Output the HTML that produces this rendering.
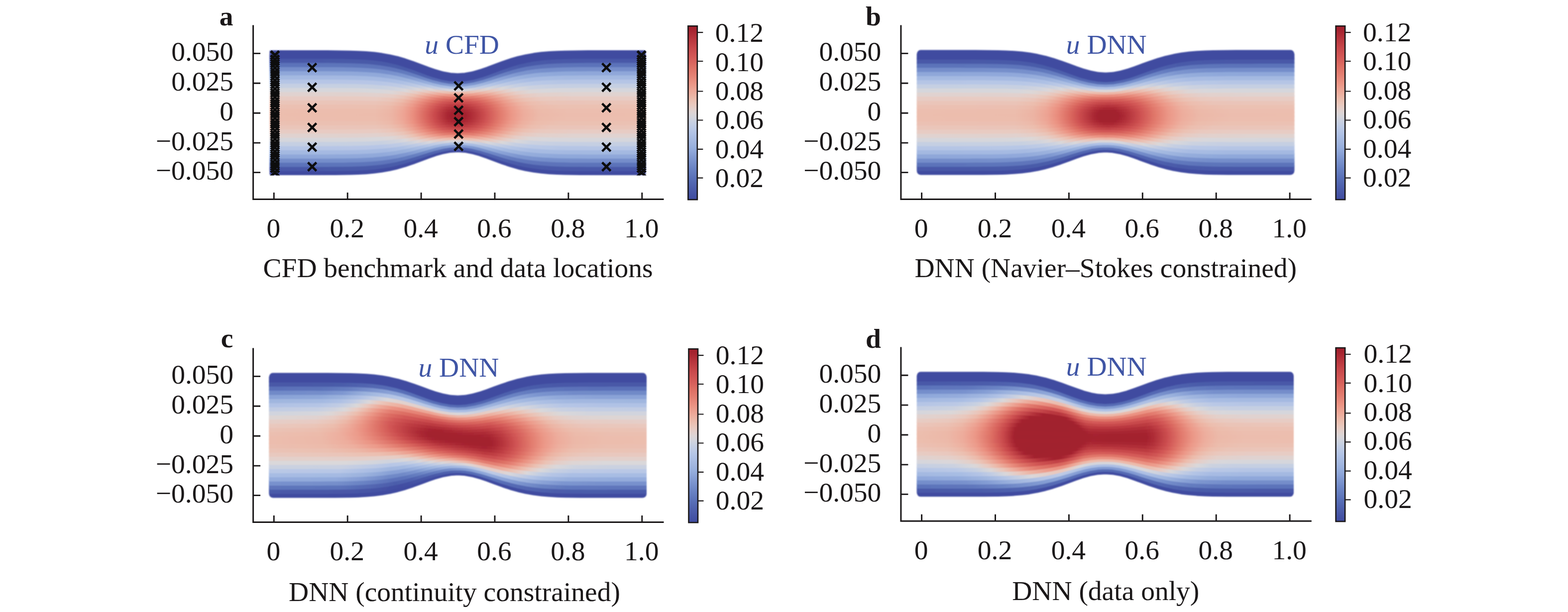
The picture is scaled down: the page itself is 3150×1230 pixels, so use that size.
<!DOCTYPE html>
<html lang="en"><head><meta charset="utf-8"><title>Stenosis flow: CFD vs DNN</title>
<style>
html,body{margin:0;padding:0;background:#fff;}
body{width:3150px;height:1230px;overflow:hidden;}
svg{display:block;font-family:"Liberation Serif","DejaVu Serif",serif;font-size:55.5px;fill:#1a1718;}
</style></head><body>
<svg width="3150" height="1230" viewBox="0 0 3150 1230">
<rect width="3150" height="1230" fill="#fff"/>
<defs><filter id="soft" x="-2%" y="-8%" width="104%" height="116%"><feGaussianBlur stdDeviation="0.9"/></filter><filter id="soft2" x="-2%" y="-8%" width="104%" height="116%"><feGaussianBlur stdDeviation="0.55"/></filter></defs>
<g id="panel-a">
<g filter="url(#soft)">
<defs><linearGradient id="ga1" gradientUnits="userSpaceOnUse" x1="550.1" y1="0" x2="1288.7" y2="0"><stop offset="0.000" stop-color="#4959a8"/><stop offset="0.354" stop-color="#4a5ba9"/><stop offset="0.496" stop-color="#566bb5"/><stop offset="0.571" stop-color="#5265b1"/><stop offset="0.671" stop-color="#4a5aa9"/><stop offset="1.000" stop-color="#4959a8"/></linearGradient><linearGradient id="ga2" gradientUnits="userSpaceOnUse" x1="550.1" y1="0" x2="1288.7" y2="0"><stop offset="0.000" stop-color="#5c73ba"/><stop offset="0.321" stop-color="#5e75bb"/><stop offset="0.383" stop-color="#667fc1"/><stop offset="0.479" stop-color="#829bd3"/><stop offset="0.517" stop-color="#839cd3"/><stop offset="0.588" stop-color="#718ac8"/><stop offset="0.650" stop-color="#637abe"/><stop offset="0.733" stop-color="#5d73ba"/><stop offset="1.000" stop-color="#5c73ba"/></linearGradient><linearGradient id="ga3" gradientUnits="userSpaceOnUse" x1="550.1" y1="0" x2="1288.7" y2="0"><stop offset="0.000" stop-color="#748dca"/><stop offset="0.308" stop-color="#768fcc"/><stop offset="0.362" stop-color="#7f98d1"/><stop offset="0.421" stop-color="#99b0dd"/><stop offset="0.475" stop-color="#acc0e4"/><stop offset="0.508" stop-color="#afc2e5"/><stop offset="0.562" stop-color="#a3b8e0"/><stop offset="0.617" stop-color="#8ca4d8"/><stop offset="0.667" stop-color="#7c95cf"/><stop offset="0.746" stop-color="#758ecb"/><stop offset="1.000" stop-color="#748dca"/></linearGradient><linearGradient id="ga4" gradientUnits="userSpaceOnUse" x1="550.1" y1="0" x2="1288.7" y2="0"><stop offset="0.000" stop-color="#8fa7d9"/><stop offset="0.296" stop-color="#91a9da"/><stop offset="0.354" stop-color="#9ab1dd"/><stop offset="0.404" stop-color="#adc0e4"/><stop offset="0.429" stop-color="#bccae5"/><stop offset="0.475" stop-color="#d6d6dc"/><stop offset="0.500" stop-color="#dbd7d9"/><stop offset="0.529" stop-color="#d6d6dc"/><stop offset="0.588" stop-color="#b7c7e6"/><stop offset="0.625" stop-color="#a5bae2"/><stop offset="0.688" stop-color="#95addc"/><stop offset="0.771" stop-color="#8fa8da"/><stop offset="1.000" stop-color="#8fa7d9"/></linearGradient><linearGradient id="ga5" gradientUnits="userSpaceOnUse" x1="550.1" y1="0" x2="1288.7" y2="0"><stop offset="0.000" stop-color="#a4b9e1"/><stop offset="0.304" stop-color="#a6bae2"/><stop offset="0.350" stop-color="#adc0e4"/><stop offset="0.388" stop-color="#becbe4"/><stop offset="0.417" stop-color="#d4d5dd"/><stop offset="0.425" stop-color="#dbd8d9"/><stop offset="0.454" stop-color="#e9c8bd"/><stop offset="0.479" stop-color="#ecbbab"/><stop offset="0.500" stop-color="#ecb7a7"/><stop offset="0.525" stop-color="#ecbcac"/><stop offset="0.554" stop-color="#e8cac0"/><stop offset="0.583" stop-color="#dad8d9"/><stop offset="0.621" stop-color="#c0cce4"/><stop offset="0.650" stop-color="#b3c4e5"/><stop offset="0.696" stop-color="#a8bce3"/><stop offset="0.812" stop-color="#a4b9e1"/><stop offset="1.000" stop-color="#a4b9e1"/></linearGradient><linearGradient id="ga6" gradientUnits="userSpaceOnUse" x1="550.1" y1="0" x2="1288.7" y2="0"><stop offset="0.000" stop-color="#b5c5e5"/><stop offset="0.292" stop-color="#b7c6e6"/><stop offset="0.342" stop-color="#bfcbe4"/><stop offset="0.371" stop-color="#ccd2df"/><stop offset="0.392" stop-color="#dbd7d9"/><stop offset="0.417" stop-color="#e9c9bf"/><stop offset="0.450" stop-color="#eda999"/><stop offset="0.475" stop-color="#eb9686"/><stop offset="0.496" stop-color="#ea8f80"/><stop offset="0.521" stop-color="#eb9383"/><stop offset="0.550" stop-color="#eda595"/><stop offset="0.583" stop-color="#ebc2b4"/><stop offset="0.600" stop-color="#e5cdc7"/><stop offset="0.621" stop-color="#dad8d9"/><stop offset="0.654" stop-color="#c6cfe2"/><stop offset="0.700" stop-color="#bac9e6"/><stop offset="0.787" stop-color="#b5c5e5"/><stop offset="1.000" stop-color="#b5c5e5"/></linearGradient><linearGradient id="ga7" gradientUnits="userSpaceOnUse" x1="550.1" y1="0" x2="1288.7" y2="0"><stop offset="0.000" stop-color="#c5cfe2"/><stop offset="0.292" stop-color="#c7d0e1"/><stop offset="0.338" stop-color="#d1d4de"/><stop offset="0.358" stop-color="#dad8da"/><stop offset="0.388" stop-color="#e8cbc2"/><stop offset="0.408" stop-color="#ecb9a9"/><stop offset="0.442" stop-color="#eb9383"/><stop offset="0.462" stop-color="#e37e71"/><stop offset="0.487" stop-color="#df7266"/><stop offset="0.512" stop-color="#df7266"/><stop offset="0.542" stop-color="#e37e71"/><stop offset="0.571" stop-color="#ec9989"/><stop offset="0.608" stop-color="#ebbfb1"/><stop offset="0.633" stop-color="#e4cfc9"/><stop offset="0.658" stop-color="#dad8da"/><stop offset="0.700" stop-color="#ccd2e0"/><stop offset="0.767" stop-color="#c6cfe2"/><stop offset="1.000" stop-color="#c5cfe2"/></linearGradient><linearGradient id="ga8" gradientUnits="userSpaceOnUse" x1="550.1" y1="0" x2="1288.7" y2="0"><stop offset="0.000" stop-color="#d5d6dc"/><stop offset="0.283" stop-color="#d7d7db"/><stop offset="0.321" stop-color="#dcd6d7"/><stop offset="0.354" stop-color="#e5cec8"/><stop offset="0.379" stop-color="#ebc1b2"/><stop offset="0.404" stop-color="#eda797"/><stop offset="0.425" stop-color="#e98d7e"/><stop offset="0.446" stop-color="#e0766a"/><stop offset="0.467" stop-color="#d8645d"/><stop offset="0.487" stop-color="#d35857"/><stop offset="0.512" stop-color="#d35857"/><stop offset="0.533" stop-color="#d7615c"/><stop offset="0.558" stop-color="#e07569"/><stop offset="0.579" stop-color="#e7897a"/><stop offset="0.600" stop-color="#eca090"/><stop offset="0.629" stop-color="#ecbdae"/><stop offset="0.658" stop-color="#e6cdc6"/><stop offset="0.696" stop-color="#dcd6d6"/><stop offset="0.733" stop-color="#d8d7db"/><stop offset="0.946" stop-color="#d5d6dc"/><stop offset="1.000" stop-color="#d5d6dc"/></linearGradient><linearGradient id="ga9" gradientUnits="userSpaceOnUse" x1="550.1" y1="0" x2="1288.7" y2="0"><stop offset="0.000" stop-color="#e0d3d0"/><stop offset="0.279" stop-color="#e1d1ce"/><stop offset="0.325" stop-color="#e6cdc5"/><stop offset="0.354" stop-color="#eac3b6"/><stop offset="0.375" stop-color="#ecb4a4"/><stop offset="0.408" stop-color="#ea8f80"/><stop offset="0.438" stop-color="#dd6d62"/><stop offset="0.458" stop-color="#d25756"/><stop offset="0.483" stop-color="#c8494b"/><stop offset="0.504" stop-color="#c64649"/><stop offset="0.533" stop-color="#cd4f50"/><stop offset="0.554" stop-color="#d65d5a"/><stop offset="0.579" stop-color="#e1776a"/><stop offset="0.608" stop-color="#eb9787"/><stop offset="0.646" stop-color="#ecbaaa"/><stop offset="0.679" stop-color="#e8c9c0"/><stop offset="0.721" stop-color="#e3d0cb"/><stop offset="0.812" stop-color="#e0d3d0"/><stop offset="1.000" stop-color="#e0d3d0"/></linearGradient><linearGradient id="ga10" gradientUnits="userSpaceOnUse" x1="550.1" y1="0" x2="1288.7" y2="0"><stop offset="0.000" stop-color="#e7ccc4"/><stop offset="0.279" stop-color="#e8cbc2"/><stop offset="0.321" stop-color="#eac5b9"/><stop offset="0.350" stop-color="#ecbaaa"/><stop offset="0.379" stop-color="#eca292"/><stop offset="0.400" stop-color="#e88b7c"/><stop offset="0.429" stop-color="#db6860"/><stop offset="0.450" stop-color="#ce5152"/><stop offset="0.479" stop-color="#bd3c42"/><stop offset="0.500" stop-color="#b8363e"/><stop offset="0.525" stop-color="#be3c42"/><stop offset="0.562" stop-color="#d25756"/><stop offset="0.592" stop-color="#e0776a"/><stop offset="0.625" stop-color="#ec9a8a"/><stop offset="0.658" stop-color="#ecb6a6"/><stop offset="0.683" stop-color="#ebc1b3"/><stop offset="0.725" stop-color="#e9c9bf"/><stop offset="0.812" stop-color="#e7ccc4"/><stop offset="1.000" stop-color="#e7ccc4"/></linearGradient><linearGradient id="ga11" gradientUnits="userSpaceOnUse" x1="550.1" y1="0" x2="1288.7" y2="0"><stop offset="0.000" stop-color="#eac6ba"/><stop offset="0.275" stop-color="#eac4b8"/><stop offset="0.317" stop-color="#ebbfb0"/><stop offset="0.346" stop-color="#ecb3a3"/><stop offset="0.375" stop-color="#ec9d8d"/><stop offset="0.396" stop-color="#e68578"/><stop offset="0.421" stop-color="#da6860"/><stop offset="0.442" stop-color="#cd5051"/><stop offset="0.471" stop-color="#b7353d"/><stop offset="0.492" stop-color="#ad2b36"/><stop offset="0.512" stop-color="#ae2c36"/><stop offset="0.537" stop-color="#ba3940"/><stop offset="0.579" stop-color="#d65e5a"/><stop offset="0.604" stop-color="#e27a6d"/><stop offset="0.633" stop-color="#eb9888"/><stop offset="0.667" stop-color="#edb1a1"/><stop offset="0.700" stop-color="#ecbeaf"/><stop offset="0.750" stop-color="#eac4b8"/><stop offset="1.000" stop-color="#eac6ba"/></linearGradient><linearGradient id="ga12" gradientUnits="userSpaceOnUse" x1="550.1" y1="0" x2="1288.7" y2="0"><stop offset="0.000" stop-color="#ebc1b3"/><stop offset="0.275" stop-color="#ebc0b1"/><stop offset="0.317" stop-color="#ecb9a9"/><stop offset="0.350" stop-color="#edaa9a"/><stop offset="0.379" stop-color="#eb9282"/><stop offset="0.417" stop-color="#da665f"/><stop offset="0.438" stop-color="#cc4e4f"/><stop offset="0.471" stop-color="#b02e37"/><stop offset="0.492" stop-color="#a52330"/><stop offset="0.512" stop-color="#a62430"/><stop offset="0.537" stop-color="#b3313a"/><stop offset="0.575" stop-color="#cf5353"/><stop offset="0.608" stop-color="#e1786b"/><stop offset="0.642" stop-color="#ec9989"/><stop offset="0.675" stop-color="#edaf9f"/><stop offset="0.713" stop-color="#ecbcac"/><stop offset="0.779" stop-color="#ebc1b2"/><stop offset="1.000" stop-color="#ebc1b3"/></linearGradient><linearGradient id="ga13" gradientUnits="userSpaceOnUse" x1="550.1" y1="0" x2="1288.7" y2="0"><stop offset="0.000" stop-color="#ecbeaf"/><stop offset="0.275" stop-color="#ecbdad"/><stop offset="0.321" stop-color="#ecb5a5"/><stop offset="0.354" stop-color="#eda494"/><stop offset="0.379" stop-color="#e98e7f"/><stop offset="0.412" stop-color="#da6860"/><stop offset="0.438" stop-color="#ca4a4d"/><stop offset="0.471" stop-color="#ab2934"/><stop offset="0.487" stop-color="#a3212e"/><stop offset="0.517" stop-color="#a3212e"/><stop offset="0.542" stop-color="#b23039"/><stop offset="0.575" stop-color="#cd5051"/><stop offset="0.613" stop-color="#e1796c"/><stop offset="0.646" stop-color="#ec9888"/><stop offset="0.679" stop-color="#edad9d"/><stop offset="0.721" stop-color="#ecbaaa"/><stop offset="0.800" stop-color="#ecbeaf"/><stop offset="1.000" stop-color="#ecbeaf"/></linearGradient><linearGradient id="ga14" gradientUnits="userSpaceOnUse" x1="550.1" y1="0" x2="1288.7" y2="0"><stop offset="0.000" stop-color="#ecbeae"/><stop offset="0.275" stop-color="#ecbcac"/><stop offset="0.321" stop-color="#ecb4a4"/><stop offset="0.354" stop-color="#eda393"/><stop offset="0.379" stop-color="#e98d7e"/><stop offset="0.412" stop-color="#da675f"/><stop offset="0.438" stop-color="#c9494c"/><stop offset="0.471" stop-color="#aa2833"/><stop offset="0.483" stop-color="#a3212e"/><stop offset="0.521" stop-color="#a3212e"/><stop offset="0.546" stop-color="#b5333b"/><stop offset="0.579" stop-color="#cf5353"/><stop offset="0.613" stop-color="#e1786b"/><stop offset="0.646" stop-color="#eb9787"/><stop offset="0.679" stop-color="#edac9c"/><stop offset="0.721" stop-color="#ecb9a9"/><stop offset="0.800" stop-color="#ecbdae"/><stop offset="1.000" stop-color="#ecbeae"/></linearGradient><linearGradient id="ga15" gradientUnits="userSpaceOnUse" x1="550.1" y1="0" x2="1288.7" y2="0"><stop offset="0.000" stop-color="#ecbeaf"/><stop offset="0.275" stop-color="#ecbdad"/><stop offset="0.321" stop-color="#ecb5a5"/><stop offset="0.354" stop-color="#eda494"/><stop offset="0.379" stop-color="#e98e7f"/><stop offset="0.412" stop-color="#da6860"/><stop offset="0.438" stop-color="#ca4a4d"/><stop offset="0.471" stop-color="#ab2934"/><stop offset="0.487" stop-color="#a3212e"/><stop offset="0.517" stop-color="#a3212e"/><stop offset="0.542" stop-color="#b23039"/><stop offset="0.575" stop-color="#cd5051"/><stop offset="0.613" stop-color="#e1796c"/><stop offset="0.646" stop-color="#ec9888"/><stop offset="0.679" stop-color="#edad9d"/><stop offset="0.721" stop-color="#ecbaaa"/><stop offset="0.800" stop-color="#ecbeaf"/><stop offset="1.000" stop-color="#ecbeaf"/></linearGradient><linearGradient id="ga16" gradientUnits="userSpaceOnUse" x1="550.1" y1="0" x2="1288.7" y2="0"><stop offset="0.000" stop-color="#ebc1b3"/><stop offset="0.275" stop-color="#ebc0b1"/><stop offset="0.317" stop-color="#ecb9a9"/><stop offset="0.350" stop-color="#edaa9a"/><stop offset="0.379" stop-color="#eb9282"/><stop offset="0.417" stop-color="#da665f"/><stop offset="0.438" stop-color="#cc4e4f"/><stop offset="0.471" stop-color="#b02e37"/><stop offset="0.492" stop-color="#a52330"/><stop offset="0.512" stop-color="#a62430"/><stop offset="0.537" stop-color="#b3313a"/><stop offset="0.575" stop-color="#cf5353"/><stop offset="0.608" stop-color="#e1786b"/><stop offset="0.642" stop-color="#ec9989"/><stop offset="0.675" stop-color="#edaf9f"/><stop offset="0.713" stop-color="#ecbcac"/><stop offset="0.779" stop-color="#ebc1b2"/><stop offset="1.000" stop-color="#ebc1b3"/></linearGradient><linearGradient id="ga17" gradientUnits="userSpaceOnUse" x1="550.1" y1="0" x2="1288.7" y2="0"><stop offset="0.000" stop-color="#eac6ba"/><stop offset="0.275" stop-color="#eac4b8"/><stop offset="0.317" stop-color="#ebbfb0"/><stop offset="0.346" stop-color="#ecb3a3"/><stop offset="0.375" stop-color="#ec9d8d"/><stop offset="0.396" stop-color="#e68578"/><stop offset="0.421" stop-color="#da6860"/><stop offset="0.442" stop-color="#cd5051"/><stop offset="0.471" stop-color="#b7353d"/><stop offset="0.492" stop-color="#ad2b36"/><stop offset="0.512" stop-color="#ae2c36"/><stop offset="0.537" stop-color="#ba3940"/><stop offset="0.579" stop-color="#d65e5a"/><stop offset="0.604" stop-color="#e27a6d"/><stop offset="0.633" stop-color="#eb9888"/><stop offset="0.667" stop-color="#edb1a1"/><stop offset="0.700" stop-color="#ecbeaf"/><stop offset="0.750" stop-color="#eac4b8"/><stop offset="1.000" stop-color="#eac6ba"/></linearGradient><linearGradient id="ga18" gradientUnits="userSpaceOnUse" x1="550.1" y1="0" x2="1288.7" y2="0"><stop offset="0.000" stop-color="#e7ccc4"/><stop offset="0.279" stop-color="#e8cbc2"/><stop offset="0.321" stop-color="#eac5b9"/><stop offset="0.350" stop-color="#ecbaaa"/><stop offset="0.379" stop-color="#eca292"/><stop offset="0.400" stop-color="#e88b7c"/><stop offset="0.429" stop-color="#db6860"/><stop offset="0.450" stop-color="#ce5152"/><stop offset="0.479" stop-color="#bd3c42"/><stop offset="0.500" stop-color="#b8363e"/><stop offset="0.525" stop-color="#be3c42"/><stop offset="0.562" stop-color="#d25756"/><stop offset="0.592" stop-color="#e0776a"/><stop offset="0.625" stop-color="#ec9a8a"/><stop offset="0.658" stop-color="#ecb6a6"/><stop offset="0.683" stop-color="#ebc1b3"/><stop offset="0.725" stop-color="#e9c9bf"/><stop offset="0.812" stop-color="#e7ccc4"/><stop offset="1.000" stop-color="#e7ccc4"/></linearGradient><linearGradient id="ga19" gradientUnits="userSpaceOnUse" x1="550.1" y1="0" x2="1288.7" y2="0"><stop offset="0.000" stop-color="#e0d3d0"/><stop offset="0.279" stop-color="#e1d1ce"/><stop offset="0.325" stop-color="#e6cdc5"/><stop offset="0.354" stop-color="#eac3b6"/><stop offset="0.375" stop-color="#ecb4a4"/><stop offset="0.408" stop-color="#ea8f80"/><stop offset="0.438" stop-color="#dd6d62"/><stop offset="0.458" stop-color="#d25756"/><stop offset="0.483" stop-color="#c8494b"/><stop offset="0.504" stop-color="#c64649"/><stop offset="0.533" stop-color="#cd4f50"/><stop offset="0.554" stop-color="#d65d5a"/><stop offset="0.579" stop-color="#e1776a"/><stop offset="0.608" stop-color="#eb9787"/><stop offset="0.646" stop-color="#ecbaaa"/><stop offset="0.679" stop-color="#e8c9c0"/><stop offset="0.721" stop-color="#e3d0cb"/><stop offset="0.812" stop-color="#e0d3d0"/><stop offset="1.000" stop-color="#e0d3d0"/></linearGradient><linearGradient id="ga20" gradientUnits="userSpaceOnUse" x1="550.1" y1="0" x2="1288.7" y2="0"><stop offset="0.000" stop-color="#d5d6dc"/><stop offset="0.283" stop-color="#d7d7db"/><stop offset="0.321" stop-color="#dcd6d7"/><stop offset="0.354" stop-color="#e5cec8"/><stop offset="0.379" stop-color="#ebc1b2"/><stop offset="0.404" stop-color="#eda797"/><stop offset="0.425" stop-color="#e98d7e"/><stop offset="0.446" stop-color="#e0766a"/><stop offset="0.467" stop-color="#d8645d"/><stop offset="0.487" stop-color="#d35857"/><stop offset="0.512" stop-color="#d35857"/><stop offset="0.533" stop-color="#d7615c"/><stop offset="0.558" stop-color="#e07569"/><stop offset="0.579" stop-color="#e7897a"/><stop offset="0.600" stop-color="#eca090"/><stop offset="0.629" stop-color="#ecbdae"/><stop offset="0.658" stop-color="#e6cdc6"/><stop offset="0.696" stop-color="#dcd6d6"/><stop offset="0.733" stop-color="#d8d7db"/><stop offset="0.946" stop-color="#d5d6dc"/><stop offset="1.000" stop-color="#d5d6dc"/></linearGradient><linearGradient id="ga21" gradientUnits="userSpaceOnUse" x1="550.1" y1="0" x2="1288.7" y2="0"><stop offset="0.000" stop-color="#c5cfe2"/><stop offset="0.292" stop-color="#c7d0e1"/><stop offset="0.338" stop-color="#d1d4de"/><stop offset="0.358" stop-color="#dad8da"/><stop offset="0.388" stop-color="#e8cbc2"/><stop offset="0.408" stop-color="#ecb9a9"/><stop offset="0.442" stop-color="#eb9383"/><stop offset="0.462" stop-color="#e37e71"/><stop offset="0.487" stop-color="#df7266"/><stop offset="0.512" stop-color="#df7266"/><stop offset="0.542" stop-color="#e37e71"/><stop offset="0.571" stop-color="#ec9989"/><stop offset="0.608" stop-color="#ebbfb1"/><stop offset="0.633" stop-color="#e4cfc9"/><stop offset="0.658" stop-color="#dad8da"/><stop offset="0.700" stop-color="#ccd2e0"/><stop offset="0.767" stop-color="#c6cfe2"/><stop offset="1.000" stop-color="#c5cfe2"/></linearGradient><linearGradient id="ga22" gradientUnits="userSpaceOnUse" x1="550.1" y1="0" x2="1288.7" y2="0"><stop offset="0.000" stop-color="#b5c5e5"/><stop offset="0.292" stop-color="#b7c6e6"/><stop offset="0.342" stop-color="#bfcbe4"/><stop offset="0.371" stop-color="#ccd2df"/><stop offset="0.392" stop-color="#dbd7d9"/><stop offset="0.417" stop-color="#e9c9bf"/><stop offset="0.450" stop-color="#eda999"/><stop offset="0.475" stop-color="#eb9686"/><stop offset="0.496" stop-color="#ea8f80"/><stop offset="0.521" stop-color="#eb9383"/><stop offset="0.550" stop-color="#eda595"/><stop offset="0.583" stop-color="#ebc2b4"/><stop offset="0.600" stop-color="#e5cdc7"/><stop offset="0.621" stop-color="#dad8d9"/><stop offset="0.654" stop-color="#c6cfe2"/><stop offset="0.700" stop-color="#bac9e6"/><stop offset="0.787" stop-color="#b5c5e5"/><stop offset="1.000" stop-color="#b5c5e5"/></linearGradient><linearGradient id="ga23" gradientUnits="userSpaceOnUse" x1="550.1" y1="0" x2="1288.7" y2="0"><stop offset="0.000" stop-color="#a4b9e1"/><stop offset="0.304" stop-color="#a6bae2"/><stop offset="0.350" stop-color="#adc0e4"/><stop offset="0.388" stop-color="#becbe4"/><stop offset="0.417" stop-color="#d4d5dd"/><stop offset="0.425" stop-color="#dbd8d9"/><stop offset="0.454" stop-color="#e9c8bd"/><stop offset="0.479" stop-color="#ecbbab"/><stop offset="0.500" stop-color="#ecb7a7"/><stop offset="0.525" stop-color="#ecbcac"/><stop offset="0.554" stop-color="#e8cac0"/><stop offset="0.583" stop-color="#dad8d9"/><stop offset="0.621" stop-color="#c0cce4"/><stop offset="0.650" stop-color="#b3c4e5"/><stop offset="0.696" stop-color="#a8bce3"/><stop offset="0.812" stop-color="#a4b9e1"/><stop offset="1.000" stop-color="#a4b9e1"/></linearGradient><linearGradient id="ga24" gradientUnits="userSpaceOnUse" x1="550.1" y1="0" x2="1288.7" y2="0"><stop offset="0.000" stop-color="#8fa7d9"/><stop offset="0.296" stop-color="#91a9da"/><stop offset="0.354" stop-color="#9ab1dd"/><stop offset="0.404" stop-color="#adc0e4"/><stop offset="0.429" stop-color="#bccae5"/><stop offset="0.475" stop-color="#d6d6dc"/><stop offset="0.500" stop-color="#dbd7d9"/><stop offset="0.529" stop-color="#d6d6dc"/><stop offset="0.588" stop-color="#b7c7e6"/><stop offset="0.625" stop-color="#a5bae2"/><stop offset="0.688" stop-color="#95addc"/><stop offset="0.771" stop-color="#8fa8da"/><stop offset="1.000" stop-color="#8fa7d9"/></linearGradient><linearGradient id="ga25" gradientUnits="userSpaceOnUse" x1="550.1" y1="0" x2="1288.7" y2="0"><stop offset="0.000" stop-color="#748dca"/><stop offset="0.308" stop-color="#768fcc"/><stop offset="0.362" stop-color="#7f98d1"/><stop offset="0.421" stop-color="#99b0dd"/><stop offset="0.475" stop-color="#acc0e4"/><stop offset="0.508" stop-color="#afc2e5"/><stop offset="0.562" stop-color="#a3b8e0"/><stop offset="0.617" stop-color="#8ca4d8"/><stop offset="0.667" stop-color="#7c95cf"/><stop offset="0.746" stop-color="#758ecb"/><stop offset="1.000" stop-color="#748dca"/></linearGradient><linearGradient id="ga26" gradientUnits="userSpaceOnUse" x1="550.1" y1="0" x2="1288.7" y2="0"><stop offset="0.000" stop-color="#5c73ba"/><stop offset="0.321" stop-color="#5e75bb"/><stop offset="0.383" stop-color="#667fc1"/><stop offset="0.479" stop-color="#829bd3"/><stop offset="0.517" stop-color="#839cd3"/><stop offset="0.588" stop-color="#718ac8"/><stop offset="0.650" stop-color="#637abe"/><stop offset="0.733" stop-color="#5d73ba"/><stop offset="1.000" stop-color="#5c73ba"/></linearGradient><linearGradient id="ga27" gradientUnits="userSpaceOnUse" x1="550.1" y1="0" x2="1288.7" y2="0"><stop offset="0.000" stop-color="#4959a8"/><stop offset="0.354" stop-color="#4a5ba9"/><stop offset="0.496" stop-color="#566bb5"/><stop offset="0.571" stop-color="#5265b1"/><stop offset="0.671" stop-color="#4a5aa9"/><stop offset="1.000" stop-color="#4959a8"/></linearGradient><clipPath id="cla"><rect x="541.5" y="101.0" width="755.8" height="251.2" rx="3.0"/></clipPath></defs>
<g fill="none" stroke-width="17.20" stroke-linejoin="round" clip-path="url(#cla)"><path d="M539.5,343.6 550.1,343.6 565.5,343.6 580.9,343.6 596.3,343.6 611.6,343.6 627,343.6 642.4,343.6 657.8,343.5 673.2,343.4 688.6,343.2 704,342.9 719.4,342.4 734.8,341.6 750.1,340.3 765.5,338.3 780.9,335.6 796.3,332.1 811.7,327.6 827.1,322.4 842.5,316.7 857.9,310.9 873.2,305.6 888.6,301.2 904,298.4 919.4,297.4 934.8,298.4 950.2,301.2 965.6,305.6 981,310.9 996.3,316.7 1011.7,322.4 1027.1,327.6 1042.5,332.1 1057.9,335.6 1073.3,338.3 1088.7,340.3 1104.1,341.6 1119.4,342.4 1134.8,342.9 1150.2,343.2 1165.6,343.4 1181,343.5 1196.4,343.6 1211.8,343.6 1227.2,343.6 1242.5,343.6 1257.9,343.6 1273.3,343.6 1288.7,343.6 1299.3,343.6" stroke="#404ca0"/>
<path d="M539.5,335.2 550.1,335.2 565.5,335.2 580.9,335.2 596.3,335.2 611.6,335.2 627,335.2 642.4,335.2 657.8,335.2 673.2,335.1 688.6,334.9 704,334.6 719.4,334.1 734.8,333.4 750.1,332.1 765.5,330.3 780.9,327.8 796.3,324.5 811.7,320.4 827.1,315.6 842.5,310.3 857.9,304.9 873.2,299.9 888.6,295.9 904,293.3 919.4,292.3 934.8,293.3 950.2,295.9 965.6,299.9 981,304.9 996.3,310.3 1011.7,315.6 1027.1,320.4 1042.5,324.5 1057.9,327.8 1073.3,330.3 1088.7,332.1 1104.1,333.4 1119.4,334.1 1134.8,334.6 1150.2,334.9 1165.6,335.1 1181,335.2 1196.4,335.2 1211.8,335.2 1227.2,335.2 1242.5,335.2 1257.9,335.2 1273.3,335.2 1288.7,335.2 1299.3,335.2" stroke="url(#ga1)"/>
<path d="M539.5,326.9 550.1,326.9 565.5,326.9 580.9,326.9 596.3,326.9 611.6,326.9 627,326.9 642.4,326.9 657.8,326.8 673.2,326.7 688.6,326.6 704,326.3 719.4,325.9 734.8,325.1 750.1,324 765.5,322.4 780.9,320.1 796.3,317 811.7,313.2 827.1,308.7 842.5,303.9 857.9,298.9 873.2,294.3 888.6,290.6 904,288.1 919.4,287.3 934.8,288.1 950.2,290.6 965.6,294.3 981,298.9 996.3,303.9 1011.7,308.7 1027.1,313.2 1042.5,317 1057.9,320.1 1073.3,322.4 1088.7,324 1104.1,325.1 1119.4,325.9 1134.8,326.3 1150.2,326.6 1165.6,326.7 1181,326.8 1196.4,326.9 1211.8,326.9 1227.2,326.9 1242.5,326.9 1257.9,326.9 1273.3,326.9 1288.7,326.9 1299.3,326.9" stroke="url(#ga2)"/>
<path d="M539.5,318.5 550.1,318.5 565.5,318.5 580.9,318.5 596.3,318.5 611.6,318.5 627,318.5 642.4,318.5 657.8,318.5 673.2,318.4 688.6,318.3 704,318 719.4,317.6 734.8,316.9 750.1,315.9 765.5,314.4 780.9,312.3 796.3,309.5 811.7,306 827.1,301.9 842.5,297.4 857.9,292.9 873.2,288.7 888.6,285.2 904,283 919.4,282.2 934.8,283 950.2,285.2 965.6,288.7 981,292.9 996.3,297.4 1011.7,301.9 1027.1,306 1042.5,309.5 1057.9,312.3 1073.3,314.4 1088.7,315.9 1104.1,316.9 1119.4,317.6 1134.8,318 1150.2,318.3 1165.6,318.4 1181,318.5 1196.4,318.5 1211.8,318.5 1227.2,318.5 1242.5,318.5 1257.9,318.5 1273.3,318.5 1288.7,318.5 1299.3,318.5" stroke="url(#ga3)"/>
<path d="M539.5,310.2 550.1,310.2 565.5,310.2 580.9,310.2 596.3,310.2 611.6,310.2 627,310.2 642.4,310.1 657.8,310.1 673.2,310 688.6,309.9 704,309.7 719.4,309.3 734.8,308.7 750.1,307.8 765.5,306.4 780.9,304.5 796.3,301.9 811.7,298.8 827.1,295.1 842.5,291 857.9,286.8 873.2,283 888.6,279.9 904,277.9 919.4,277.2 934.8,277.9 950.2,279.9 965.6,283 981,286.8 996.3,291 1011.7,295.1 1027.1,298.8 1042.5,301.9 1057.9,304.5 1073.3,306.4 1088.7,307.8 1104.1,308.7 1119.4,309.3 1134.8,309.7 1150.2,309.9 1165.6,310 1181,310.1 1196.4,310.1 1211.8,310.2 1227.2,310.2 1242.5,310.2 1257.9,310.2 1273.3,310.2 1288.7,310.2 1299.3,310.2" stroke="url(#ga4)"/>
<path d="M539.5,301.8 550.1,301.8 565.5,301.8 580.9,301.8 596.3,301.8 611.6,301.8 627,301.8 642.4,301.8 657.8,301.8 673.2,301.7 688.6,301.6 704,301.4 719.4,301.1 734.8,300.5 750.1,299.7 765.5,298.4 780.9,296.7 796.3,294.4 811.7,291.6 827.1,288.2 842.5,284.5 857.9,280.8 873.2,277.4 888.6,274.6 904,272.7 919.4,272.1 934.8,272.7 950.2,274.6 965.6,277.4 981,280.8 996.3,284.5 1011.7,288.2 1027.1,291.6 1042.5,294.4 1057.9,296.7 1073.3,298.4 1088.7,299.7 1104.1,300.5 1119.4,301.1 1134.8,301.4 1150.2,301.6 1165.6,301.7 1181,301.8 1196.4,301.8 1211.8,301.8 1227.2,301.8 1242.5,301.8 1257.9,301.8 1273.3,301.8 1288.7,301.8 1299.3,301.8" stroke="url(#ga5)"/>
<path d="M539.5,293.5 550.1,293.5 565.5,293.5 580.9,293.5 596.3,293.5 611.6,293.5 627,293.4 642.4,293.4 657.8,293.4 673.2,293.4 688.6,293.3 704,293.1 719.4,292.8 734.8,292.3 750.1,291.5 765.5,290.4 780.9,288.9 796.3,286.9 811.7,284.3 827.1,281.4 842.5,278.1 857.9,274.8 873.2,271.7 888.6,269.2 904,267.6 919.4,267 934.8,267.6 950.2,269.2 965.6,271.7 981,274.8 996.3,278.1 1011.7,281.4 1027.1,284.3 1042.5,286.9 1057.9,288.9 1073.3,290.4 1088.7,291.5 1104.1,292.3 1119.4,292.8 1134.8,293.1 1150.2,293.3 1165.6,293.4 1181,293.4 1196.4,293.4 1211.8,293.4 1227.2,293.5 1242.5,293.5 1257.9,293.5 1273.3,293.5 1288.7,293.5 1299.3,293.5" stroke="url(#ga6)"/>
<path d="M539.5,285.1 550.1,285.1 565.5,285.1 580.9,285.1 596.3,285.1 611.6,285.1 627,285.1 642.4,285.1 657.8,285.1 673.2,285 688.6,284.9 704,284.8 719.4,284.5 734.8,284.1 750.1,283.4 765.5,282.5 780.9,281.1 796.3,279.3 811.7,277.1 827.1,274.5 842.5,271.7 857.9,268.8 873.2,266.1 888.6,263.9 904,262.5 919.4,262 934.8,262.5 950.2,263.9 965.6,266.1 981,268.8 996.3,271.7 1011.7,274.5 1027.1,277.1 1042.5,279.3 1057.9,281.1 1073.3,282.5 1088.7,283.4 1104.1,284.1 1119.4,284.5 1134.8,284.8 1150.2,284.9 1165.6,285 1181,285.1 1196.4,285.1 1211.8,285.1 1227.2,285.1 1242.5,285.1 1257.9,285.1 1273.3,285.1 1288.7,285.1 1299.3,285.1" stroke="url(#ga7)"/>
<path d="M539.5,276.7 550.1,276.7 565.5,276.7 580.9,276.7 596.3,276.7 611.6,276.7 627,276.7 642.4,276.7 657.8,276.7 673.2,276.7 688.6,276.6 704,276.5 719.4,276.2 734.8,275.9 750.1,275.3 765.5,274.5 780.9,273.3 796.3,271.8 811.7,269.9 827.1,267.7 842.5,265.2 857.9,262.7 873.2,260.5 888.6,258.6 904,257.4 919.4,256.9 934.8,257.4 950.2,258.6 965.6,260.5 981,262.7 996.3,265.2 1011.7,267.7 1027.1,269.9 1042.5,271.8 1057.9,273.3 1073.3,274.5 1088.7,275.3 1104.1,275.9 1119.4,276.2 1134.8,276.5 1150.2,276.6 1165.6,276.7 1181,276.7 1196.4,276.7 1211.8,276.7 1227.2,276.7 1242.5,276.7 1257.9,276.7 1273.3,276.7 1288.7,276.7 1299.3,276.7" stroke="url(#ga8)"/>
<path d="M539.5,268.4 550.1,268.4 565.5,268.4 580.9,268.4 596.3,268.4 611.6,268.4 627,268.4 642.4,268.4 657.8,268.4 673.2,268.3 688.6,268.3 704,268.2 719.4,268 734.8,267.7 750.1,267.2 765.5,266.5 780.9,265.5 796.3,264.3 811.7,262.7 827.1,260.8 842.5,258.8 857.9,256.7 873.2,254.8 888.6,253.3 904,252.2 919.4,251.9 934.8,252.2 950.2,253.3 965.6,254.8 981,256.7 996.3,258.8 1011.7,260.8 1027.1,262.7 1042.5,264.3 1057.9,265.5 1073.3,266.5 1088.7,267.2 1104.1,267.7 1119.4,268 1134.8,268.2 1150.2,268.3 1165.6,268.3 1181,268.4 1196.4,268.4 1211.8,268.4 1227.2,268.4 1242.5,268.4 1257.9,268.4 1273.3,268.4 1288.7,268.4 1299.3,268.4" stroke="url(#ga9)"/>
<path d="M539.5,260 550.1,260 565.5,260 580.9,260 596.3,260 611.6,260 627,260 642.4,260 657.8,260 673.2,260 688.6,259.9 704,259.8 719.4,259.7 734.8,259.4 750.1,259.1 765.5,258.5 780.9,257.8 796.3,256.7 811.7,255.5 827.1,254 842.5,252.4 857.9,250.7 873.2,249.2 888.6,247.9 904,247.1 919.4,246.8 934.8,247.1 950.2,247.9 965.6,249.2 981,250.7 996.3,252.4 1011.7,254 1027.1,255.5 1042.5,256.7 1057.9,257.8 1073.3,258.5 1088.7,259.1 1104.1,259.4 1119.4,259.7 1134.8,259.8 1150.2,259.9 1165.6,260 1181,260 1196.4,260 1211.8,260 1227.2,260 1242.5,260 1257.9,260 1273.3,260 1288.7,260 1299.3,260" stroke="url(#ga10)"/>
<path d="M539.5,251.7 550.1,251.7 565.5,251.7 580.9,251.7 596.3,251.7 611.6,251.7 627,251.7 642.4,251.7 657.8,251.7 673.2,251.6 688.6,251.6 704,251.5 719.4,251.4 734.8,251.2 750.1,251 765.5,250.5 780.9,250 796.3,249.2 811.7,248.3 827.1,247.1 842.5,245.9 857.9,244.7 873.2,243.5 888.6,242.6 904,242 919.4,241.8 934.8,242 950.2,242.6 965.6,243.5 981,244.7 996.3,245.9 1011.7,247.1 1027.1,248.3 1042.5,249.2 1057.9,250 1073.3,250.5 1088.7,251 1104.1,251.2 1119.4,251.4 1134.8,251.5 1150.2,251.6 1165.6,251.6 1181,251.7 1196.4,251.7 1211.8,251.7 1227.2,251.7 1242.5,251.7 1257.9,251.7 1273.3,251.7 1288.7,251.7 1299.3,251.7" stroke="url(#ga11)"/>
<path d="M539.5,243.3 550.1,243.3 565.5,243.3 580.9,243.3 596.3,243.3 611.6,243.3 627,243.3 642.4,243.3 657.8,243.3 673.2,243.3 688.6,243.3 704,243.2 719.4,243.1 734.8,243 750.1,242.8 765.5,242.6 780.9,242.2 796.3,241.7 811.7,241 827.1,240.3 842.5,239.5 857.9,238.6 873.2,237.9 888.6,237.3 904,236.9 919.4,236.7 934.8,236.9 950.2,237.3 965.6,237.9 981,238.6 996.3,239.5 1011.7,240.3 1027.1,241 1042.5,241.7 1057.9,242.2 1073.3,242.6 1088.7,242.8 1104.1,243 1119.4,243.1 1134.8,243.2 1150.2,243.3 1165.6,243.3 1181,243.3 1196.4,243.3 1211.8,243.3 1227.2,243.3 1242.5,243.3 1257.9,243.3 1273.3,243.3 1288.7,243.3 1299.3,243.3" stroke="url(#ga12)"/>
<path d="M539.5,235 550.1,235 565.5,235 580.9,235 596.3,235 611.6,235 627,235 642.4,235 657.8,235 673.2,234.9 688.6,234.9 704,234.9 719.4,234.9 734.8,234.8 750.1,234.7 765.5,234.6 780.9,234.4 796.3,234.1 811.7,233.8 827.1,233.4 842.5,233 857.9,232.6 873.2,232.2 888.6,231.9 904,231.7 919.4,231.7 934.8,231.7 950.2,231.9 965.6,232.2 981,232.6 996.3,233 1011.7,233.4 1027.1,233.8 1042.5,234.1 1057.9,234.4 1073.3,234.6 1088.7,234.7 1104.1,234.8 1119.4,234.9 1134.8,234.9 1150.2,234.9 1165.6,234.9 1181,235 1196.4,235 1211.8,235 1227.2,235 1242.5,235 1257.9,235 1273.3,235 1288.7,235 1299.3,235" stroke="url(#ga13)"/>
<path d="M539.5,226.6 550.1,226.6 565.5,226.6 580.9,226.6 596.3,226.6 611.6,226.6 627,226.6 642.4,226.6 657.8,226.6 673.2,226.6 688.6,226.6 704,226.6 719.4,226.6 734.8,226.6 750.1,226.6 765.5,226.6 780.9,226.6 796.3,226.6 811.7,226.6 827.1,226.6 842.5,226.6 857.9,226.6 873.2,226.6 888.6,226.6 904,226.6 919.4,226.6 934.8,226.6 950.2,226.6 965.6,226.6 981,226.6 996.3,226.6 1011.7,226.6 1027.1,226.6 1042.5,226.6 1057.9,226.6 1073.3,226.6 1088.7,226.6 1104.1,226.6 1119.4,226.6 1134.8,226.6 1150.2,226.6 1165.6,226.6 1181,226.6 1196.4,226.6 1211.8,226.6 1227.2,226.6 1242.5,226.6 1257.9,226.6 1273.3,226.6 1288.7,226.6 1299.3,226.6" stroke="url(#ga14)"/>
<path d="M539.5,218.2 550.1,218.2 565.5,218.2 580.9,218.2 596.3,218.2 611.6,218.2 627,218.2 642.4,218.2 657.8,218.2 673.2,218.3 688.6,218.3 704,218.3 719.4,218.3 734.8,218.4 750.1,218.5 765.5,218.6 780.9,218.8 796.3,219.1 811.7,219.4 827.1,219.8 842.5,220.2 857.9,220.6 873.2,221 888.6,221.3 904,221.5 919.4,221.5 934.8,221.5 950.2,221.3 965.6,221 981,220.6 996.3,220.2 1011.7,219.8 1027.1,219.4 1042.5,219.1 1057.9,218.8 1073.3,218.6 1088.7,218.5 1104.1,218.4 1119.4,218.3 1134.8,218.3 1150.2,218.3 1165.6,218.3 1181,218.2 1196.4,218.2 1211.8,218.2 1227.2,218.2 1242.5,218.2 1257.9,218.2 1273.3,218.2 1288.7,218.2 1299.3,218.2" stroke="url(#ga15)"/>
<path d="M539.5,209.9 550.1,209.9 565.5,209.9 580.9,209.9 596.3,209.9 611.6,209.9 627,209.9 642.4,209.9 657.8,209.9 673.2,209.9 688.6,209.9 704,210 719.4,210.1 734.8,210.2 750.1,210.4 765.5,210.6 780.9,211 796.3,211.5 811.7,212.2 827.1,212.9 842.5,213.7 857.9,214.6 873.2,215.3 888.6,215.9 904,216.3 919.4,216.5 934.8,216.3 950.2,215.9 965.6,215.3 981,214.6 996.3,213.7 1011.7,212.9 1027.1,212.2 1042.5,211.5 1057.9,211 1073.3,210.6 1088.7,210.4 1104.1,210.2 1119.4,210.1 1134.8,210 1150.2,209.9 1165.6,209.9 1181,209.9 1196.4,209.9 1211.8,209.9 1227.2,209.9 1242.5,209.9 1257.9,209.9 1273.3,209.9 1288.7,209.9 1299.3,209.9" stroke="url(#ga16)"/>
<path d="M539.5,201.5 550.1,201.5 565.5,201.5 580.9,201.5 596.3,201.5 611.6,201.5 627,201.5 642.4,201.5 657.8,201.5 673.2,201.6 688.6,201.6 704,201.7 719.4,201.8 734.8,202 750.1,202.2 765.5,202.7 780.9,203.2 796.3,204 811.7,204.9 827.1,206.1 842.5,207.3 857.9,208.5 873.2,209.7 888.6,210.6 904,211.2 919.4,211.4 934.8,211.2 950.2,210.6 965.6,209.7 981,208.5 996.3,207.3 1011.7,206.1 1027.1,204.9 1042.5,204 1057.9,203.2 1073.3,202.7 1088.7,202.2 1104.1,202 1119.4,201.8 1134.8,201.7 1150.2,201.6 1165.6,201.6 1181,201.5 1196.4,201.5 1211.8,201.5 1227.2,201.5 1242.5,201.5 1257.9,201.5 1273.3,201.5 1288.7,201.5 1299.3,201.5" stroke="url(#ga17)"/>
<path d="M539.5,193.2 550.1,193.2 565.5,193.2 580.9,193.2 596.3,193.2 611.6,193.2 627,193.2 642.4,193.2 657.8,193.2 673.2,193.2 688.6,193.3 704,193.4 719.4,193.5 734.8,193.8 750.1,194.1 765.5,194.7 780.9,195.4 796.3,196.5 811.7,197.7 827.1,199.2 842.5,200.8 857.9,202.5 873.2,204 888.6,205.3 904,206.1 919.4,206.4 934.8,206.1 950.2,205.3 965.6,204 981,202.5 996.3,200.8 1011.7,199.2 1027.1,197.7 1042.5,196.5 1057.9,195.4 1073.3,194.7 1088.7,194.1 1104.1,193.8 1119.4,193.5 1134.8,193.4 1150.2,193.3 1165.6,193.2 1181,193.2 1196.4,193.2 1211.8,193.2 1227.2,193.2 1242.5,193.2 1257.9,193.2 1273.3,193.2 1288.7,193.2 1299.3,193.2" stroke="url(#ga18)"/>
<path d="M539.5,184.8 550.1,184.8 565.5,184.8 580.9,184.8 596.3,184.8 611.6,184.8 627,184.8 642.4,184.8 657.8,184.8 673.2,184.9 688.6,184.9 704,185 719.4,185.2 734.8,185.5 750.1,186 765.5,186.7 780.9,187.7 796.3,188.9 811.7,190.5 827.1,192.4 842.5,194.4 857.9,196.5 873.2,198.4 888.6,199.9 904,201 919.4,201.3 934.8,201 950.2,199.9 965.6,198.4 981,196.5 996.3,194.4 1011.7,192.4 1027.1,190.5 1042.5,188.9 1057.9,187.7 1073.3,186.7 1088.7,186 1104.1,185.5 1119.4,185.2 1134.8,185 1150.2,184.9 1165.6,184.9 1181,184.8 1196.4,184.8 1211.8,184.8 1227.2,184.8 1242.5,184.8 1257.9,184.8 1273.3,184.8 1288.7,184.8 1299.3,184.8" stroke="url(#ga19)"/>
<path d="M539.5,176.5 550.1,176.5 565.5,176.5 580.9,176.5 596.3,176.5 611.6,176.5 627,176.5 642.4,176.5 657.8,176.5 673.2,176.5 688.6,176.6 704,176.7 719.4,177 734.8,177.3 750.1,177.9 765.5,178.7 780.9,179.9 796.3,181.4 811.7,183.3 827.1,185.5 842.5,188 857.9,190.5 873.2,192.7 888.6,194.6 904,195.8 919.4,196.3 934.8,195.8 950.2,194.6 965.6,192.7 981,190.5 996.3,188 1011.7,185.5 1027.1,183.3 1042.5,181.4 1057.9,179.9 1073.3,178.7 1088.7,177.9 1104.1,177.3 1119.4,177 1134.8,176.7 1150.2,176.6 1165.6,176.5 1181,176.5 1196.4,176.5 1211.8,176.5 1227.2,176.5 1242.5,176.5 1257.9,176.5 1273.3,176.5 1288.7,176.5 1299.3,176.5" stroke="url(#ga20)"/>
<path d="M539.5,168.1 550.1,168.1 565.5,168.1 580.9,168.1 596.3,168.1 611.6,168.1 627,168.1 642.4,168.1 657.8,168.1 673.2,168.2 688.6,168.3 704,168.4 719.4,168.7 734.8,169.1 750.1,169.8 765.5,170.7 780.9,172.1 796.3,173.9 811.7,176.1 827.1,178.7 842.5,181.5 857.9,184.4 873.2,187.1 888.6,189.3 904,190.7 919.4,191.2 934.8,190.7 950.2,189.3 965.6,187.1 981,184.4 996.3,181.5 1011.7,178.7 1027.1,176.1 1042.5,173.9 1057.9,172.1 1073.3,170.7 1088.7,169.8 1104.1,169.1 1119.4,168.7 1134.8,168.4 1150.2,168.3 1165.6,168.2 1181,168.1 1196.4,168.1 1211.8,168.1 1227.2,168.1 1242.5,168.1 1257.9,168.1 1273.3,168.1 1288.7,168.1 1299.3,168.1" stroke="url(#ga21)"/>
<path d="M539.5,159.7 550.1,159.7 565.5,159.7 580.9,159.7 596.3,159.7 611.6,159.7 627,159.8 642.4,159.8 657.8,159.8 673.2,159.8 688.6,159.9 704,160.1 719.4,160.4 734.8,160.9 750.1,161.7 765.5,162.8 780.9,164.3 796.3,166.3 811.7,168.9 827.1,171.8 842.5,175.1 857.9,178.4 873.2,181.5 888.6,184 904,185.6 919.4,186.2 934.8,185.6 950.2,184 965.6,181.5 981,178.4 996.3,175.1 1011.7,171.8 1027.1,168.9 1042.5,166.3 1057.9,164.3 1073.3,162.8 1088.7,161.7 1104.1,160.9 1119.4,160.4 1134.8,160.1 1150.2,159.9 1165.6,159.8 1181,159.8 1196.4,159.8 1211.8,159.8 1227.2,159.7 1242.5,159.7 1257.9,159.7 1273.3,159.7 1288.7,159.7 1299.3,159.7" stroke="url(#ga22)"/>
<path d="M539.5,151.4 550.1,151.4 565.5,151.4 580.9,151.4 596.3,151.4 611.6,151.4 627,151.4 642.4,151.4 657.8,151.4 673.2,151.5 688.6,151.6 704,151.8 719.4,152.1 734.8,152.7 750.1,153.5 765.5,154.8 780.9,156.5 796.3,158.8 811.7,161.6 827.1,165 842.5,168.7 857.9,172.4 873.2,175.8 888.6,178.6 904,180.5 919.4,181.1 934.8,180.5 950.2,178.6 965.6,175.8 981,172.4 996.3,168.7 1011.7,165 1027.1,161.6 1042.5,158.8 1057.9,156.5 1073.3,154.8 1088.7,153.5 1104.1,152.7 1119.4,152.1 1134.8,151.8 1150.2,151.6 1165.6,151.5 1181,151.4 1196.4,151.4 1211.8,151.4 1227.2,151.4 1242.5,151.4 1257.9,151.4 1273.3,151.4 1288.7,151.4 1299.3,151.4" stroke="url(#ga23)"/>
<path d="M539.5,143 550.1,143 565.5,143 580.9,143 596.3,143 611.6,143 627,143 642.4,143.1 657.8,143.1 673.2,143.2 688.6,143.3 704,143.5 719.4,143.9 734.8,144.5 750.1,145.4 765.5,146.8 780.9,148.7 796.3,151.3 811.7,154.4 827.1,158.1 842.5,162.2 857.9,166.4 873.2,170.2 888.6,173.3 904,175.3 919.4,176 934.8,175.3 950.2,173.3 965.6,170.2 981,166.4 996.3,162.2 1011.7,158.1 1027.1,154.4 1042.5,151.3 1057.9,148.7 1073.3,146.8 1088.7,145.4 1104.1,144.5 1119.4,143.9 1134.8,143.5 1150.2,143.3 1165.6,143.2 1181,143.1 1196.4,143.1 1211.8,143 1227.2,143 1242.5,143 1257.9,143 1273.3,143 1288.7,143 1299.3,143" stroke="url(#ga24)"/>
<path d="M539.5,134.7 550.1,134.7 565.5,134.7 580.9,134.7 596.3,134.7 611.6,134.7 627,134.7 642.4,134.7 657.8,134.7 673.2,134.8 688.6,134.9 704,135.2 719.4,135.6 734.8,136.3 750.1,137.3 765.5,138.8 780.9,140.9 796.3,143.7 811.7,147.2 827.1,151.3 842.5,155.8 857.9,160.3 873.2,164.5 888.6,168 904,170.2 919.4,171 934.8,170.2 950.2,168 965.6,164.5 981,160.3 996.3,155.8 1011.7,151.3 1027.1,147.2 1042.5,143.7 1057.9,140.9 1073.3,138.8 1088.7,137.3 1104.1,136.3 1119.4,135.6 1134.8,135.2 1150.2,134.9 1165.6,134.8 1181,134.7 1196.4,134.7 1211.8,134.7 1227.2,134.7 1242.5,134.7 1257.9,134.7 1273.3,134.7 1288.7,134.7 1299.3,134.7" stroke="url(#ga25)"/>
<path d="M539.5,126.3 550.1,126.3 565.5,126.3 580.9,126.3 596.3,126.3 611.6,126.3 627,126.3 642.4,126.3 657.8,126.4 673.2,126.5 688.6,126.6 704,126.9 719.4,127.3 734.8,128.1 750.1,129.2 765.5,130.8 780.9,133.1 796.3,136.2 811.7,140 827.1,144.5 842.5,149.3 857.9,154.3 873.2,158.9 888.6,162.6 904,165.1 919.4,165.9 934.8,165.1 950.2,162.6 965.6,158.9 981,154.3 996.3,149.3 1011.7,144.5 1027.1,140 1042.5,136.2 1057.9,133.1 1073.3,130.8 1088.7,129.2 1104.1,128.1 1119.4,127.3 1134.8,126.9 1150.2,126.6 1165.6,126.5 1181,126.4 1196.4,126.3 1211.8,126.3 1227.2,126.3 1242.5,126.3 1257.9,126.3 1273.3,126.3 1288.7,126.3 1299.3,126.3" stroke="url(#ga26)"/>
<path d="M539.5,118 550.1,118 565.5,118 580.9,118 596.3,118 611.6,118 627,118 642.4,118 657.8,118 673.2,118.1 688.6,118.3 704,118.6 719.4,119.1 734.8,119.8 750.1,121.1 765.5,122.9 780.9,125.4 796.3,128.7 811.7,132.8 827.1,137.6 842.5,142.9 857.9,148.3 873.2,153.3 888.6,157.3 904,159.9 919.4,160.9 934.8,159.9 950.2,157.3 965.6,153.3 981,148.3 996.3,142.9 1011.7,137.6 1027.1,132.8 1042.5,128.7 1057.9,125.4 1073.3,122.9 1088.7,121.1 1104.1,119.8 1119.4,119.1 1134.8,118.6 1150.2,118.3 1165.6,118.1 1181,118 1196.4,118 1211.8,118 1227.2,118 1242.5,118 1257.9,118 1273.3,118 1288.7,118 1299.3,118" stroke="url(#ga27)"/>
<path d="M539.5,109.6 550.1,109.6 565.5,109.6 580.9,109.6 596.3,109.6 611.6,109.6 627,109.6 642.4,109.6 657.8,109.7 673.2,109.8 688.6,110 704,110.3 719.4,110.8 734.8,111.6 750.1,112.9 765.5,114.9 780.9,117.6 796.3,121.1 811.7,125.6 827.1,130.8 842.5,136.5 857.9,142.3 873.2,147.6 888.6,152 904,154.8 919.4,155.8 934.8,154.8 950.2,152 965.6,147.6 981,142.3 996.3,136.5 1011.7,130.8 1027.1,125.6 1042.5,121.1 1057.9,117.6 1073.3,114.9 1088.7,112.9 1104.1,111.6 1119.4,110.8 1134.8,110.3 1150.2,110 1165.6,109.8 1181,109.7 1196.4,109.6 1211.8,109.6 1227.2,109.6 1242.5,109.6 1257.9,109.6 1273.3,109.6 1288.7,109.6 1299.3,109.6" stroke="#404ca0"/></g>
</g>
<g filter="url(#soft2)">
<clipPath id="clx"><rect x="500" y="101.0" width="900" height="251.6"/></clipPath><g stroke="#0d0d0d" fill="none" clip-path="url(#clx)"><path d="M618.6,127.3l17.0,17.0m-17.0,0l17.0,-17.0M618.6,166.9l17.0,17.0m-17.0,0l17.0,-17.0M618.6,208.1l17.0,17.0m-17.0,0l17.0,-17.0M618.6,247.7l17.0,17.0m-17.0,0l17.0,-17.0M618.6,287.1l17.0,17.0m-17.0,0l17.0,-17.0M618.6,326.5l17.0,17.0m-17.0,0l17.0,-17.0M1209.7,127.3l17.0,17.0m-17.0,0l17.0,-17.0M1209.7,166.9l17.0,17.0m-17.0,0l17.0,-17.0M1209.7,208.1l17.0,17.0m-17.0,0l17.0,-17.0M1209.7,247.7l17.0,17.0m-17.0,0l17.0,-17.0M1209.7,287.1l17.0,17.0m-17.0,0l17.0,-17.0M1209.7,326.5l17.0,17.0m-17.0,0l17.0,-17.0M912.8,164.2l17.0,17.0m-17.0,0l17.0,-17.0M912.8,188.2l17.0,17.0m-17.0,0l17.0,-17.0M912.8,213.1l17.0,17.0m-17.0,0l17.0,-17.0M912.8,236.0l17.0,17.0m-17.0,0l17.0,-17.0M912.8,260.9l17.0,17.0m-17.0,0l17.0,-17.0M912.8,285.6l17.0,17.0m-17.0,0l17.0,-17.0" stroke-width="4.6"/><path d="M544.1,102.7l16.6,16.6m-16.6,0l16.6,-16.6M544.1,111.1l16.6,16.6m-16.6,0l16.6,-16.6M544.1,119.5l16.6,16.6m-16.6,0l16.6,-16.6M544.1,127.9l16.6,16.6m-16.6,0l16.6,-16.6M544.1,136.3l16.6,16.6m-16.6,0l16.6,-16.6M544.1,144.7l16.6,16.6m-16.6,0l16.6,-16.6M544.1,153.1l16.6,16.6m-16.6,0l16.6,-16.6M544.1,161.5l16.6,16.6m-16.6,0l16.6,-16.6M544.1,170.0l16.6,16.6m-16.6,0l16.6,-16.6M544.1,178.4l16.6,16.6m-16.6,0l16.6,-16.6M544.1,186.8l16.6,16.6m-16.6,0l16.6,-16.6M544.1,195.2l16.6,16.6m-16.6,0l16.6,-16.6M544.1,203.6l16.6,16.6m-16.6,0l16.6,-16.6M544.1,212.0l16.6,16.6m-16.6,0l16.6,-16.6M544.1,220.4l16.6,16.6m-16.6,0l16.6,-16.6M544.1,228.8l16.6,16.6m-16.6,0l16.6,-16.6M544.1,237.2l16.6,16.6m-16.6,0l16.6,-16.6M544.1,245.6l16.6,16.6m-16.6,0l16.6,-16.6M544.1,254.0l16.6,16.6m-16.6,0l16.6,-16.6M544.1,262.4l16.6,16.6m-16.6,0l16.6,-16.6M544.1,270.8l16.6,16.6m-16.6,0l16.6,-16.6M544.1,279.2l16.6,16.6m-16.6,0l16.6,-16.6M544.1,287.7l16.6,16.6m-16.6,0l16.6,-16.6M544.1,296.1l16.6,16.6m-16.6,0l16.6,-16.6M544.1,304.5l16.6,16.6m-16.6,0l16.6,-16.6M544.1,312.9l16.6,16.6m-16.6,0l16.6,-16.6M544.1,321.3l16.6,16.6m-16.6,0l16.6,-16.6M544.1,329.7l16.6,16.6m-16.6,0l16.6,-16.6M544.1,338.1l16.6,16.6m-16.6,0l16.6,-16.6M1280.4,102.7l16.6,16.6m-16.6,0l16.6,-16.6M1280.4,111.1l16.6,16.6m-16.6,0l16.6,-16.6M1280.4,119.5l16.6,16.6m-16.6,0l16.6,-16.6M1280.4,127.9l16.6,16.6m-16.6,0l16.6,-16.6M1280.4,136.3l16.6,16.6m-16.6,0l16.6,-16.6M1280.4,144.7l16.6,16.6m-16.6,0l16.6,-16.6M1280.4,153.1l16.6,16.6m-16.6,0l16.6,-16.6M1280.4,161.5l16.6,16.6m-16.6,0l16.6,-16.6M1280.4,170.0l16.6,16.6m-16.6,0l16.6,-16.6M1280.4,178.4l16.6,16.6m-16.6,0l16.6,-16.6M1280.4,186.8l16.6,16.6m-16.6,0l16.6,-16.6M1280.4,195.2l16.6,16.6m-16.6,0l16.6,-16.6M1280.4,203.6l16.6,16.6m-16.6,0l16.6,-16.6M1280.4,212.0l16.6,16.6m-16.6,0l16.6,-16.6M1280.4,220.4l16.6,16.6m-16.6,0l16.6,-16.6M1280.4,228.8l16.6,16.6m-16.6,0l16.6,-16.6M1280.4,237.2l16.6,16.6m-16.6,0l16.6,-16.6M1280.4,245.6l16.6,16.6m-16.6,0l16.6,-16.6M1280.4,254.0l16.6,16.6m-16.6,0l16.6,-16.6M1280.4,262.4l16.6,16.6m-16.6,0l16.6,-16.6M1280.4,270.8l16.6,16.6m-16.6,0l16.6,-16.6M1280.4,279.2l16.6,16.6m-16.6,0l16.6,-16.6M1280.4,287.7l16.6,16.6m-16.6,0l16.6,-16.6M1280.4,296.1l16.6,16.6m-16.6,0l16.6,-16.6M1280.4,304.5l16.6,16.6m-16.6,0l16.6,-16.6M1280.4,312.9l16.6,16.6m-16.6,0l16.6,-16.6M1280.4,321.3l16.6,16.6m-16.6,0l16.6,-16.6M1280.4,329.7l16.6,16.6m-16.6,0l16.6,-16.6M1280.4,338.1l16.6,16.6m-16.6,0l16.6,-16.6" stroke-width="5.25"/></g>
</g>
<path d="M508.6,50.6V400.5H1333.5" fill="none" stroke="#1a1718" stroke-width="3" stroke-linejoin="miter"/>
<path d="M508.6,107.4h14.5M508.6,167.3h14.5M508.6,227.2h14.5M508.6,287.1h14.5M508.6,346.6h14.5M550.3,400.5v-13.5M698.2,400.5v-13.5M846.1,400.5v-13.5M994.0,400.5v-13.5M1141.9,400.5v-13.5M1289.8,400.5v-13.5" fill="none" stroke="#1a1718" stroke-width="2.9"/>
<text x="469.0" y="122.0" text-anchor="end">0.050</text>
<text x="469.0" y="181.9" text-anchor="end">0.025</text>
<text x="469.0" y="241.8" text-anchor="end">0</text>
<text x="469.0" y="301.7" text-anchor="end">−0.025</text>
<text x="469.0" y="361.2" text-anchor="end">−0.050</text>
<text x="549.3" y="477.3" text-anchor="middle">0</text>
<text x="697.2" y="477.3" text-anchor="middle">0.2</text>
<text x="845.1" y="477.3" text-anchor="middle">0.4</text>
<text x="993.0" y="477.3" text-anchor="middle">0.6</text>
<text x="1140.9" y="477.3" text-anchor="middle">0.8</text>
<text x="1288.8" y="477.3" text-anchor="middle">1.0</text>
<defs><linearGradient id="cba" x1="0" y1="0" x2="0" y2="1"><stop offset="0.000" stop-color="#a1202d"/><stop offset="0.025" stop-color="#a62430"/><stop offset="0.050" stop-color="#af2d37"/><stop offset="0.075" stop-color="#b8363e"/><stop offset="0.100" stop-color="#c03f44"/><stop offset="0.125" stop-color="#c8484b"/><stop offset="0.150" stop-color="#cd5051"/><stop offset="0.175" stop-color="#d35856"/><stop offset="0.200" stop-color="#d7615c"/><stop offset="0.225" stop-color="#dc6c62"/><stop offset="0.250" stop-color="#e07569"/><stop offset="0.275" stop-color="#e37e71"/><stop offset="0.300" stop-color="#e7887a"/><stop offset="0.325" stop-color="#eb9383"/><stop offset="0.350" stop-color="#ec9e8e"/><stop offset="0.375" stop-color="#eda999"/><stop offset="0.400" stop-color="#ecb4a4"/><stop offset="0.425" stop-color="#ebbfb0"/><stop offset="0.450" stop-color="#e9c8bd"/><stop offset="0.475" stop-color="#e4cfca"/><stop offset="0.500" stop-color="#ddd5d5"/><stop offset="0.525" stop-color="#d4d5dc"/><stop offset="0.550" stop-color="#c9d1e1"/><stop offset="0.575" stop-color="#c0cce4"/><stop offset="0.600" stop-color="#b7c7e6"/><stop offset="0.625" stop-color="#afc1e5"/><stop offset="0.650" stop-color="#a7bbe2"/><stop offset="0.675" stop-color="#a0b5df"/><stop offset="0.700" stop-color="#97afdd"/><stop offset="0.725" stop-color="#8ea6d9"/><stop offset="0.750" stop-color="#849cd3"/><stop offset="0.775" stop-color="#7a93ce"/><stop offset="0.800" stop-color="#718ac8"/><stop offset="0.825" stop-color="#6881c3"/><stop offset="0.850" stop-color="#6179bd"/><stop offset="0.875" stop-color="#5970b8"/><stop offset="0.900" stop-color="#5368b2"/><stop offset="0.925" stop-color="#4e60ad"/><stop offset="0.950" stop-color="#4959a8"/><stop offset="0.975" stop-color="#4452a4"/><stop offset="1.000" stop-color="#404ca0"/></linearGradient></defs>
<rect x="1382.3" y="52.3" width="18.5" height="348.9" fill="url(#cba)" stroke="#1a1718" stroke-width="2.6"/>
<text x="1436.8" y="84.0">0.12</text>
<text x="1436.8" y="142.5">0.10</text>
<text x="1436.8" y="201.0">0.08</text>
<text x="1436.8" y="259.4">0.06</text>
<text x="1436.8" y="317.9">0.04</text>
<text x="1436.8" y="376.4">0.02</text>
<path d="M1401.8,65.2h10.5M1401.8,123.0h10.5M1401.8,183.5h10.5M1401.8,241.5h10.5M1401.8,299.9h10.5M1401.8,357.6h10.5" fill="none" stroke="#1a1718" stroke-width="2.2"/>
<text x="928.1" y="108.2" text-anchor="middle" fill="#3f55a5"><tspan font-style="italic">u</tspan> CFD</text>
<text x="920.0" y="556.7" text-anchor="middle">CFD benchmark and data locations</text>
<text x="468.5" y="50.6" text-anchor="end" font-weight="bold">a</text>
</g>
<g id="panel-b">
<g filter="url(#soft)">
<defs><linearGradient id="gb1" gradientUnits="userSpaceOnUse" x1="1851.6" y1="0" x2="2590.6" y2="0"><stop offset="0.000" stop-color="#4959a8"/><stop offset="0.342" stop-color="#4a5ba9"/><stop offset="0.500" stop-color="#566cb5"/><stop offset="0.583" stop-color="#5266b1"/><stop offset="0.700" stop-color="#4a5aa9"/><stop offset="1.000" stop-color="#4959a8"/></linearGradient><linearGradient id="gb2" gradientUnits="userSpaceOnUse" x1="1851.6" y1="0" x2="2590.6" y2="0"><stop offset="0.000" stop-color="#5c73ba"/><stop offset="0.304" stop-color="#5e75bb"/><stop offset="0.375" stop-color="#677fc1"/><stop offset="0.483" stop-color="#849cd4"/><stop offset="0.525" stop-color="#849dd4"/><stop offset="0.604" stop-color="#728bc9"/><stop offset="0.671" stop-color="#637bbf"/><stop offset="0.758" stop-color="#5d74ba"/><stop offset="1.000" stop-color="#5c73ba"/></linearGradient><linearGradient id="gb3" gradientUnits="userSpaceOnUse" x1="1851.6" y1="0" x2="2590.6" y2="0"><stop offset="0.000" stop-color="#748dca"/><stop offset="0.292" stop-color="#7790cc"/><stop offset="0.350" stop-color="#7f98d1"/><stop offset="0.412" stop-color="#98b0dd"/><stop offset="0.479" stop-color="#afc1e5"/><stop offset="0.517" stop-color="#b1c3e5"/><stop offset="0.575" stop-color="#a4b9e1"/><stop offset="0.642" stop-color="#8ba4d7"/><stop offset="0.696" stop-color="#7c95cf"/><stop offset="0.783" stop-color="#758ecb"/><stop offset="1.000" stop-color="#748dca"/></linearGradient><linearGradient id="gb4" gradientUnits="userSpaceOnUse" x1="1851.6" y1="0" x2="2590.6" y2="0"><stop offset="0.000" stop-color="#8fa7d9"/><stop offset="0.279" stop-color="#91a9db"/><stop offset="0.342" stop-color="#9bb1dd"/><stop offset="0.396" stop-color="#adc0e4"/><stop offset="0.425" stop-color="#bdcae5"/><stop offset="0.475" stop-color="#d8d7db"/><stop offset="0.508" stop-color="#dcd6d6"/><stop offset="0.542" stop-color="#d7d7db"/><stop offset="0.608" stop-color="#b6c6e6"/><stop offset="0.650" stop-color="#a5bae1"/><stop offset="0.721" stop-color="#95addc"/><stop offset="0.817" stop-color="#8fa8da"/><stop offset="1.000" stop-color="#8fa7d9"/></linearGradient><linearGradient id="gb5" gradientUnits="userSpaceOnUse" x1="1851.6" y1="0" x2="2590.6" y2="0"><stop offset="0.000" stop-color="#a4b9e1"/><stop offset="0.283" stop-color="#a6bae2"/><stop offset="0.338" stop-color="#aec1e5"/><stop offset="0.375" stop-color="#bdcae5"/><stop offset="0.408" stop-color="#d3d5dd"/><stop offset="0.417" stop-color="#d9d8da"/><stop offset="0.450" stop-color="#e9c8bd"/><stop offset="0.475" stop-color="#ecbbab"/><stop offset="0.500" stop-color="#ecb4a4"/><stop offset="0.529" stop-color="#ecb7a7"/><stop offset="0.554" stop-color="#ebc2b4"/><stop offset="0.579" stop-color="#e5cec7"/><stop offset="0.604" stop-color="#d9d8da"/><stop offset="0.642" stop-color="#c1cce3"/><stop offset="0.675" stop-color="#b3c4e5"/><stop offset="0.725" stop-color="#a8bce3"/><stop offset="0.846" stop-color="#a4b9e1"/><stop offset="1.000" stop-color="#a4b9e1"/></linearGradient><linearGradient id="gb6" gradientUnits="userSpaceOnUse" x1="1851.6" y1="0" x2="2590.6" y2="0"><stop offset="0.000" stop-color="#b5c5e5"/><stop offset="0.275" stop-color="#b7c7e6"/><stop offset="0.329" stop-color="#c0cce4"/><stop offset="0.362" stop-color="#ced3df"/><stop offset="0.379" stop-color="#d9d8da"/><stop offset="0.412" stop-color="#e9c6bb"/><stop offset="0.446" stop-color="#eda999"/><stop offset="0.475" stop-color="#eb9383"/><stop offset="0.500" stop-color="#e88b7c"/><stop offset="0.529" stop-color="#ea8f80"/><stop offset="0.558" stop-color="#ec9f8f"/><stop offset="0.600" stop-color="#ebc0b2"/><stop offset="0.621" stop-color="#e5cec7"/><stop offset="0.646" stop-color="#d9d8da"/><stop offset="0.683" stop-color="#c6cfe2"/><stop offset="0.738" stop-color="#b9c8e6"/><stop offset="0.850" stop-color="#b5c5e5"/><stop offset="1.000" stop-color="#b5c5e5"/></linearGradient><linearGradient id="gb7" gradientUnits="userSpaceOnUse" x1="1851.6" y1="0" x2="2590.6" y2="0"><stop offset="0.000" stop-color="#c5cfe2"/><stop offset="0.271" stop-color="#c7d0e1"/><stop offset="0.321" stop-color="#d1d4de"/><stop offset="0.346" stop-color="#dbd7d9"/><stop offset="0.379" stop-color="#e8cac0"/><stop offset="0.400" stop-color="#ecbaaa"/><stop offset="0.438" stop-color="#ea9282"/><stop offset="0.462" stop-color="#e27c6f"/><stop offset="0.492" stop-color="#dd6f63"/><stop offset="0.517" stop-color="#dd6e63"/><stop offset="0.546" stop-color="#e1786b"/><stop offset="0.571" stop-color="#e7897a"/><stop offset="0.600" stop-color="#eda494"/><stop offset="0.633" stop-color="#ebc2b4"/><stop offset="0.662" stop-color="#e2d1cd"/><stop offset="0.688" stop-color="#d9d8da"/><stop offset="0.733" stop-color="#ccd2e0"/><stop offset="0.808" stop-color="#c6cfe2"/><stop offset="1.000" stop-color="#c5cfe2"/></linearGradient><linearGradient id="gb8" gradientUnits="userSpaceOnUse" x1="1851.6" y1="0" x2="2590.6" y2="0"><stop offset="0.000" stop-color="#d5d6dc"/><stop offset="0.263" stop-color="#d7d7db"/><stop offset="0.300" stop-color="#dcd7d7"/><stop offset="0.338" stop-color="#e4cfc9"/><stop offset="0.362" stop-color="#eac4b7"/><stop offset="0.383" stop-color="#ecb4a4"/><stop offset="0.417" stop-color="#ea8f80"/><stop offset="0.442" stop-color="#e07669"/><stop offset="0.467" stop-color="#d7605c"/><stop offset="0.487" stop-color="#d15655"/><stop offset="0.512" stop-color="#d05454"/><stop offset="0.542" stop-color="#d55d59"/><stop offset="0.571" stop-color="#df7266"/><stop offset="0.596" stop-color="#e78779"/><stop offset="0.617" stop-color="#ec9c8c"/><stop offset="0.654" stop-color="#ecbeaf"/><stop offset="0.683" stop-color="#e7ccc4"/><stop offset="0.725" stop-color="#ddd5d5"/><stop offset="0.767" stop-color="#d8d7db"/><stop offset="0.958" stop-color="#d5d6dc"/><stop offset="1.000" stop-color="#d5d6dc"/></linearGradient><linearGradient id="gb9" gradientUnits="userSpaceOnUse" x1="1851.6" y1="0" x2="2590.6" y2="0"><stop offset="0.000" stop-color="#e0d3d0"/><stop offset="0.258" stop-color="#e1d1ce"/><stop offset="0.308" stop-color="#e6cdc5"/><stop offset="0.338" stop-color="#eac4b7"/><stop offset="0.358" stop-color="#ecb8a8"/><stop offset="0.396" stop-color="#eb9484"/><stop offset="0.425" stop-color="#e07468"/><stop offset="0.454" stop-color="#d25756"/><stop offset="0.483" stop-color="#c64649"/><stop offset="0.508" stop-color="#c24246"/><stop offset="0.537" stop-color="#c9494c"/><stop offset="0.567" stop-color="#d45a58"/><stop offset="0.596" stop-color="#e07569"/><stop offset="0.633" stop-color="#ec9a8a"/><stop offset="0.675" stop-color="#ecbcac"/><stop offset="0.713" stop-color="#e8cac1"/><stop offset="0.762" stop-color="#e2d0cc"/><stop offset="0.887" stop-color="#e0d3d0"/><stop offset="1.000" stop-color="#e0d3d0"/></linearGradient><linearGradient id="gb10" gradientUnits="userSpaceOnUse" x1="1851.6" y1="0" x2="2590.6" y2="0"><stop offset="0.000" stop-color="#e7ccc4"/><stop offset="0.258" stop-color="#e8cbc1"/><stop offset="0.304" stop-color="#eac5b9"/><stop offset="0.338" stop-color="#ecb9a9"/><stop offset="0.371" stop-color="#eca090"/><stop offset="0.392" stop-color="#e88a7c"/><stop offset="0.421" stop-color="#dc6b61"/><stop offset="0.442" stop-color="#d05454"/><stop offset="0.479" stop-color="#ba3940"/><stop offset="0.504" stop-color="#b4323b"/><stop offset="0.529" stop-color="#b9373e"/><stop offset="0.562" stop-color="#ca4a4d"/><stop offset="0.588" stop-color="#d65e5a"/><stop offset="0.613" stop-color="#e1786b"/><stop offset="0.646" stop-color="#eb9888"/><stop offset="0.683" stop-color="#ecb4a4"/><stop offset="0.713" stop-color="#ebc1b3"/><stop offset="0.758" stop-color="#e9c9bf"/><stop offset="0.850" stop-color="#e7ccc4"/><stop offset="1.000" stop-color="#e7ccc4"/></linearGradient><linearGradient id="gb11" gradientUnits="userSpaceOnUse" x1="1851.6" y1="0" x2="2590.6" y2="0"><stop offset="0.000" stop-color="#eac6ba"/><stop offset="0.254" stop-color="#eac4b8"/><stop offset="0.304" stop-color="#ecbeae"/><stop offset="0.338" stop-color="#edb0a0"/><stop offset="0.371" stop-color="#eb9686"/><stop offset="0.412" stop-color="#db6a61"/><stop offset="0.433" stop-color="#cf5353"/><stop offset="0.471" stop-color="#b4323b"/><stop offset="0.496" stop-color="#a92732"/><stop offset="0.521" stop-color="#aa2833"/><stop offset="0.550" stop-color="#b8373e"/><stop offset="0.596" stop-color="#d55c59"/><stop offset="0.625" stop-color="#e27a6d"/><stop offset="0.658" stop-color="#ec9888"/><stop offset="0.696" stop-color="#edb1a1"/><stop offset="0.733" stop-color="#ecbeaf"/><stop offset="0.792" stop-color="#eac4b8"/><stop offset="1.000" stop-color="#eac6ba"/></linearGradient><linearGradient id="gb12" gradientUnits="userSpaceOnUse" x1="1851.6" y1="0" x2="2590.6" y2="0"><stop offset="0.000" stop-color="#ebc1b3"/><stop offset="0.254" stop-color="#ebbfb1"/><stop offset="0.300" stop-color="#ecb9a9"/><stop offset="0.338" stop-color="#eda999"/><stop offset="0.367" stop-color="#eb9383"/><stop offset="0.408" stop-color="#da6860"/><stop offset="0.433" stop-color="#cb4c4e"/><stop offset="0.471" stop-color="#ac2a35"/><stop offset="0.487" stop-color="#a3212e"/><stop offset="0.525" stop-color="#a3212e"/><stop offset="0.554" stop-color="#b4323b"/><stop offset="0.592" stop-color="#cf5252"/><stop offset="0.629" stop-color="#e1776b"/><stop offset="0.667" stop-color="#ec9888"/><stop offset="0.704" stop-color="#edaf9f"/><stop offset="0.750" stop-color="#ecbcac"/><stop offset="0.825" stop-color="#ebc1b2"/><stop offset="1.000" stop-color="#ebc1b3"/></linearGradient><linearGradient id="gb13" gradientUnits="userSpaceOnUse" x1="1851.6" y1="0" x2="2590.6" y2="0"><stop offset="0.000" stop-color="#ecbeaf"/><stop offset="0.254" stop-color="#ecbdad"/><stop offset="0.304" stop-color="#ecb4a4"/><stop offset="0.342" stop-color="#eda393"/><stop offset="0.367" stop-color="#ea8f80"/><stop offset="0.404" stop-color="#db6960"/><stop offset="0.429" stop-color="#cb4d4f"/><stop offset="0.471" stop-color="#a82632"/><stop offset="0.483" stop-color="#a2212e"/><stop offset="0.533" stop-color="#a3212e"/><stop offset="0.558" stop-color="#b3313a"/><stop offset="0.592" stop-color="#cc4f50"/><stop offset="0.633" stop-color="#e1786b"/><stop offset="0.671" stop-color="#eb9888"/><stop offset="0.708" stop-color="#edad9d"/><stop offset="0.754" stop-color="#ecb9a9"/><stop offset="0.838" stop-color="#ecbeaf"/><stop offset="1.000" stop-color="#ecbeaf"/></linearGradient><linearGradient id="gb14" gradientUnits="userSpaceOnUse" x1="1851.6" y1="0" x2="2590.6" y2="0"><stop offset="0.000" stop-color="#ecbeae"/><stop offset="0.254" stop-color="#ecbcac"/><stop offset="0.304" stop-color="#ecb3a3"/><stop offset="0.342" stop-color="#eca292"/><stop offset="0.371" stop-color="#e88a7b"/><stop offset="0.404" stop-color="#da685f"/><stop offset="0.429" stop-color="#cb4c4e"/><stop offset="0.471" stop-color="#a72531"/><stop offset="0.483" stop-color="#a2202d"/><stop offset="0.533" stop-color="#a2212e"/><stop offset="0.546" stop-color="#a82632"/><stop offset="0.592" stop-color="#cc4e4f"/><stop offset="0.633" stop-color="#e1776a"/><stop offset="0.671" stop-color="#eb9787"/><stop offset="0.708" stop-color="#edac9c"/><stop offset="0.754" stop-color="#ecb8a8"/><stop offset="0.842" stop-color="#ecbdae"/><stop offset="1.000" stop-color="#ecbeae"/></linearGradient><linearGradient id="gb15" gradientUnits="userSpaceOnUse" x1="1851.6" y1="0" x2="2590.6" y2="0"><stop offset="0.000" stop-color="#ecbeaf"/><stop offset="0.254" stop-color="#ecbdad"/><stop offset="0.304" stop-color="#ecb4a4"/><stop offset="0.342" stop-color="#eda393"/><stop offset="0.367" stop-color="#ea8f80"/><stop offset="0.404" stop-color="#db6960"/><stop offset="0.429" stop-color="#cb4d4f"/><stop offset="0.471" stop-color="#a82632"/><stop offset="0.483" stop-color="#a2212e"/><stop offset="0.533" stop-color="#a3212e"/><stop offset="0.558" stop-color="#b3313a"/><stop offset="0.592" stop-color="#cc4f50"/><stop offset="0.633" stop-color="#e1786b"/><stop offset="0.671" stop-color="#eb9888"/><stop offset="0.708" stop-color="#edad9d"/><stop offset="0.754" stop-color="#ecb9a9"/><stop offset="0.838" stop-color="#ecbeaf"/><stop offset="1.000" stop-color="#ecbeaf"/></linearGradient><linearGradient id="gb16" gradientUnits="userSpaceOnUse" x1="1851.6" y1="0" x2="2590.6" y2="0"><stop offset="0.000" stop-color="#ebc1b3"/><stop offset="0.254" stop-color="#ebbfb1"/><stop offset="0.300" stop-color="#ecb9a9"/><stop offset="0.338" stop-color="#eda999"/><stop offset="0.367" stop-color="#eb9383"/><stop offset="0.408" stop-color="#da6860"/><stop offset="0.433" stop-color="#cb4c4e"/><stop offset="0.471" stop-color="#ac2a35"/><stop offset="0.487" stop-color="#a3212e"/><stop offset="0.525" stop-color="#a3212e"/><stop offset="0.554" stop-color="#b4323b"/><stop offset="0.592" stop-color="#cf5252"/><stop offset="0.629" stop-color="#e1776b"/><stop offset="0.667" stop-color="#ec9888"/><stop offset="0.704" stop-color="#edaf9f"/><stop offset="0.750" stop-color="#ecbcac"/><stop offset="0.825" stop-color="#ebc1b2"/><stop offset="1.000" stop-color="#ebc1b3"/></linearGradient><linearGradient id="gb17" gradientUnits="userSpaceOnUse" x1="1851.6" y1="0" x2="2590.6" y2="0"><stop offset="0.000" stop-color="#eac6ba"/><stop offset="0.254" stop-color="#eac4b8"/><stop offset="0.304" stop-color="#ecbeae"/><stop offset="0.338" stop-color="#edb0a0"/><stop offset="0.371" stop-color="#eb9686"/><stop offset="0.412" stop-color="#db6a61"/><stop offset="0.433" stop-color="#cf5353"/><stop offset="0.471" stop-color="#b4323b"/><stop offset="0.496" stop-color="#a92732"/><stop offset="0.521" stop-color="#aa2833"/><stop offset="0.550" stop-color="#b8373e"/><stop offset="0.596" stop-color="#d55c59"/><stop offset="0.625" stop-color="#e27a6d"/><stop offset="0.658" stop-color="#ec9888"/><stop offset="0.696" stop-color="#edb1a1"/><stop offset="0.733" stop-color="#ecbeaf"/><stop offset="0.792" stop-color="#eac4b8"/><stop offset="1.000" stop-color="#eac6ba"/></linearGradient><linearGradient id="gb18" gradientUnits="userSpaceOnUse" x1="1851.6" y1="0" x2="2590.6" y2="0"><stop offset="0.000" stop-color="#e7ccc4"/><stop offset="0.258" stop-color="#e8cbc1"/><stop offset="0.304" stop-color="#eac5b9"/><stop offset="0.338" stop-color="#ecb9a9"/><stop offset="0.371" stop-color="#eca090"/><stop offset="0.392" stop-color="#e88a7c"/><stop offset="0.421" stop-color="#dc6b61"/><stop offset="0.442" stop-color="#d05454"/><stop offset="0.479" stop-color="#ba3940"/><stop offset="0.504" stop-color="#b4323b"/><stop offset="0.529" stop-color="#b9373e"/><stop offset="0.562" stop-color="#ca4a4d"/><stop offset="0.588" stop-color="#d65e5a"/><stop offset="0.613" stop-color="#e1786b"/><stop offset="0.646" stop-color="#eb9888"/><stop offset="0.683" stop-color="#ecb4a4"/><stop offset="0.713" stop-color="#ebc1b3"/><stop offset="0.758" stop-color="#e9c9bf"/><stop offset="0.850" stop-color="#e7ccc4"/><stop offset="1.000" stop-color="#e7ccc4"/></linearGradient><linearGradient id="gb19" gradientUnits="userSpaceOnUse" x1="1851.6" y1="0" x2="2590.6" y2="0"><stop offset="0.000" stop-color="#e0d3d0"/><stop offset="0.258" stop-color="#e1d1ce"/><stop offset="0.308" stop-color="#e6cdc5"/><stop offset="0.338" stop-color="#eac4b7"/><stop offset="0.358" stop-color="#ecb8a8"/><stop offset="0.396" stop-color="#eb9484"/><stop offset="0.425" stop-color="#e07468"/><stop offset="0.454" stop-color="#d25756"/><stop offset="0.483" stop-color="#c64649"/><stop offset="0.508" stop-color="#c24246"/><stop offset="0.537" stop-color="#c9494c"/><stop offset="0.567" stop-color="#d45a58"/><stop offset="0.596" stop-color="#e07569"/><stop offset="0.633" stop-color="#ec9a8a"/><stop offset="0.675" stop-color="#ecbcac"/><stop offset="0.713" stop-color="#e8cac1"/><stop offset="0.762" stop-color="#e2d0cc"/><stop offset="0.887" stop-color="#e0d3d0"/><stop offset="1.000" stop-color="#e0d3d0"/></linearGradient><linearGradient id="gb20" gradientUnits="userSpaceOnUse" x1="1851.6" y1="0" x2="2590.6" y2="0"><stop offset="0.000" stop-color="#d5d6dc"/><stop offset="0.263" stop-color="#d7d7db"/><stop offset="0.300" stop-color="#dcd7d7"/><stop offset="0.338" stop-color="#e4cfc9"/><stop offset="0.362" stop-color="#eac4b7"/><stop offset="0.383" stop-color="#ecb4a4"/><stop offset="0.417" stop-color="#ea8f80"/><stop offset="0.442" stop-color="#e07669"/><stop offset="0.467" stop-color="#d7605c"/><stop offset="0.487" stop-color="#d15655"/><stop offset="0.512" stop-color="#d05454"/><stop offset="0.542" stop-color="#d55d59"/><stop offset="0.571" stop-color="#df7266"/><stop offset="0.596" stop-color="#e78779"/><stop offset="0.617" stop-color="#ec9c8c"/><stop offset="0.654" stop-color="#ecbeaf"/><stop offset="0.683" stop-color="#e7ccc4"/><stop offset="0.725" stop-color="#ddd5d5"/><stop offset="0.767" stop-color="#d8d7db"/><stop offset="0.958" stop-color="#d5d6dc"/><stop offset="1.000" stop-color="#d5d6dc"/></linearGradient><linearGradient id="gb21" gradientUnits="userSpaceOnUse" x1="1851.6" y1="0" x2="2590.6" y2="0"><stop offset="0.000" stop-color="#c5cfe2"/><stop offset="0.271" stop-color="#c7d0e1"/><stop offset="0.321" stop-color="#d1d4de"/><stop offset="0.346" stop-color="#dbd7d9"/><stop offset="0.379" stop-color="#e8cac0"/><stop offset="0.400" stop-color="#ecbaaa"/><stop offset="0.438" stop-color="#ea9282"/><stop offset="0.462" stop-color="#e27c6f"/><stop offset="0.492" stop-color="#dd6f63"/><stop offset="0.517" stop-color="#dd6e63"/><stop offset="0.546" stop-color="#e1786b"/><stop offset="0.571" stop-color="#e7897a"/><stop offset="0.600" stop-color="#eda494"/><stop offset="0.633" stop-color="#ebc2b4"/><stop offset="0.662" stop-color="#e2d1cd"/><stop offset="0.688" stop-color="#d9d8da"/><stop offset="0.733" stop-color="#ccd2e0"/><stop offset="0.808" stop-color="#c6cfe2"/><stop offset="1.000" stop-color="#c5cfe2"/></linearGradient><linearGradient id="gb22" gradientUnits="userSpaceOnUse" x1="1851.6" y1="0" x2="2590.6" y2="0"><stop offset="0.000" stop-color="#b5c5e5"/><stop offset="0.275" stop-color="#b7c7e6"/><stop offset="0.329" stop-color="#c0cce4"/><stop offset="0.362" stop-color="#ced3df"/><stop offset="0.379" stop-color="#d9d8da"/><stop offset="0.412" stop-color="#e9c6bb"/><stop offset="0.446" stop-color="#eda999"/><stop offset="0.475" stop-color="#eb9383"/><stop offset="0.500" stop-color="#e88b7c"/><stop offset="0.529" stop-color="#ea8f80"/><stop offset="0.558" stop-color="#ec9f8f"/><stop offset="0.600" stop-color="#ebc0b2"/><stop offset="0.621" stop-color="#e5cec7"/><stop offset="0.646" stop-color="#d9d8da"/><stop offset="0.683" stop-color="#c6cfe2"/><stop offset="0.738" stop-color="#b9c8e6"/><stop offset="0.850" stop-color="#b5c5e5"/><stop offset="1.000" stop-color="#b5c5e5"/></linearGradient><linearGradient id="gb23" gradientUnits="userSpaceOnUse" x1="1851.6" y1="0" x2="2590.6" y2="0"><stop offset="0.000" stop-color="#a4b9e1"/><stop offset="0.283" stop-color="#a6bae2"/><stop offset="0.338" stop-color="#aec1e5"/><stop offset="0.375" stop-color="#bdcae5"/><stop offset="0.408" stop-color="#d3d5dd"/><stop offset="0.417" stop-color="#d9d8da"/><stop offset="0.450" stop-color="#e9c8bd"/><stop offset="0.475" stop-color="#ecbbab"/><stop offset="0.500" stop-color="#ecb4a4"/><stop offset="0.529" stop-color="#ecb7a7"/><stop offset="0.554" stop-color="#ebc2b4"/><stop offset="0.579" stop-color="#e5cec7"/><stop offset="0.604" stop-color="#d9d8da"/><stop offset="0.642" stop-color="#c1cce3"/><stop offset="0.675" stop-color="#b3c4e5"/><stop offset="0.725" stop-color="#a8bce3"/><stop offset="0.846" stop-color="#a4b9e1"/><stop offset="1.000" stop-color="#a4b9e1"/></linearGradient><linearGradient id="gb24" gradientUnits="userSpaceOnUse" x1="1851.6" y1="0" x2="2590.6" y2="0"><stop offset="0.000" stop-color="#8fa7d9"/><stop offset="0.279" stop-color="#91a9db"/><stop offset="0.342" stop-color="#9bb1dd"/><stop offset="0.396" stop-color="#adc0e4"/><stop offset="0.425" stop-color="#bdcae5"/><stop offset="0.475" stop-color="#d8d7db"/><stop offset="0.508" stop-color="#dcd6d6"/><stop offset="0.542" stop-color="#d7d7db"/><stop offset="0.608" stop-color="#b6c6e6"/><stop offset="0.650" stop-color="#a5bae1"/><stop offset="0.721" stop-color="#95addc"/><stop offset="0.817" stop-color="#8fa8da"/><stop offset="1.000" stop-color="#8fa7d9"/></linearGradient><linearGradient id="gb25" gradientUnits="userSpaceOnUse" x1="1851.6" y1="0" x2="2590.6" y2="0"><stop offset="0.000" stop-color="#748dca"/><stop offset="0.292" stop-color="#7790cc"/><stop offset="0.350" stop-color="#7f98d1"/><stop offset="0.412" stop-color="#98b0dd"/><stop offset="0.479" stop-color="#afc1e5"/><stop offset="0.517" stop-color="#b1c3e5"/><stop offset="0.575" stop-color="#a4b9e1"/><stop offset="0.642" stop-color="#8ba4d7"/><stop offset="0.696" stop-color="#7c95cf"/><stop offset="0.783" stop-color="#758ecb"/><stop offset="1.000" stop-color="#748dca"/></linearGradient><linearGradient id="gb26" gradientUnits="userSpaceOnUse" x1="1851.6" y1="0" x2="2590.6" y2="0"><stop offset="0.000" stop-color="#5c73ba"/><stop offset="0.304" stop-color="#5e75bb"/><stop offset="0.375" stop-color="#677fc1"/><stop offset="0.483" stop-color="#849cd4"/><stop offset="0.525" stop-color="#849dd4"/><stop offset="0.604" stop-color="#728bc9"/><stop offset="0.671" stop-color="#637bbf"/><stop offset="0.758" stop-color="#5d74ba"/><stop offset="1.000" stop-color="#5c73ba"/></linearGradient><linearGradient id="gb27" gradientUnits="userSpaceOnUse" x1="1851.6" y1="0" x2="2590.6" y2="0"><stop offset="0.000" stop-color="#4959a8"/><stop offset="0.342" stop-color="#4a5ba9"/><stop offset="0.500" stop-color="#566cb5"/><stop offset="0.583" stop-color="#5266b1"/><stop offset="0.700" stop-color="#4a5aa9"/><stop offset="1.000" stop-color="#4959a8"/></linearGradient><clipPath id="clb"><rect x="1841.8" y="100.3" width="758.5" height="251.5" rx="8.3"/></clipPath></defs>
<g fill="none" stroke-width="19.50" stroke-linejoin="round" clip-path="url(#clb)"><path d="M1839.8,342 1851.6,342 1867,342 1882.4,342 1897.8,342 1913.2,342 1928.6,342 1944,342 1959.4,342 1974.8,341.9 1990.2,341.7 2005.6,341.4 2021,340.9 2036.3,340.1 2051.7,338.8 2067.1,336.9 2082.5,334.2 2097.9,330.7 2113.3,326.3 2128.7,321.2 2144.1,315.6 2159.5,309.9 2174.9,304.6 2190.3,300.4 2205.7,297.6 2221.1,296.6 2236.5,297.6 2251.9,300.4 2267.3,304.6 2282.7,309.9 2298.1,315.6 2313.5,321.2 2328.9,326.3 2344.3,330.7 2359.7,334.2 2375.1,336.9 2390.5,338.8 2405.8,340.1 2421.2,340.9 2436.6,341.4 2452,341.7 2467.4,341.9 2482.8,342 2498.2,342 2513.6,342 2529,342 2544.4,342 2559.8,342 2575.2,342 2590.6,342 2602.3,342" stroke="#404ca0"/>
<path d="M1839.8,333.8 1851.6,333.8 1867,333.8 1882.4,333.8 1897.8,333.8 1913.2,333.8 1928.6,333.7 1944,333.7 1959.4,333.7 1974.8,333.6 1990.2,333.4 2005.6,333.2 2021,332.7 2036.3,331.9 2051.7,330.7 2067.1,328.9 2082.5,326.5 2097.9,323.2 2113.3,319.2 2128.7,314.4 2144.1,309.2 2159.5,303.9 2174.9,299 2190.3,295.1 2205.7,292.4 2221.1,291.5 2236.5,292.4 2251.9,295.1 2267.3,299 2282.7,303.9 2298.1,309.2 2313.5,314.4 2328.9,319.2 2344.3,323.2 2359.7,326.5 2375.1,328.9 2390.5,330.7 2405.8,331.9 2421.2,332.7 2436.6,333.2 2452,333.4 2467.4,333.6 2482.8,333.7 2498.2,333.7 2513.6,333.7 2529,333.8 2544.4,333.8 2559.8,333.8 2575.2,333.8 2590.6,333.8 2602.3,333.8" stroke="url(#gb1)"/>
<path d="M1839.8,325.5 1851.6,325.5 1867,325.5 1882.4,325.5 1897.8,325.5 1913.2,325.5 1928.6,325.5 1944,325.4 1959.4,325.4 1974.8,325.3 1990.2,325.2 2005.6,324.9 2021,324.5 2036.3,323.8 2051.7,322.7 2067.1,321 2082.5,318.8 2097.9,315.8 2113.3,312 2128.7,307.6 2144.1,302.8 2159.5,297.9 2174.9,293.4 2190.3,289.7 2205.7,287.3 2221.1,286.5 2236.5,287.3 2251.9,289.7 2267.3,293.4 2282.7,297.9 2298.1,302.8 2313.5,307.6 2328.9,312 2344.3,315.8 2359.7,318.8 2375.1,321 2390.5,322.7 2405.8,323.8 2421.2,324.5 2436.6,324.9 2452,325.2 2467.4,325.3 2482.8,325.4 2498.2,325.4 2513.6,325.5 2529,325.5 2544.4,325.5 2559.8,325.5 2575.2,325.5 2590.6,325.5 2602.3,325.5" stroke="url(#gb2)"/>
<path d="M1839.8,317.2 1851.6,317.2 1867,317.2 1882.4,317.2 1897.8,317.2 1913.2,317.2 1928.6,317.2 1944,317.2 1959.4,317.1 1974.8,317.1 1990.2,316.9 2005.6,316.7 2021,316.3 2036.3,315.6 2051.7,314.6 2067.1,313.1 2082.5,311 2097.9,308.3 2113.3,304.9 2128.7,300.8 2144.1,296.4 2159.5,291.9 2174.9,287.8 2190.3,284.4 2205.7,282.2 2221.1,281.5 2236.5,282.2 2251.9,284.4 2267.3,287.8 2282.7,291.9 2298.1,296.4 2313.5,300.8 2328.9,304.9 2344.3,308.3 2359.7,311 2375.1,313.1 2390.5,314.6 2405.8,315.6 2421.2,316.3 2436.6,316.7 2452,316.9 2467.4,317.1 2482.8,317.1 2498.2,317.2 2513.6,317.2 2529,317.2 2544.4,317.2 2559.8,317.2 2575.2,317.2 2590.6,317.2 2602.3,317.2" stroke="url(#gb3)"/>
<path d="M1839.8,308.9 1851.6,308.9 1867,308.9 1882.4,308.9 1897.8,308.9 1913.2,308.9 1928.6,308.9 1944,308.9 1959.4,308.8 1974.8,308.8 1990.2,308.7 2005.6,308.4 2021,308.1 2036.3,307.5 2051.7,306.6 2067.1,305.2 2082.5,303.3 2097.9,300.8 2113.3,297.7 2128.7,294 2144.1,290 2159.5,286 2174.9,282.2 2190.3,279.1 2205.7,277.1 2221.1,276.4 2236.5,277.1 2251.9,279.1 2267.3,282.2 2282.7,286 2298.1,290 2313.5,294 2328.9,297.7 2344.3,300.8 2359.7,303.3 2375.1,305.2 2390.5,306.6 2405.8,307.5 2421.2,308.1 2436.6,308.4 2452,308.7 2467.4,308.8 2482.8,308.8 2498.2,308.9 2513.6,308.9 2529,308.9 2544.4,308.9 2559.8,308.9 2575.2,308.9 2590.6,308.9 2602.3,308.9" stroke="url(#gb4)"/>
<path d="M1839.8,300.6 1851.6,300.6 1867,300.6 1882.4,300.6 1897.8,300.6 1913.2,300.6 1928.6,300.6 1944,300.6 1959.4,300.6 1974.8,300.5 1990.2,300.4 2005.6,300.2 2021,299.9 2036.3,299.3 2051.7,298.5 2067.1,297.3 2082.5,295.6 2097.9,293.3 2113.3,290.5 2128.7,287.2 2144.1,283.6 2159.5,280 2174.9,276.6 2190.3,273.8 2205.7,272 2221.1,271.4 2236.5,272 2251.9,273.8 2267.3,276.6 2282.7,280 2298.1,283.6 2313.5,287.2 2328.9,290.5 2344.3,293.3 2359.7,295.6 2375.1,297.3 2390.5,298.5 2405.8,299.3 2421.2,299.9 2436.6,300.2 2452,300.4 2467.4,300.5 2482.8,300.6 2498.2,300.6 2513.6,300.6 2529,300.6 2544.4,300.6 2559.8,300.6 2575.2,300.6 2590.6,300.6 2602.3,300.6" stroke="url(#gb5)"/>
<path d="M1839.8,292.3 1851.6,292.3 1867,292.3 1882.4,292.3 1897.8,292.3 1913.2,292.3 1928.6,292.3 1944,292.3 1959.4,292.3 1974.8,292.2 1990.2,292.1 2005.6,292 2021,291.7 2036.3,291.2 2051.7,290.5 2067.1,289.4 2082.5,287.9 2097.9,285.9 2113.3,283.4 2128.7,280.4 2144.1,277.2 2159.5,274 2174.9,271 2190.3,268.5 2205.7,266.9 2221.1,266.4 2236.5,266.9 2251.9,268.5 2267.3,271 2282.7,274 2298.1,277.2 2313.5,280.4 2328.9,283.4 2344.3,285.9 2359.7,287.9 2375.1,289.4 2390.5,290.5 2405.8,291.2 2421.2,291.7 2436.6,292 2452,292.1 2467.4,292.2 2482.8,292.3 2498.2,292.3 2513.6,292.3 2529,292.3 2544.4,292.3 2559.8,292.3 2575.2,292.3 2590.6,292.3 2602.3,292.3" stroke="url(#gb6)"/>
<path d="M1839.8,284 1851.6,284 1867,284 1882.4,284 1897.8,284 1913.2,284 1928.6,284 1944,284 1959.4,284 1974.8,284 1990.2,283.9 2005.6,283.7 2021,283.5 2036.3,283.1 2051.7,282.4 2067.1,281.5 2082.5,280.1 2097.9,278.4 2113.3,276.2 2128.7,273.6 2144.1,270.8 2159.5,268 2174.9,265.3 2190.3,263.2 2205.7,261.8 2221.1,261.3 2236.5,261.8 2251.9,263.2 2267.3,265.3 2282.7,268 2298.1,270.8 2313.5,273.6 2328.9,276.2 2344.3,278.4 2359.7,280.1 2375.1,281.5 2390.5,282.4 2405.8,283.1 2421.2,283.5 2436.6,283.7 2452,283.9 2467.4,284 2482.8,284 2498.2,284 2513.6,284 2529,284 2544.4,284 2559.8,284 2575.2,284 2590.6,284 2602.3,284" stroke="url(#gb7)"/>
<path d="M1839.8,275.8 1851.6,275.8 1867,275.8 1882.4,275.8 1897.8,275.8 1913.2,275.8 1928.6,275.8 1944,275.7 1959.4,275.7 1974.8,275.7 1990.2,275.6 2005.6,275.5 2021,275.3 2036.3,274.9 2051.7,274.4 2067.1,273.5 2082.5,272.4 2097.9,270.9 2113.3,269 2128.7,266.8 2144.1,264.4 2159.5,262 2174.9,259.7 2190.3,257.9 2205.7,256.7 2221.1,256.3 2236.5,256.7 2251.9,257.9 2267.3,259.7 2282.7,262 2298.1,264.4 2313.5,266.8 2328.9,269 2344.3,270.9 2359.7,272.4 2375.1,273.5 2390.5,274.4 2405.8,274.9 2421.2,275.3 2436.6,275.5 2452,275.6 2467.4,275.7 2482.8,275.7 2498.2,275.7 2513.6,275.8 2529,275.8 2544.4,275.8 2559.8,275.8 2575.2,275.8 2590.6,275.8 2602.3,275.8" stroke="url(#gb8)"/>
<path d="M1839.8,267.5 1851.6,267.5 1867,267.5 1882.4,267.5 1897.8,267.5 1913.2,267.5 1928.6,267.5 1944,267.5 1959.4,267.4 1974.8,267.4 1990.2,267.4 2005.6,267.2 2021,267.1 2036.3,266.8 2051.7,266.3 2067.1,265.6 2082.5,264.7 2097.9,263.4 2113.3,261.9 2128.7,260 2144.1,258 2159.5,256 2174.9,254.1 2190.3,252.6 2205.7,251.6 2221.1,251.2 2236.5,251.6 2251.9,252.6 2267.3,254.1 2282.7,256 2298.1,258 2313.5,260 2328.9,261.9 2344.3,263.4 2359.7,264.7 2375.1,265.6 2390.5,266.3 2405.8,266.8 2421.2,267.1 2436.6,267.2 2452,267.4 2467.4,267.4 2482.8,267.4 2498.2,267.5 2513.6,267.5 2529,267.5 2544.4,267.5 2559.8,267.5 2575.2,267.5 2590.6,267.5 2602.3,267.5" stroke="url(#gb9)"/>
<path d="M1839.8,259.2 1851.6,259.2 1867,259.2 1882.4,259.2 1897.8,259.2 1913.2,259.2 1928.6,259.2 1944,259.2 1959.4,259.2 1974.8,259.1 1990.2,259.1 2005.6,259 2021,258.9 2036.3,258.6 2051.7,258.3 2067.1,257.7 2082.5,257 2097.9,256 2113.3,254.7 2128.7,253.2 2144.1,251.6 2159.5,250 2174.9,248.5 2190.3,247.3 2205.7,246.5 2221.1,246.2 2236.5,246.5 2251.9,247.3 2267.3,248.5 2282.7,250 2298.1,251.6 2313.5,253.2 2328.9,254.7 2344.3,256 2359.7,257 2375.1,257.7 2390.5,258.3 2405.8,258.6 2421.2,258.9 2436.6,259 2452,259.1 2467.4,259.1 2482.8,259.2 2498.2,259.2 2513.6,259.2 2529,259.2 2544.4,259.2 2559.8,259.2 2575.2,259.2 2590.6,259.2 2602.3,259.2" stroke="url(#gb10)"/>
<path d="M1839.8,250.9 1851.6,250.9 1867,250.9 1882.4,250.9 1897.8,250.9 1913.2,250.9 1928.6,250.9 1944,250.9 1959.4,250.9 1974.8,250.9 1990.2,250.8 2005.6,250.8 2021,250.7 2036.3,250.5 2051.7,250.2 2067.1,249.8 2082.5,249.2 2097.9,248.5 2113.3,247.5 2128.7,246.4 2144.1,245.2 2159.5,244 2174.9,242.9 2190.3,242 2205.7,241.4 2221.1,241.2 2236.5,241.4 2251.9,242 2267.3,242.9 2282.7,244 2298.1,245.2 2313.5,246.4 2328.9,247.5 2344.3,248.5 2359.7,249.2 2375.1,249.8 2390.5,250.2 2405.8,250.5 2421.2,250.7 2436.6,250.8 2452,250.8 2467.4,250.9 2482.8,250.9 2498.2,250.9 2513.6,250.9 2529,250.9 2544.4,250.9 2559.8,250.9 2575.2,250.9 2590.6,250.9 2602.3,250.9" stroke="url(#gb11)"/>
<path d="M1839.8,242.6 1851.6,242.6 1867,242.6 1882.4,242.6 1897.8,242.6 1913.2,242.6 1928.6,242.6 1944,242.6 1959.4,242.6 1974.8,242.6 1990.2,242.6 2005.6,242.5 2021,242.5 2036.3,242.3 2051.7,242.2 2067.1,241.9 2082.5,241.5 2097.9,241 2113.3,240.4 2128.7,239.6 2144.1,238.8 2159.5,238 2174.9,237.3 2190.3,236.7 2205.7,236.3 2221.1,236.1 2236.5,236.3 2251.9,236.7 2267.3,237.3 2282.7,238 2298.1,238.8 2313.5,239.6 2328.9,240.4 2344.3,241 2359.7,241.5 2375.1,241.9 2390.5,242.2 2405.8,242.3 2421.2,242.5 2436.6,242.5 2452,242.6 2467.4,242.6 2482.8,242.6 2498.2,242.6 2513.6,242.6 2529,242.6 2544.4,242.6 2559.8,242.6 2575.2,242.6 2590.6,242.6 2602.3,242.6" stroke="url(#gb12)"/>
<path d="M1839.8,234.3 1851.6,234.3 1867,234.3 1882.4,234.3 1897.8,234.3 1913.2,234.3 1928.6,234.3 1944,234.3 1959.4,234.3 1974.8,234.3 1990.2,234.3 2005.6,234.3 2021,234.3 2036.3,234.2 2051.7,234.1 2067.1,234 2082.5,233.8 2097.9,233.5 2113.3,233.2 2128.7,232.8 2144.1,232.4 2159.5,232 2174.9,231.7 2190.3,231.4 2205.7,231.2 2221.1,231.1 2236.5,231.2 2251.9,231.4 2267.3,231.7 2282.7,232 2298.1,232.4 2313.5,232.8 2328.9,233.2 2344.3,233.5 2359.7,233.8 2375.1,234 2390.5,234.1 2405.8,234.2 2421.2,234.3 2436.6,234.3 2452,234.3 2467.4,234.3 2482.8,234.3 2498.2,234.3 2513.6,234.3 2529,234.3 2544.4,234.3 2559.8,234.3 2575.2,234.3 2590.6,234.3 2602.3,234.3" stroke="url(#gb13)"/>
<path d="M1839.8,226.1 1851.6,226.1 1867,226.1 1882.4,226.1 1897.8,226.1 1913.2,226.1 1928.6,226.1 1944,226.1 1959.4,226.1 1974.8,226.1 1990.2,226.1 2005.6,226.1 2021,226.1 2036.3,226.1 2051.7,226.1 2067.1,226.1 2082.5,226.1 2097.9,226.1 2113.3,226.1 2128.7,226.1 2144.1,226.1 2159.5,226.1 2174.9,226.1 2190.3,226.1 2205.7,226.1 2221.1,226.1 2236.5,226.1 2251.9,226.1 2267.3,226.1 2282.7,226.1 2298.1,226.1 2313.5,226.1 2328.9,226.1 2344.3,226.1 2359.7,226.1 2375.1,226.1 2390.5,226.1 2405.8,226.1 2421.2,226.1 2436.6,226.1 2452,226.1 2467.4,226.1 2482.8,226.1 2498.2,226.1 2513.6,226.1 2529,226.1 2544.4,226.1 2559.8,226.1 2575.2,226.1 2590.6,226.1 2602.3,226.1" stroke="url(#gb14)"/>
<path d="M1839.8,217.8 1851.6,217.8 1867,217.8 1882.4,217.8 1897.8,217.8 1913.2,217.8 1928.6,217.8 1944,217.8 1959.4,217.8 1974.8,217.8 1990.2,217.8 2005.6,217.8 2021,217.8 2036.3,217.9 2051.7,218 2067.1,218.1 2082.5,218.3 2097.9,218.6 2113.3,218.9 2128.7,219.3 2144.1,219.7 2159.5,220.1 2174.9,220.4 2190.3,220.7 2205.7,220.9 2221.1,221 2236.5,220.9 2251.9,220.7 2267.3,220.4 2282.7,220.1 2298.1,219.7 2313.5,219.3 2328.9,218.9 2344.3,218.6 2359.7,218.3 2375.1,218.1 2390.5,218 2405.8,217.9 2421.2,217.8 2436.6,217.8 2452,217.8 2467.4,217.8 2482.8,217.8 2498.2,217.8 2513.6,217.8 2529,217.8 2544.4,217.8 2559.8,217.8 2575.2,217.8 2590.6,217.8 2602.3,217.8" stroke="url(#gb15)"/>
<path d="M1839.8,209.5 1851.6,209.5 1867,209.5 1882.4,209.5 1897.8,209.5 1913.2,209.5 1928.6,209.5 1944,209.5 1959.4,209.5 1974.8,209.5 1990.2,209.5 2005.6,209.6 2021,209.6 2036.3,209.8 2051.7,209.9 2067.1,210.2 2082.5,210.6 2097.9,211.1 2113.3,211.7 2128.7,212.5 2144.1,213.3 2159.5,214.1 2174.9,214.8 2190.3,215.4 2205.7,215.8 2221.1,216 2236.5,215.8 2251.9,215.4 2267.3,214.8 2282.7,214.1 2298.1,213.3 2313.5,212.5 2328.9,211.7 2344.3,211.1 2359.7,210.6 2375.1,210.2 2390.5,209.9 2405.8,209.8 2421.2,209.6 2436.6,209.6 2452,209.5 2467.4,209.5 2482.8,209.5 2498.2,209.5 2513.6,209.5 2529,209.5 2544.4,209.5 2559.8,209.5 2575.2,209.5 2590.6,209.5 2602.3,209.5" stroke="url(#gb16)"/>
<path d="M1839.8,201.2 1851.6,201.2 1867,201.2 1882.4,201.2 1897.8,201.2 1913.2,201.2 1928.6,201.2 1944,201.2 1959.4,201.2 1974.8,201.2 1990.2,201.3 2005.6,201.3 2021,201.4 2036.3,201.6 2051.7,201.9 2067.1,202.3 2082.5,202.9 2097.9,203.6 2113.3,204.6 2128.7,205.7 2144.1,206.9 2159.5,208.1 2174.9,209.2 2190.3,210.1 2205.7,210.7 2221.1,210.9 2236.5,210.7 2251.9,210.1 2267.3,209.2 2282.7,208.1 2298.1,206.9 2313.5,205.7 2328.9,204.6 2344.3,203.6 2359.7,202.9 2375.1,202.3 2390.5,201.9 2405.8,201.6 2421.2,201.4 2436.6,201.3 2452,201.3 2467.4,201.2 2482.8,201.2 2498.2,201.2 2513.6,201.2 2529,201.2 2544.4,201.2 2559.8,201.2 2575.2,201.2 2590.6,201.2 2602.3,201.2" stroke="url(#gb17)"/>
<path d="M1839.8,192.9 1851.6,192.9 1867,192.9 1882.4,192.9 1897.8,192.9 1913.2,192.9 1928.6,192.9 1944,192.9 1959.4,192.9 1974.8,193 1990.2,193 2005.6,193.1 2021,193.2 2036.3,193.5 2051.7,193.8 2067.1,194.4 2082.5,195.1 2097.9,196.1 2113.3,197.4 2128.7,198.9 2144.1,200.5 2159.5,202.1 2174.9,203.6 2190.3,204.8 2205.7,205.6 2221.1,205.9 2236.5,205.6 2251.9,204.8 2267.3,203.6 2282.7,202.1 2298.1,200.5 2313.5,198.9 2328.9,197.4 2344.3,196.1 2359.7,195.1 2375.1,194.4 2390.5,193.8 2405.8,193.5 2421.2,193.2 2436.6,193.1 2452,193 2467.4,193 2482.8,192.9 2498.2,192.9 2513.6,192.9 2529,192.9 2544.4,192.9 2559.8,192.9 2575.2,192.9 2590.6,192.9 2602.3,192.9" stroke="url(#gb18)"/>
<path d="M1839.8,184.6 1851.6,184.6 1867,184.6 1882.4,184.6 1897.8,184.6 1913.2,184.6 1928.6,184.6 1944,184.6 1959.4,184.7 1974.8,184.7 1990.2,184.7 2005.6,184.9 2021,185 2036.3,185.3 2051.7,185.8 2067.1,186.5 2082.5,187.4 2097.9,188.7 2113.3,190.2 2128.7,192.1 2144.1,194.1 2159.5,196.1 2174.9,198 2190.3,199.5 2205.7,200.5 2221.1,200.9 2236.5,200.5 2251.9,199.5 2267.3,198 2282.7,196.1 2298.1,194.1 2313.5,192.1 2328.9,190.2 2344.3,188.7 2359.7,187.4 2375.1,186.5 2390.5,185.8 2405.8,185.3 2421.2,185 2436.6,184.9 2452,184.7 2467.4,184.7 2482.8,184.7 2498.2,184.6 2513.6,184.6 2529,184.6 2544.4,184.6 2559.8,184.6 2575.2,184.6 2590.6,184.6 2602.3,184.6" stroke="url(#gb19)"/>
<path d="M1839.8,176.3 1851.6,176.3 1867,176.3 1882.4,176.3 1897.8,176.3 1913.2,176.3 1928.6,176.3 1944,176.4 1959.4,176.4 1974.8,176.4 1990.2,176.5 2005.6,176.6 2021,176.8 2036.3,177.2 2051.7,177.7 2067.1,178.6 2082.5,179.7 2097.9,181.2 2113.3,183.1 2128.7,185.3 2144.1,187.7 2159.5,190.1 2174.9,192.4 2190.3,194.2 2205.7,195.4 2221.1,195.8 2236.5,195.4 2251.9,194.2 2267.3,192.4 2282.7,190.1 2298.1,187.7 2313.5,185.3 2328.9,183.1 2344.3,181.2 2359.7,179.7 2375.1,178.6 2390.5,177.7 2405.8,177.2 2421.2,176.8 2436.6,176.6 2452,176.5 2467.4,176.4 2482.8,176.4 2498.2,176.4 2513.6,176.3 2529,176.3 2544.4,176.3 2559.8,176.3 2575.2,176.3 2590.6,176.3 2602.3,176.3" stroke="url(#gb20)"/>
<path d="M1839.8,168.1 1851.6,168.1 1867,168.1 1882.4,168.1 1897.8,168.1 1913.2,168.1 1928.6,168.1 1944,168.1 1959.4,168.1 1974.8,168.1 1990.2,168.2 2005.6,168.4 2021,168.6 2036.3,169 2051.7,169.7 2067.1,170.6 2082.5,172 2097.9,173.7 2113.3,175.9 2128.7,178.5 2144.1,181.3 2159.5,184.1 2174.9,186.8 2190.3,188.9 2205.7,190.3 2221.1,190.8 2236.5,190.3 2251.9,188.9 2267.3,186.8 2282.7,184.1 2298.1,181.3 2313.5,178.5 2328.9,175.9 2344.3,173.7 2359.7,172 2375.1,170.6 2390.5,169.7 2405.8,169 2421.2,168.6 2436.6,168.4 2452,168.2 2467.4,168.1 2482.8,168.1 2498.2,168.1 2513.6,168.1 2529,168.1 2544.4,168.1 2559.8,168.1 2575.2,168.1 2590.6,168.1 2602.3,168.1" stroke="url(#gb21)"/>
<path d="M1839.8,159.8 1851.6,159.8 1867,159.8 1882.4,159.8 1897.8,159.8 1913.2,159.8 1928.6,159.8 1944,159.8 1959.4,159.8 1974.8,159.9 1990.2,160 2005.6,160.1 2021,160.4 2036.3,160.9 2051.7,161.6 2067.1,162.7 2082.5,164.2 2097.9,166.2 2113.3,168.7 2128.7,171.7 2144.1,174.9 2159.5,178.1 2174.9,181.1 2190.3,183.6 2205.7,185.2 2221.1,185.7 2236.5,185.2 2251.9,183.6 2267.3,181.1 2282.7,178.1 2298.1,174.9 2313.5,171.7 2328.9,168.7 2344.3,166.2 2359.7,164.2 2375.1,162.7 2390.5,161.6 2405.8,160.9 2421.2,160.4 2436.6,160.1 2452,160 2467.4,159.9 2482.8,159.8 2498.2,159.8 2513.6,159.8 2529,159.8 2544.4,159.8 2559.8,159.8 2575.2,159.8 2590.6,159.8 2602.3,159.8" stroke="url(#gb22)"/>
<path d="M1839.8,151.5 1851.6,151.5 1867,151.5 1882.4,151.5 1897.8,151.5 1913.2,151.5 1928.6,151.5 1944,151.5 1959.4,151.5 1974.8,151.6 1990.2,151.7 2005.6,151.9 2021,152.2 2036.3,152.8 2051.7,153.6 2067.1,154.8 2082.5,156.5 2097.9,158.8 2113.3,161.6 2128.7,164.9 2144.1,168.5 2159.5,172.1 2174.9,175.5 2190.3,178.3 2205.7,180.1 2221.1,180.7 2236.5,180.1 2251.9,178.3 2267.3,175.5 2282.7,172.1 2298.1,168.5 2313.5,164.9 2328.9,161.6 2344.3,158.8 2359.7,156.5 2375.1,154.8 2390.5,153.6 2405.8,152.8 2421.2,152.2 2436.6,151.9 2452,151.7 2467.4,151.6 2482.8,151.5 2498.2,151.5 2513.6,151.5 2529,151.5 2544.4,151.5 2559.8,151.5 2575.2,151.5 2590.6,151.5 2602.3,151.5" stroke="url(#gb23)"/>
<path d="M1839.8,143.2 1851.6,143.2 1867,143.2 1882.4,143.2 1897.8,143.2 1913.2,143.2 1928.6,143.2 1944,143.2 1959.4,143.3 1974.8,143.3 1990.2,143.4 2005.6,143.7 2021,144 2036.3,144.6 2051.7,145.5 2067.1,146.9 2082.5,148.8 2097.9,151.3 2113.3,154.4 2128.7,158.1 2144.1,162.1 2159.5,166.1 2174.9,169.9 2190.3,173 2205.7,175 2221.1,175.7 2236.5,175 2251.9,173 2267.3,169.9 2282.7,166.1 2298.1,162.1 2313.5,158.1 2328.9,154.4 2344.3,151.3 2359.7,148.8 2375.1,146.9 2390.5,145.5 2405.8,144.6 2421.2,144 2436.6,143.7 2452,143.4 2467.4,143.3 2482.8,143.3 2498.2,143.2 2513.6,143.2 2529,143.2 2544.4,143.2 2559.8,143.2 2575.2,143.2 2590.6,143.2 2602.3,143.2" stroke="url(#gb24)"/>
<path d="M1839.8,134.9 1851.6,134.9 1867,134.9 1882.4,134.9 1897.8,134.9 1913.2,134.9 1928.6,134.9 1944,134.9 1959.4,135 1974.8,135 1990.2,135.2 2005.6,135.4 2021,135.8 2036.3,136.5 2051.7,137.5 2067.1,139 2082.5,141.1 2097.9,143.8 2113.3,147.2 2128.7,151.3 2144.1,155.7 2159.5,160.2 2174.9,164.3 2190.3,167.7 2205.7,169.9 2221.1,170.6 2236.5,169.9 2251.9,167.7 2267.3,164.3 2282.7,160.2 2298.1,155.7 2313.5,151.3 2328.9,147.2 2344.3,143.8 2359.7,141.1 2375.1,139 2390.5,137.5 2405.8,136.5 2421.2,135.8 2436.6,135.4 2452,135.2 2467.4,135 2482.8,135 2498.2,134.9 2513.6,134.9 2529,134.9 2544.4,134.9 2559.8,134.9 2575.2,134.9 2590.6,134.9 2602.3,134.9" stroke="url(#gb25)"/>
<path d="M1839.8,126.6 1851.6,126.6 1867,126.6 1882.4,126.6 1897.8,126.6 1913.2,126.6 1928.6,126.6 1944,126.7 1959.4,126.7 1974.8,126.8 1990.2,126.9 2005.6,127.2 2021,127.6 2036.3,128.3 2051.7,129.4 2067.1,131.1 2082.5,133.3 2097.9,136.3 2113.3,140.1 2128.7,144.5 2144.1,149.3 2159.5,154.2 2174.9,158.7 2190.3,162.4 2205.7,164.8 2221.1,165.6 2236.5,164.8 2251.9,162.4 2267.3,158.7 2282.7,154.2 2298.1,149.3 2313.5,144.5 2328.9,140.1 2344.3,136.3 2359.7,133.3 2375.1,131.1 2390.5,129.4 2405.8,128.3 2421.2,127.6 2436.6,127.2 2452,126.9 2467.4,126.8 2482.8,126.7 2498.2,126.7 2513.6,126.6 2529,126.6 2544.4,126.6 2559.8,126.6 2575.2,126.6 2590.6,126.6 2602.3,126.6" stroke="url(#gb26)"/>
<path d="M1839.8,118.3 1851.6,118.3 1867,118.3 1882.4,118.3 1897.8,118.3 1913.2,118.3 1928.6,118.4 1944,118.4 1959.4,118.4 1974.8,118.5 1990.2,118.7 2005.6,118.9 2021,119.4 2036.3,120.2 2051.7,121.4 2067.1,123.2 2082.5,125.6 2097.9,128.9 2113.3,132.9 2128.7,137.7 2144.1,142.9 2159.5,148.2 2174.9,153.1 2190.3,157 2205.7,159.7 2221.1,160.6 2236.5,159.7 2251.9,157 2267.3,153.1 2282.7,148.2 2298.1,142.9 2313.5,137.7 2328.9,132.9 2344.3,128.9 2359.7,125.6 2375.1,123.2 2390.5,121.4 2405.8,120.2 2421.2,119.4 2436.6,118.9 2452,118.7 2467.4,118.5 2482.8,118.4 2498.2,118.4 2513.6,118.4 2529,118.3 2544.4,118.3 2559.8,118.3 2575.2,118.3 2590.6,118.3 2602.3,118.3" stroke="url(#gb27)"/>
<path d="M1839.8,110.1 1851.6,110.1 1867,110.1 1882.4,110.1 1897.8,110.1 1913.2,110.1 1928.6,110.1 1944,110.1 1959.4,110.1 1974.8,110.2 1990.2,110.4 2005.6,110.7 2021,111.2 2036.3,112 2051.7,113.3 2067.1,115.2 2082.5,117.9 2097.9,121.4 2113.3,125.8 2128.7,130.9 2144.1,136.5 2159.5,142.2 2174.9,147.5 2190.3,151.7 2205.7,154.5 2221.1,155.5 2236.5,154.5 2251.9,151.7 2267.3,147.5 2282.7,142.2 2298.1,136.5 2313.5,130.9 2328.9,125.8 2344.3,121.4 2359.7,117.9 2375.1,115.2 2390.5,113.3 2405.8,112 2421.2,111.2 2436.6,110.7 2452,110.4 2467.4,110.2 2482.8,110.1 2498.2,110.1 2513.6,110.1 2529,110.1 2544.4,110.1 2559.8,110.1 2575.2,110.1 2590.6,110.1 2602.3,110.1" stroke="#404ca0"/></g>
</g>
<path d="M1809.9,50.6V400.5H2634.8" fill="none" stroke="#1a1718" stroke-width="3" stroke-linejoin="miter"/>
<path d="M1809.9,107.4h14.5M1809.9,167.3h14.5M1809.9,227.2h14.5M1809.9,287.1h14.5M1809.9,346.6h14.5M1851.6,400.5v-13.5M1999.5,400.5v-13.5M2147.4,400.5v-13.5M2295.3,400.5v-13.5M2443.2,400.5v-13.5M2591.1,400.5v-13.5" fill="none" stroke="#1a1718" stroke-width="2.9"/>
<text x="1770.3" y="122.0" text-anchor="end">0.050</text>
<text x="1770.3" y="181.9" text-anchor="end">0.025</text>
<text x="1770.3" y="241.8" text-anchor="end">0</text>
<text x="1770.3" y="301.7" text-anchor="end">−0.025</text>
<text x="1770.3" y="361.2" text-anchor="end">−0.050</text>
<text x="1850.6" y="477.3" text-anchor="middle">0</text>
<text x="1998.5" y="477.3" text-anchor="middle">0.2</text>
<text x="2146.4" y="477.3" text-anchor="middle">0.4</text>
<text x="2294.3" y="477.3" text-anchor="middle">0.6</text>
<text x="2442.2" y="477.3" text-anchor="middle">0.8</text>
<text x="2590.1" y="477.3" text-anchor="middle">1.0</text>
<defs><linearGradient id="cbb" x1="0" y1="0" x2="0" y2="1"><stop offset="0.000" stop-color="#a1202d"/><stop offset="0.025" stop-color="#a62430"/><stop offset="0.050" stop-color="#af2d37"/><stop offset="0.075" stop-color="#b8363e"/><stop offset="0.100" stop-color="#c03f44"/><stop offset="0.125" stop-color="#c8484b"/><stop offset="0.150" stop-color="#cd5051"/><stop offset="0.175" stop-color="#d35856"/><stop offset="0.200" stop-color="#d7615c"/><stop offset="0.225" stop-color="#dc6c62"/><stop offset="0.250" stop-color="#e07569"/><stop offset="0.275" stop-color="#e37e71"/><stop offset="0.300" stop-color="#e7887a"/><stop offset="0.325" stop-color="#eb9383"/><stop offset="0.350" stop-color="#ec9e8e"/><stop offset="0.375" stop-color="#eda999"/><stop offset="0.400" stop-color="#ecb4a4"/><stop offset="0.425" stop-color="#ebbfb0"/><stop offset="0.450" stop-color="#e9c8bd"/><stop offset="0.475" stop-color="#e4cfca"/><stop offset="0.500" stop-color="#ddd5d5"/><stop offset="0.525" stop-color="#d4d5dc"/><stop offset="0.550" stop-color="#c9d1e1"/><stop offset="0.575" stop-color="#c0cce4"/><stop offset="0.600" stop-color="#b7c7e6"/><stop offset="0.625" stop-color="#afc1e5"/><stop offset="0.650" stop-color="#a7bbe2"/><stop offset="0.675" stop-color="#a0b5df"/><stop offset="0.700" stop-color="#97afdd"/><stop offset="0.725" stop-color="#8ea6d9"/><stop offset="0.750" stop-color="#849cd3"/><stop offset="0.775" stop-color="#7a93ce"/><stop offset="0.800" stop-color="#718ac8"/><stop offset="0.825" stop-color="#6881c3"/><stop offset="0.850" stop-color="#6179bd"/><stop offset="0.875" stop-color="#5970b8"/><stop offset="0.900" stop-color="#5368b2"/><stop offset="0.925" stop-color="#4e60ad"/><stop offset="0.950" stop-color="#4959a8"/><stop offset="0.975" stop-color="#4452a4"/><stop offset="1.000" stop-color="#404ca0"/></linearGradient></defs>
<rect x="2683.6" y="52.3" width="18.5" height="348.9" fill="url(#cbb)" stroke="#1a1718" stroke-width="2.6"/>
<text x="2738.1" y="82.8">0.12</text>
<text x="2738.1" y="141.3">0.10</text>
<text x="2738.1" y="199.8">0.08</text>
<text x="2738.1" y="258.2">0.06</text>
<text x="2738.1" y="316.7">0.04</text>
<text x="2738.1" y="375.2">0.02</text>
<path d="M2703.1,65.2h10.5M2703.1,123.0h10.5M2703.1,183.5h10.5M2703.1,241.5h10.5M2703.1,299.9h10.5M2703.1,357.6h10.5" fill="none" stroke="#1a1718" stroke-width="2.2"/>
<text x="2222.7" y="108.2" text-anchor="middle" fill="#3f55a5"><tspan font-style="italic">u</tspan> DNN</text>
<text x="2221.3" y="556.7" text-anchor="middle">DNN (Navier–Stokes constrained)</text>
<text x="1769.8" y="50.6" text-anchor="end" font-weight="bold">b</text>
</g>
<g id="panel-c">
<g filter="url(#soft)">
<defs><linearGradient id="gc1" gradientUnits="userSpaceOnUse" x1="550.3" y1="0" x2="1289.3" y2="0"><stop offset="0.000" stop-color="#495aa9"/><stop offset="0.212" stop-color="#4857a7"/><stop offset="0.346" stop-color="#424ea2"/><stop offset="0.417" stop-color="#4756a6"/><stop offset="0.525" stop-color="#566cb5"/><stop offset="0.596" stop-color="#5a71b9"/><stop offset="0.767" stop-color="#4b5caa"/><stop offset="1.000" stop-color="#495aa9"/></linearGradient><linearGradient id="gc2" gradientUnits="userSpaceOnUse" x1="550.3" y1="0" x2="1289.3" y2="0"><stop offset="0.000" stop-color="#5e75bb"/><stop offset="0.179" stop-color="#5c73ba"/><stop offset="0.329" stop-color="#4c5dab"/><stop offset="0.375" stop-color="#4f61ae"/><stop offset="0.421" stop-color="#5b72b9"/><stop offset="0.492" stop-color="#7a93ce"/><stop offset="0.554" stop-color="#8ca5d8"/><stop offset="0.592" stop-color="#90a8da"/><stop offset="0.633" stop-color="#88a0d6"/><stop offset="0.725" stop-color="#6a83c3"/><stop offset="0.796" stop-color="#6178bd"/><stop offset="1.000" stop-color="#5e75bb"/></linearGradient><linearGradient id="gc3" gradientUnits="userSpaceOnUse" x1="550.3" y1="0" x2="1289.3" y2="0"><stop offset="0.000" stop-color="#7891cd"/><stop offset="0.171" stop-color="#768fcb"/><stop offset="0.242" stop-color="#6a83c4"/><stop offset="0.321" stop-color="#5b71b9"/><stop offset="0.358" stop-color="#5c73ba"/><stop offset="0.396" stop-color="#6881c2"/><stop offset="0.438" stop-color="#849cd3"/><stop offset="0.462" stop-color="#97aedd"/><stop offset="0.500" stop-color="#a8bce3"/><stop offset="0.562" stop-color="#bbc9e5"/><stop offset="0.596" stop-color="#bdcae5"/><stop offset="0.637" stop-color="#b1c3e5"/><stop offset="0.729" stop-color="#8ba3d7"/><stop offset="0.783" stop-color="#7d96d0"/><stop offset="0.887" stop-color="#7891cd"/><stop offset="1.000" stop-color="#7891cd"/></linearGradient><linearGradient id="gc4" gradientUnits="userSpaceOnUse" x1="550.3" y1="0" x2="1289.3" y2="0"><stop offset="0.000" stop-color="#94acdc"/><stop offset="0.167" stop-color="#92aadb"/><stop offset="0.229" stop-color="#879fd5"/><stop offset="0.312" stop-color="#7089c7"/><stop offset="0.350" stop-color="#7089c7"/><stop offset="0.383" stop-color="#7b94cf"/><stop offset="0.421" stop-color="#98b0dd"/><stop offset="0.458" stop-color="#b4c5e5"/><stop offset="0.487" stop-color="#c8d0e1"/><stop offset="0.521" stop-color="#dbd7d9"/><stop offset="0.567" stop-color="#e6cdc6"/><stop offset="0.592" stop-color="#e6ccc5"/><stop offset="0.621" stop-color="#e1d2cf"/><stop offset="0.642" stop-color="#d8d7db"/><stop offset="0.696" stop-color="#b6c6e6"/><stop offset="0.733" stop-color="#a5bae2"/><stop offset="0.800" stop-color="#98afdd"/><stop offset="0.925" stop-color="#94acdc"/><stop offset="1.000" stop-color="#94acdc"/></linearGradient><linearGradient id="gc5" gradientUnits="userSpaceOnUse" x1="550.3" y1="0" x2="1289.3" y2="0"><stop offset="0.000" stop-color="#a7bce3"/><stop offset="0.179" stop-color="#a5bae2"/><stop offset="0.246" stop-color="#9bb2dd"/><stop offset="0.317" stop-color="#88a1d6"/><stop offset="0.350" stop-color="#8aa2d7"/><stop offset="0.383" stop-color="#99b0dd"/><stop offset="0.417" stop-color="#afc2e5"/><stop offset="0.433" stop-color="#bfcbe4"/><stop offset="0.458" stop-color="#d8d7db"/><stop offset="0.471" stop-color="#e0d2d0"/><stop offset="0.492" stop-color="#e9c7bc"/><stop offset="0.521" stop-color="#ecb7a7"/><stop offset="0.567" stop-color="#eda494"/><stop offset="0.592" stop-color="#eca393"/><stop offset="0.617" stop-color="#edac9c"/><stop offset="0.646" stop-color="#ebc0b1"/><stop offset="0.667" stop-color="#e6cdc6"/><stop offset="0.688" stop-color="#dad8da"/><stop offset="0.721" stop-color="#c3cee3"/><stop offset="0.754" stop-color="#b5c5e5"/><stop offset="0.808" stop-color="#aabee4"/><stop offset="0.983" stop-color="#a7bce3"/><stop offset="1.000" stop-color="#a7bce3"/></linearGradient><linearGradient id="gc6" gradientUnits="userSpaceOnUse" x1="550.3" y1="0" x2="1289.3" y2="0"><stop offset="0.000" stop-color="#b9c8e6"/><stop offset="0.179" stop-color="#b8c7e6"/><stop offset="0.250" stop-color="#acbfe4"/><stop offset="0.317" stop-color="#a1b6df"/><stop offset="0.354" stop-color="#a4b9e1"/><stop offset="0.379" stop-color="#aec1e5"/><stop offset="0.400" stop-color="#bdcae5"/><stop offset="0.425" stop-color="#d7d7db"/><stop offset="0.433" stop-color="#dfd4d2"/><stop offset="0.450" stop-color="#e9c7bc"/><stop offset="0.471" stop-color="#ecb4a4"/><stop offset="0.504" stop-color="#ec9989"/><stop offset="0.542" stop-color="#e68577"/><stop offset="0.575" stop-color="#e27c6f"/><stop offset="0.604" stop-color="#e48073"/><stop offset="0.633" stop-color="#eb9282"/><stop offset="0.675" stop-color="#ecbaaa"/><stop offset="0.700" stop-color="#e6cdc5"/><stop offset="0.725" stop-color="#dad8da"/><stop offset="0.762" stop-color="#c7d0e1"/><stop offset="0.817" stop-color="#bdcae5"/><stop offset="0.963" stop-color="#b9c8e6"/><stop offset="1.000" stop-color="#b9c8e6"/></linearGradient><linearGradient id="gc7" gradientUnits="userSpaceOnUse" x1="550.3" y1="0" x2="1289.3" y2="0"><stop offset="0.000" stop-color="#cad1e0"/><stop offset="0.183" stop-color="#c9d0e1"/><stop offset="0.317" stop-color="#b6c6e6"/><stop offset="0.350" stop-color="#bbc9e5"/><stop offset="0.379" stop-color="#c9d1e1"/><stop offset="0.396" stop-color="#d8d7db"/><stop offset="0.412" stop-color="#e5cec7"/><stop offset="0.429" stop-color="#ecbfaf"/><stop offset="0.458" stop-color="#ec9c8c"/><stop offset="0.487" stop-color="#e58275"/><stop offset="0.525" stop-color="#de6f64"/><stop offset="0.571" stop-color="#d65f5b"/><stop offset="0.596" stop-color="#d7625c"/><stop offset="0.625" stop-color="#de7165"/><stop offset="0.650" stop-color="#e68477"/><stop offset="0.675" stop-color="#ec9f8f"/><stop offset="0.708" stop-color="#ebbfb0"/><stop offset="0.733" stop-color="#e5cec7"/><stop offset="0.767" stop-color="#dad8da"/><stop offset="0.817" stop-color="#ced3df"/><stop offset="0.925" stop-color="#cad1e0"/><stop offset="1.000" stop-color="#cad1e0"/></linearGradient><linearGradient id="gc8" gradientUnits="userSpaceOnUse" x1="550.3" y1="0" x2="1289.3" y2="0"><stop offset="0.000" stop-color="#dad8da"/><stop offset="0.196" stop-color="#dad8da"/><stop offset="0.312" stop-color="#cfd3de"/><stop offset="0.346" stop-color="#d5d6dc"/><stop offset="0.362" stop-color="#dcd6d6"/><stop offset="0.388" stop-color="#e8cac0"/><stop offset="0.408" stop-color="#ecb6a6"/><stop offset="0.438" stop-color="#eb9282"/><stop offset="0.458" stop-color="#e37d70"/><stop offset="0.483" stop-color="#dc6b61"/><stop offset="0.517" stop-color="#d35957"/><stop offset="0.571" stop-color="#ca4b4d"/><stop offset="0.600" stop-color="#cc4e50"/><stop offset="0.625" stop-color="#d45a58"/><stop offset="0.654" stop-color="#e07568"/><stop offset="0.679" stop-color="#e98e7e"/><stop offset="0.713" stop-color="#edaf9f"/><stop offset="0.738" stop-color="#ebc2b4"/><stop offset="0.767" stop-color="#e5cdc6"/><stop offset="0.812" stop-color="#ded5d4"/><stop offset="0.896" stop-color="#dad8da"/><stop offset="1.000" stop-color="#dad8da"/></linearGradient><linearGradient id="gc9" gradientUnits="userSpaceOnUse" x1="550.3" y1="0" x2="1289.3" y2="0"><stop offset="0.000" stop-color="#e3d0cb"/><stop offset="0.233" stop-color="#e4cfc9"/><stop offset="0.304" stop-color="#e4cfc9"/><stop offset="0.338" stop-color="#e8cbc1"/><stop offset="0.367" stop-color="#ecbeae"/><stop offset="0.400" stop-color="#ec9e8e"/><stop offset="0.421" stop-color="#e68678"/><stop offset="0.446" stop-color="#dd6e63"/><stop offset="0.475" stop-color="#d35857"/><stop offset="0.533" stop-color="#c24246"/><stop offset="0.575" stop-color="#bb3940"/><stop offset="0.600" stop-color="#c03f44"/><stop offset="0.637" stop-color="#d15555"/><stop offset="0.671" stop-color="#e07669"/><stop offset="0.704" stop-color="#eb9787"/><stop offset="0.742" stop-color="#ecb7a7"/><stop offset="0.771" stop-color="#eac4b8"/><stop offset="0.808" stop-color="#e7ccc4"/><stop offset="0.883" stop-color="#e3d0cb"/><stop offset="1.000" stop-color="#e3d0cb"/></linearGradient><linearGradient id="gc10" gradientUnits="userSpaceOnUse" x1="550.3" y1="0" x2="1289.3" y2="0"><stop offset="0.000" stop-color="#e8c9bf"/><stop offset="0.183" stop-color="#eac5b9"/><stop offset="0.287" stop-color="#ecbfb0"/><stop offset="0.329" stop-color="#ecb4a4"/><stop offset="0.367" stop-color="#ec9d8d"/><stop offset="0.388" stop-color="#e88b7c"/><stop offset="0.421" stop-color="#dc6c62"/><stop offset="0.446" stop-color="#d25655"/><stop offset="0.500" stop-color="#be3d43"/><stop offset="0.567" stop-color="#af2d37"/><stop offset="0.592" stop-color="#b12f39"/><stop offset="0.621" stop-color="#c03f44"/><stop offset="0.658" stop-color="#d65e5a"/><stop offset="0.683" stop-color="#e1776b"/><stop offset="0.717" stop-color="#eb9787"/><stop offset="0.754" stop-color="#ecb3a3"/><stop offset="0.787" stop-color="#ebc0b1"/><stop offset="0.838" stop-color="#e9c7bc"/><stop offset="0.975" stop-color="#e8c9c0"/><stop offset="1.000" stop-color="#e8c9c0"/></linearGradient><linearGradient id="gc11" gradientUnits="userSpaceOnUse" x1="550.3" y1="0" x2="1289.3" y2="0"><stop offset="0.000" stop-color="#eac3b6"/><stop offset="0.146" stop-color="#ebc0b1"/><stop offset="0.233" stop-color="#ecb6a6"/><stop offset="0.296" stop-color="#eda696"/><stop offset="0.342" stop-color="#ea9181"/><stop offset="0.396" stop-color="#db6a61"/><stop offset="0.425" stop-color="#cf5252"/><stop offset="0.467" stop-color="#bc3b41"/><stop offset="0.529" stop-color="#ab2934"/><stop offset="0.575" stop-color="#a52330"/><stop offset="0.600" stop-color="#ad2b35"/><stop offset="0.637" stop-color="#c64549"/><stop offset="0.671" stop-color="#d8645d"/><stop offset="0.704" stop-color="#e58376"/><stop offset="0.729" stop-color="#ec9a8a"/><stop offset="0.767" stop-color="#edb1a1"/><stop offset="0.808" stop-color="#ecbeae"/><stop offset="0.875" stop-color="#eac3b5"/><stop offset="1.000" stop-color="#eac3b6"/></linearGradient><linearGradient id="gc12" gradientUnits="userSpaceOnUse" x1="550.3" y1="0" x2="1289.3" y2="0"><stop offset="0.000" stop-color="#ebbfb0"/><stop offset="0.138" stop-color="#ecbbab"/><stop offset="0.217" stop-color="#edaf9f"/><stop offset="0.279" stop-color="#ec9a8a"/><stop offset="0.321" stop-color="#e58476"/><stop offset="0.367" stop-color="#da685f"/><stop offset="0.408" stop-color="#ca4b4d"/><stop offset="0.450" stop-color="#b5333c"/><stop offset="0.512" stop-color="#a62430"/><stop offset="0.567" stop-color="#a2202d"/><stop offset="0.592" stop-color="#a4222f"/><stop offset="0.621" stop-color="#b6343c"/><stop offset="0.658" stop-color="#d05454"/><stop offset="0.696" stop-color="#e1786c"/><stop offset="0.733" stop-color="#ec9888"/><stop offset="0.771" stop-color="#edae9e"/><stop offset="0.817" stop-color="#ecbaaa"/><stop offset="0.904" stop-color="#ebbfb0"/><stop offset="1.000" stop-color="#ebbfb1"/></linearGradient><linearGradient id="gc13" gradientUnits="userSpaceOnUse" x1="550.3" y1="0" x2="1289.3" y2="0"><stop offset="0.000" stop-color="#ecbdae"/><stop offset="0.129" stop-color="#ecb9a9"/><stop offset="0.200" stop-color="#edad9d"/><stop offset="0.258" stop-color="#eb9686"/><stop offset="0.338" stop-color="#da675f"/><stop offset="0.379" stop-color="#ca4b4d"/><stop offset="0.433" stop-color="#af2d37"/><stop offset="0.467" stop-color="#a62430"/><stop offset="0.537" stop-color="#a2202d"/><stop offset="0.592" stop-color="#a4222f"/><stop offset="0.621" stop-color="#b6343c"/><stop offset="0.658" stop-color="#d05453"/><stop offset="0.696" stop-color="#e1786b"/><stop offset="0.733" stop-color="#eb9787"/><stop offset="0.771" stop-color="#edab9b"/><stop offset="0.817" stop-color="#ecb8a8"/><stop offset="0.900" stop-color="#ecbdad"/><stop offset="1.000" stop-color="#ecbeae"/></linearGradient><linearGradient id="gc14" gradientUnits="userSpaceOnUse" x1="550.3" y1="0" x2="1289.3" y2="0"><stop offset="0.000" stop-color="#ecbdae"/><stop offset="0.125" stop-color="#ecb9a9"/><stop offset="0.188" stop-color="#edad9d"/><stop offset="0.237" stop-color="#ec9989"/><stop offset="0.287" stop-color="#e27a6e"/><stop offset="0.325" stop-color="#d7605b"/><stop offset="0.371" stop-color="#c24146"/><stop offset="0.421" stop-color="#a82632"/><stop offset="0.446" stop-color="#a2212e"/><stop offset="0.583" stop-color="#a3212e"/><stop offset="0.613" stop-color="#b3313a"/><stop offset="0.650" stop-color="#cd4f50"/><stop offset="0.692" stop-color="#e07669"/><stop offset="0.733" stop-color="#eb9888"/><stop offset="0.771" stop-color="#edac9c"/><stop offset="0.817" stop-color="#ecb8a8"/><stop offset="0.904" stop-color="#ecbdae"/><stop offset="1.000" stop-color="#ecbeae"/></linearGradient><linearGradient id="gc15" gradientUnits="userSpaceOnUse" x1="550.3" y1="0" x2="1289.3" y2="0"><stop offset="0.000" stop-color="#ebbfb0"/><stop offset="0.121" stop-color="#ecbbab"/><stop offset="0.179" stop-color="#edaf9f"/><stop offset="0.229" stop-color="#ec9a8a"/><stop offset="0.267" stop-color="#e48173"/><stop offset="0.304" stop-color="#d9665f"/><stop offset="0.342" stop-color="#ca4b4d"/><stop offset="0.404" stop-color="#a92732"/><stop offset="0.425" stop-color="#a2212e"/><stop offset="0.558" stop-color="#a4222f"/><stop offset="0.588" stop-color="#aa2833"/><stop offset="0.621" stop-color="#bd3c42"/><stop offset="0.658" stop-color="#d45a58"/><stop offset="0.692" stop-color="#e2796d"/><stop offset="0.729" stop-color="#eb9888"/><stop offset="0.771" stop-color="#edae9e"/><stop offset="0.821" stop-color="#ecbbab"/><stop offset="0.917" stop-color="#ebbfb0"/><stop offset="1.000" stop-color="#ebbfb0"/></linearGradient><linearGradient id="gc16" gradientUnits="userSpaceOnUse" x1="550.3" y1="0" x2="1289.3" y2="0"><stop offset="0.000" stop-color="#eac2b5"/><stop offset="0.113" stop-color="#ebbfb0"/><stop offset="0.167" stop-color="#ecb6a6"/><stop offset="0.212" stop-color="#eda393"/><stop offset="0.246" stop-color="#e98d7e"/><stop offset="0.296" stop-color="#da675f"/><stop offset="0.325" stop-color="#ce5151"/><stop offset="0.392" stop-color="#ac2a35"/><stop offset="0.421" stop-color="#a3212e"/><stop offset="0.492" stop-color="#a4222f"/><stop offset="0.579" stop-color="#af2d37"/><stop offset="0.613" stop-color="#bf3e44"/><stop offset="0.654" stop-color="#d65e5a"/><stop offset="0.688" stop-color="#e27c6f"/><stop offset="0.721" stop-color="#eb9888"/><stop offset="0.762" stop-color="#edb0a0"/><stop offset="0.808" stop-color="#ecbdad"/><stop offset="0.879" stop-color="#ebc2b4"/><stop offset="1.000" stop-color="#eac2b5"/></linearGradient><linearGradient id="gc17" gradientUnits="userSpaceOnUse" x1="550.3" y1="0" x2="1289.3" y2="0"><stop offset="0.000" stop-color="#e9c8bd"/><stop offset="0.108" stop-color="#eac5b8"/><stop offset="0.163" stop-color="#ecbdad"/><stop offset="0.204" stop-color="#edab9b"/><stop offset="0.246" stop-color="#e98f7f"/><stop offset="0.292" stop-color="#db6960"/><stop offset="0.321" stop-color="#cf5252"/><stop offset="0.379" stop-color="#b5333b"/><stop offset="0.421" stop-color="#a62430"/><stop offset="0.454" stop-color="#a5232f"/><stop offset="0.579" stop-color="#ba383f"/><stop offset="0.617" stop-color="#ca4c4e"/><stop offset="0.646" stop-color="#d7625c"/><stop offset="0.675" stop-color="#e27b6e"/><stop offset="0.713" stop-color="#ec9b8b"/><stop offset="0.754" stop-color="#ecb4a4"/><stop offset="0.792" stop-color="#ebc0b2"/><stop offset="0.850" stop-color="#e9c6bb"/><stop offset="1.000" stop-color="#e9c8bd"/></linearGradient><linearGradient id="gc18" gradientUnits="userSpaceOnUse" x1="550.3" y1="0" x2="1289.3" y2="0"><stop offset="0.000" stop-color="#e5cec7"/><stop offset="0.113" stop-color="#e8cbc3"/><stop offset="0.163" stop-color="#eac4b7"/><stop offset="0.196" stop-color="#ecb7a7"/><stop offset="0.237" stop-color="#ec9b8b"/><stop offset="0.279" stop-color="#e0766a"/><stop offset="0.312" stop-color="#d45a58"/><stop offset="0.367" stop-color="#bf3e43"/><stop offset="0.421" stop-color="#af2d37"/><stop offset="0.454" stop-color="#af2d37"/><stop offset="0.583" stop-color="#c8484b"/><stop offset="0.621" stop-color="#d55b59"/><stop offset="0.654" stop-color="#e1776b"/><stop offset="0.696" stop-color="#ec9a8a"/><stop offset="0.742" stop-color="#ecb9a9"/><stop offset="0.783" stop-color="#e9c6bb"/><stop offset="0.833" stop-color="#e7ccc4"/><stop offset="0.996" stop-color="#e5cec8"/><stop offset="1.000" stop-color="#e5cec8"/></linearGradient><linearGradient id="gc19" gradientUnits="userSpaceOnUse" x1="550.3" y1="0" x2="1289.3" y2="0"><stop offset="0.000" stop-color="#ddd5d4"/><stop offset="0.113" stop-color="#e0d2d0"/><stop offset="0.163" stop-color="#e7ccc4"/><stop offset="0.200" stop-color="#ebbfb1"/><stop offset="0.233" stop-color="#eda797"/><stop offset="0.263" stop-color="#e98d7e"/><stop offset="0.292" stop-color="#df7367"/><stop offset="0.329" stop-color="#d25756"/><stop offset="0.383" stop-color="#c34347"/><stop offset="0.429" stop-color="#bc3a41"/><stop offset="0.467" stop-color="#bf3e44"/><stop offset="0.542" stop-color="#cc4f50"/><stop offset="0.588" stop-color="#d35957"/><stop offset="0.625" stop-color="#df7266"/><stop offset="0.658" stop-color="#e88c7d"/><stop offset="0.692" stop-color="#eda898"/><stop offset="0.725" stop-color="#ecbeaf"/><stop offset="0.762" stop-color="#e7ccc3"/><stop offset="0.812" stop-color="#e0d2cf"/><stop offset="0.908" stop-color="#ddd5d4"/><stop offset="1.000" stop-color="#ddd5d5"/></linearGradient><linearGradient id="gc20" gradientUnits="userSpaceOnUse" x1="550.3" y1="0" x2="1289.3" y2="0"><stop offset="0.000" stop-color="#d1d4de"/><stop offset="0.113" stop-color="#d5d6dc"/><stop offset="0.150" stop-color="#dbd7d8"/><stop offset="0.192" stop-color="#e5cdc7"/><stop offset="0.225" stop-color="#ecbdad"/><stop offset="0.267" stop-color="#eb9686"/><stop offset="0.296" stop-color="#e27b6e"/><stop offset="0.321" stop-color="#db6960"/><stop offset="0.354" stop-color="#d35957"/><stop offset="0.417" stop-color="#cb4c4e"/><stop offset="0.458" stop-color="#cc4e50"/><stop offset="0.579" stop-color="#dd6d62"/><stop offset="0.617" stop-color="#e48173"/><stop offset="0.650" stop-color="#ec9c8c"/><stop offset="0.696" stop-color="#ebbfb0"/><stop offset="0.733" stop-color="#e4cfc8"/><stop offset="0.779" stop-color="#dad8d9"/><stop offset="0.854" stop-color="#d2d4dd"/><stop offset="1.000" stop-color="#d1d4de"/></linearGradient><linearGradient id="gc21" gradientUnits="userSpaceOnUse" x1="550.3" y1="0" x2="1289.3" y2="0"><stop offset="0.000" stop-color="#c1cce3"/><stop offset="0.121" stop-color="#c6cfe2"/><stop offset="0.167" stop-color="#d0d3de"/><stop offset="0.192" stop-color="#dad8da"/><stop offset="0.225" stop-color="#e8cbc2"/><stop offset="0.250" stop-color="#ecb8a8"/><stop offset="0.287" stop-color="#eb9484"/><stop offset="0.317" stop-color="#e37d70"/><stop offset="0.354" stop-color="#dd6e63"/><stop offset="0.417" stop-color="#d8625c"/><stop offset="0.454" stop-color="#d9645e"/><stop offset="0.537" stop-color="#e27b6f"/><stop offset="0.579" stop-color="#e78779"/><stop offset="0.613" stop-color="#ec9b8b"/><stop offset="0.662" stop-color="#ebc0b1"/><stop offset="0.692" stop-color="#e5cec8"/><stop offset="0.725" stop-color="#d9d8da"/><stop offset="0.779" stop-color="#c9d0e1"/><stop offset="0.862" stop-color="#c2cde3"/><stop offset="1.000" stop-color="#c1cce3"/></linearGradient><linearGradient id="gc22" gradientUnits="userSpaceOnUse" x1="550.3" y1="0" x2="1289.3" y2="0"><stop offset="0.000" stop-color="#b1c2e5"/><stop offset="0.121" stop-color="#b5c5e5"/><stop offset="0.175" stop-color="#c0cce4"/><stop offset="0.208" stop-color="#cfd3de"/><stop offset="0.225" stop-color="#dad8d9"/><stop offset="0.254" stop-color="#e9c8be"/><stop offset="0.287" stop-color="#edac9c"/><stop offset="0.321" stop-color="#eb9585"/><stop offset="0.358" stop-color="#e78779"/><stop offset="0.421" stop-color="#e47f72"/><stop offset="0.458" stop-color="#e58375"/><stop offset="0.533" stop-color="#ec9b8b"/><stop offset="0.583" stop-color="#edac9c"/><stop offset="0.621" stop-color="#ebc1b3"/><stop offset="0.650" stop-color="#e4cfc9"/><stop offset="0.675" stop-color="#dad8da"/><stop offset="0.721" stop-color="#c5cee2"/><stop offset="0.783" stop-color="#b6c6e6"/><stop offset="0.887" stop-color="#b1c2e5"/><stop offset="1.000" stop-color="#b0c2e5"/></linearGradient><linearGradient id="gc23" gradientUnits="userSpaceOnUse" x1="550.3" y1="0" x2="1289.3" y2="0"><stop offset="0.000" stop-color="#a0b6df"/><stop offset="0.129" stop-color="#a4b9e1"/><stop offset="0.179" stop-color="#adc0e4"/><stop offset="0.217" stop-color="#becae4"/><stop offset="0.250" stop-color="#d4d5dc"/><stop offset="0.258" stop-color="#dbd7d9"/><stop offset="0.287" stop-color="#e9c9bf"/><stop offset="0.317" stop-color="#ecb9a9"/><stop offset="0.350" stop-color="#edad9d"/><stop offset="0.425" stop-color="#eda696"/><stop offset="0.462" stop-color="#edac9c"/><stop offset="0.546" stop-color="#eac5b9"/><stop offset="0.583" stop-color="#e5cec7"/><stop offset="0.621" stop-color="#d9d7db"/><stop offset="0.675" stop-color="#becbe4"/><stop offset="0.725" stop-color="#adc0e4"/><stop offset="0.796" stop-color="#a3b8e1"/><stop offset="1.000" stop-color="#a0b6df"/></linearGradient><linearGradient id="gc24" gradientUnits="userSpaceOnUse" x1="550.3" y1="0" x2="1289.3" y2="0"><stop offset="0.000" stop-color="#8aa3d7"/><stop offset="0.121" stop-color="#8ea7d9"/><stop offset="0.183" stop-color="#9bb2dd"/><stop offset="0.233" stop-color="#aec0e4"/><stop offset="0.263" stop-color="#bfcbe4"/><stop offset="0.308" stop-color="#dad8da"/><stop offset="0.342" stop-color="#e1d2ce"/><stop offset="0.429" stop-color="#e4cfc9"/><stop offset="0.471" stop-color="#dfd3d1"/><stop offset="0.504" stop-color="#d9d7db"/><stop offset="0.608" stop-color="#bbc9e5"/><stop offset="0.675" stop-color="#a4b9e1"/><stop offset="0.771" stop-color="#91a9da"/><stop offset="0.875" stop-color="#8ba3d7"/><stop offset="1.000" stop-color="#8aa3d7"/></linearGradient><linearGradient id="gc25" gradientUnits="userSpaceOnUse" x1="550.3" y1="0" x2="1289.3" y2="0"><stop offset="0.000" stop-color="#718ac8"/><stop offset="0.133" stop-color="#758ecb"/><stop offset="0.188" stop-color="#7f98d1"/><stop offset="0.250" stop-color="#9bb2dd"/><stop offset="0.304" stop-color="#b0c2e5"/><stop offset="0.350" stop-color="#b8c8e6"/><stop offset="0.446" stop-color="#b8c8e6"/><stop offset="0.575" stop-color="#a2b7e0"/><stop offset="0.646" stop-color="#8fa7d9"/><stop offset="0.721" stop-color="#7b94cf"/><stop offset="0.817" stop-color="#728bc9"/><stop offset="1.000" stop-color="#718ac8"/></linearGradient><linearGradient id="gc26" gradientUnits="userSpaceOnUse" x1="550.3" y1="0" x2="1289.3" y2="0"><stop offset="0.000" stop-color="#5a70b8"/><stop offset="0.142" stop-color="#5d74ba"/><stop offset="0.208" stop-color="#677fc1"/><stop offset="0.312" stop-color="#89a1d6"/><stop offset="0.367" stop-color="#8da5d8"/><stop offset="0.454" stop-color="#8ba3d7"/><stop offset="0.629" stop-color="#6c85c5"/><stop offset="0.733" stop-color="#5f76bc"/><stop offset="0.875" stop-color="#5a70b8"/><stop offset="1.000" stop-color="#5a70b8"/></linearGradient><linearGradient id="gc27" gradientUnits="userSpaceOnUse" x1="550.3" y1="0" x2="1289.3" y2="0"><stop offset="0.000" stop-color="#4858a7"/><stop offset="0.179" stop-color="#4a5ba9"/><stop offset="0.329" stop-color="#596fb8"/><stop offset="0.471" stop-color="#576db6"/><stop offset="0.729" stop-color="#495aa9"/><stop offset="1.000" stop-color="#4858a7"/></linearGradient><clipPath id="clc"><rect x="540.5" y="749.3" width="758.5" height="251.5" rx="8.3"/></clipPath></defs>
<g fill="none" stroke-width="19.50" stroke-linejoin="round" clip-path="url(#clc)"><path d="M538.5,991 550.3,991 565.7,991 581.1,991 596.5,991 611.9,991 627.3,991 642.7,991 658.1,991 673.5,990.9 688.9,990.7 704.3,990.4 719.7,989.9 735,989.1 750.4,987.8 765.8,985.9 781.2,983.2 796.6,979.7 812,975.3 827.4,970.2 842.8,964.6 858.2,958.9 873.6,953.6 889,949.4 904.4,946.6 919.8,945.6 935.2,946.6 950.6,949.4 966,953.6 981.4,958.9 996.8,964.6 1012.2,970.2 1027.6,975.3 1043,979.7 1058.4,983.2 1073.8,985.9 1089.2,987.8 1104.5,989.1 1119.9,989.9 1135.3,990.4 1150.7,990.7 1166.1,990.9 1181.5,991 1196.9,991 1212.3,991 1227.7,991 1243.1,991 1258.5,991 1273.9,991 1289.3,991 1301,991" stroke="#404ca0"/>
<path d="M538.5,982.8 550.3,982.8 565.7,982.8 581.1,982.8 596.5,982.8 611.9,982.8 627.3,982.7 642.7,982.7 658.1,982.7 673.5,982.6 688.9,982.4 704.3,982.2 719.7,981.7 735,980.9 750.4,979.7 765.8,977.9 781.2,975.5 796.6,972.2 812,968.2 827.4,963.4 842.8,958.2 858.2,952.9 873.6,948 889,944.1 904.4,941.4 919.8,940.5 935.2,941.4 950.6,944.1 966,948 981.4,952.9 996.8,958.2 1012.2,963.4 1027.6,968.2 1043,972.2 1058.4,975.5 1073.8,977.9 1089.2,979.7 1104.5,980.9 1119.9,981.7 1135.3,982.2 1150.7,982.4 1166.1,982.6 1181.5,982.7 1196.9,982.7 1212.3,982.7 1227.7,982.8 1243.1,982.8 1258.5,982.8 1273.9,982.8 1289.3,982.8 1301,982.8" stroke="url(#gc1)"/>
<path d="M538.5,974.5 550.3,974.5 565.7,974.5 581.1,974.5 596.5,974.5 611.9,974.5 627.3,974.5 642.7,974.4 658.1,974.4 673.5,974.3 688.9,974.2 704.3,973.9 719.7,973.5 735,972.8 750.4,971.7 765.8,970 781.2,967.8 796.6,964.8 812,961 827.4,956.6 842.8,951.8 858.2,946.9 873.6,942.4 889,938.7 904.4,936.3 919.8,935.5 935.2,936.3 950.6,938.7 966,942.4 981.4,946.9 996.8,951.8 1012.2,956.6 1027.6,961 1043,964.8 1058.4,967.8 1073.8,970 1089.2,971.7 1104.5,972.8 1119.9,973.5 1135.3,973.9 1150.7,974.2 1166.1,974.3 1181.5,974.4 1196.9,974.4 1212.3,974.5 1227.7,974.5 1243.1,974.5 1258.5,974.5 1273.9,974.5 1289.3,974.5 1301,974.5" stroke="url(#gc2)"/>
<path d="M538.5,966.2 550.3,966.2 565.7,966.2 581.1,966.2 596.5,966.2 611.9,966.2 627.3,966.2 642.7,966.2 658.1,966.1 673.5,966.1 688.9,965.9 704.3,965.7 719.7,965.3 735,964.6 750.4,963.6 765.8,962.1 781.2,960 796.6,957.3 812,953.9 827.4,949.8 842.8,945.4 858.2,940.9 873.6,936.8 889,933.4 904.4,931.2 919.8,930.5 935.2,931.2 950.6,933.4 966,936.8 981.4,940.9 996.8,945.4 1012.2,949.8 1027.6,953.9 1043,957.3 1058.4,960 1073.8,962.1 1089.2,963.6 1104.5,964.6 1119.9,965.3 1135.3,965.7 1150.7,965.9 1166.1,966.1 1181.5,966.1 1196.9,966.2 1212.3,966.2 1227.7,966.2 1243.1,966.2 1258.5,966.2 1273.9,966.2 1289.3,966.2 1301,966.2" stroke="url(#gc3)"/>
<path d="M538.5,957.9 550.3,957.9 565.7,957.9 581.1,957.9 596.5,957.9 611.9,957.9 627.3,957.9 642.7,957.9 658.1,957.8 673.5,957.8 688.9,957.7 704.3,957.4 719.7,957.1 735,956.5 750.4,955.6 765.8,954.2 781.2,952.3 796.6,949.8 812,946.7 827.4,943 842.8,939 858.2,935 873.6,931.2 889,928.1 904.4,926.1 919.8,925.4 935.2,926.1 950.6,928.1 966,931.2 981.4,935 996.8,939 1012.2,943 1027.6,946.7 1043,949.8 1058.4,952.3 1073.8,954.2 1089.2,955.6 1104.5,956.5 1119.9,957.1 1135.3,957.4 1150.7,957.7 1166.1,957.8 1181.5,957.8 1196.9,957.9 1212.3,957.9 1227.7,957.9 1243.1,957.9 1258.5,957.9 1273.9,957.9 1289.3,957.9 1301,957.9" stroke="url(#gc4)"/>
<path d="M538.5,949.6 550.3,949.6 565.7,949.6 581.1,949.6 596.5,949.6 611.9,949.6 627.3,949.6 642.7,949.6 658.1,949.6 673.5,949.5 688.9,949.4 704.3,949.2 719.7,948.9 735,948.3 750.4,947.5 765.8,946.3 781.2,944.6 796.6,942.3 812,939.5 827.4,936.2 842.8,932.6 858.2,929 873.6,925.6 889,922.8 904.4,921 919.8,920.4 935.2,921 950.6,922.8 966,925.6 981.4,929 996.8,932.6 1012.2,936.2 1027.6,939.5 1043,942.3 1058.4,944.6 1073.8,946.3 1089.2,947.5 1104.5,948.3 1119.9,948.9 1135.3,949.2 1150.7,949.4 1166.1,949.5 1181.5,949.6 1196.9,949.6 1212.3,949.6 1227.7,949.6 1243.1,949.6 1258.5,949.6 1273.9,949.6 1289.3,949.6 1301,949.6" stroke="url(#gc5)"/>
<path d="M538.5,941.3 550.3,941.3 565.7,941.3 581.1,941.3 596.5,941.3 611.9,941.3 627.3,941.3 642.7,941.3 658.1,941.3 673.5,941.2 688.9,941.1 704.3,941 719.7,940.7 735,940.2 750.4,939.5 765.8,938.4 781.2,936.9 796.6,934.9 812,932.4 827.4,929.4 842.8,926.2 858.2,923 873.6,920 889,917.5 904.4,915.9 919.8,915.4 935.2,915.9 950.6,917.5 966,920 981.4,923 996.8,926.2 1012.2,929.4 1027.6,932.4 1043,934.9 1058.4,936.9 1073.8,938.4 1089.2,939.5 1104.5,940.2 1119.9,940.7 1135.3,941 1150.7,941.1 1166.1,941.2 1181.5,941.3 1196.9,941.3 1212.3,941.3 1227.7,941.3 1243.1,941.3 1258.5,941.3 1273.9,941.3 1289.3,941.3 1301,941.3" stroke="url(#gc6)"/>
<path d="M538.5,933 550.3,933 565.7,933 581.1,933 596.5,933 611.9,933 627.3,933 642.7,933 658.1,933 673.5,933 688.9,932.9 704.3,932.7 719.7,932.5 735,932.1 750.4,931.4 765.8,930.5 781.2,929.1 796.6,927.4 812,925.2 827.4,922.6 842.8,919.8 858.2,917 873.6,914.3 889,912.2 904.4,910.8 919.8,910.3 935.2,910.8 950.6,912.2 966,914.3 981.4,917 996.8,919.8 1012.2,922.6 1027.6,925.2 1043,927.4 1058.4,929.1 1073.8,930.5 1089.2,931.4 1104.5,932.1 1119.9,932.5 1135.3,932.7 1150.7,932.9 1166.1,933 1181.5,933 1196.9,933 1212.3,933 1227.7,933 1243.1,933 1258.5,933 1273.9,933 1289.3,933 1301,933" stroke="url(#gc7)"/>
<path d="M538.5,924.8 550.3,924.8 565.7,924.8 581.1,924.8 596.5,924.8 611.9,924.8 627.3,924.8 642.7,924.7 658.1,924.7 673.5,924.7 688.9,924.6 704.3,924.5 719.7,924.3 735,923.9 750.4,923.4 765.8,922.5 781.2,921.4 796.6,919.9 812,918 827.4,915.8 842.8,913.4 858.2,911 873.6,908.7 889,906.9 904.4,905.7 919.8,905.3 935.2,905.7 950.6,906.9 966,908.7 981.4,911 996.8,913.4 1012.2,915.8 1027.6,918 1043,919.9 1058.4,921.4 1073.8,922.5 1089.2,923.4 1104.5,923.9 1119.9,924.3 1135.3,924.5 1150.7,924.6 1166.1,924.7 1181.5,924.7 1196.9,924.7 1212.3,924.8 1227.7,924.8 1243.1,924.8 1258.5,924.8 1273.9,924.8 1289.3,924.8 1301,924.8" stroke="url(#gc8)"/>
<path d="M538.5,916.5 550.3,916.5 565.7,916.5 581.1,916.5 596.5,916.5 611.9,916.5 627.3,916.5 642.7,916.5 658.1,916.4 673.5,916.4 688.9,916.4 704.3,916.2 719.7,916.1 735,915.8 750.4,915.3 765.8,914.6 781.2,913.7 796.6,912.4 812,910.9 827.4,909 842.8,907 858.2,905 873.6,903.1 889,901.6 904.4,900.6 919.8,900.2 935.2,900.6 950.6,901.6 966,903.1 981.4,905 996.8,907 1012.2,909 1027.6,910.9 1043,912.4 1058.4,913.7 1073.8,914.6 1089.2,915.3 1104.5,915.8 1119.9,916.1 1135.3,916.2 1150.7,916.4 1166.1,916.4 1181.5,916.4 1196.9,916.5 1212.3,916.5 1227.7,916.5 1243.1,916.5 1258.5,916.5 1273.9,916.5 1289.3,916.5 1301,916.5" stroke="url(#gc9)"/>
<path d="M538.5,908.2 550.3,908.2 565.7,908.2 581.1,908.2 596.5,908.2 611.9,908.2 627.3,908.2 642.7,908.2 658.1,908.2 673.5,908.1 688.9,908.1 704.3,908 719.7,907.9 735,907.6 750.4,907.3 765.8,906.7 781.2,906 796.6,905 812,903.7 827.4,902.2 842.8,900.6 858.2,899 873.6,897.5 889,896.3 904.4,895.5 919.8,895.2 935.2,895.5 950.6,896.3 966,897.5 981.4,899 996.8,900.6 1012.2,902.2 1027.6,903.7 1043,905 1058.4,906 1073.8,906.7 1089.2,907.3 1104.5,907.6 1119.9,907.9 1135.3,908 1150.7,908.1 1166.1,908.1 1181.5,908.2 1196.9,908.2 1212.3,908.2 1227.7,908.2 1243.1,908.2 1258.5,908.2 1273.9,908.2 1289.3,908.2 1301,908.2" stroke="url(#gc10)"/>
<path d="M538.5,899.9 550.3,899.9 565.7,899.9 581.1,899.9 596.5,899.9 611.9,899.9 627.3,899.9 642.7,899.9 658.1,899.9 673.5,899.9 688.9,899.8 704.3,899.8 719.7,899.7 735,899.5 750.4,899.2 765.8,898.8 781.2,898.2 796.6,897.5 812,896.5 827.4,895.4 842.8,894.2 858.2,893 873.6,891.9 889,891 904.4,890.4 919.8,890.2 935.2,890.4 950.6,891 966,891.9 981.4,893 996.8,894.2 1012.2,895.4 1027.6,896.5 1043,897.5 1058.4,898.2 1073.8,898.8 1089.2,899.2 1104.5,899.5 1119.9,899.7 1135.3,899.8 1150.7,899.8 1166.1,899.9 1181.5,899.9 1196.9,899.9 1212.3,899.9 1227.7,899.9 1243.1,899.9 1258.5,899.9 1273.9,899.9 1289.3,899.9 1301,899.9" stroke="url(#gc11)"/>
<path d="M538.5,891.6 550.3,891.6 565.7,891.6 581.1,891.6 596.5,891.6 611.9,891.6 627.3,891.6 642.7,891.6 658.1,891.6 673.5,891.6 688.9,891.6 704.3,891.5 719.7,891.5 735,891.3 750.4,891.2 765.8,890.9 781.2,890.5 796.6,890 812,889.4 827.4,888.6 842.8,887.8 858.2,887 873.6,886.3 889,885.7 904.4,885.3 919.8,885.1 935.2,885.3 950.6,885.7 966,886.3 981.4,887 996.8,887.8 1012.2,888.6 1027.6,889.4 1043,890 1058.4,890.5 1073.8,890.9 1089.2,891.2 1104.5,891.3 1119.9,891.5 1135.3,891.5 1150.7,891.6 1166.1,891.6 1181.5,891.6 1196.9,891.6 1212.3,891.6 1227.7,891.6 1243.1,891.6 1258.5,891.6 1273.9,891.6 1289.3,891.6 1301,891.6" stroke="url(#gc12)"/>
<path d="M538.5,883.3 550.3,883.3 565.7,883.3 581.1,883.3 596.5,883.3 611.9,883.3 627.3,883.3 642.7,883.3 658.1,883.3 673.5,883.3 688.9,883.3 704.3,883.3 719.7,883.3 735,883.2 750.4,883.1 765.8,883 781.2,882.8 796.6,882.5 812,882.2 827.4,881.8 842.8,881.4 858.2,881 873.6,880.7 889,880.4 904.4,880.2 919.8,880.1 935.2,880.2 950.6,880.4 966,880.7 981.4,881 996.8,881.4 1012.2,881.8 1027.6,882.2 1043,882.5 1058.4,882.8 1073.8,883 1089.2,883.1 1104.5,883.2 1119.9,883.3 1135.3,883.3 1150.7,883.3 1166.1,883.3 1181.5,883.3 1196.9,883.3 1212.3,883.3 1227.7,883.3 1243.1,883.3 1258.5,883.3 1273.9,883.3 1289.3,883.3 1301,883.3" stroke="url(#gc13)"/>
<path d="M538.5,875 550.3,875 565.7,875 581.1,875 596.5,875 611.9,875 627.3,875 642.7,875 658.1,875 673.5,875 688.9,875 704.3,875 719.7,875 735,875 750.4,875 765.8,875 781.2,875 796.6,875 812,875 827.4,875 842.8,875 858.2,875 873.6,875 889,875 904.4,875 919.8,875 935.2,875 950.6,875 966,875 981.4,875 996.8,875 1012.2,875 1027.6,875 1043,875 1058.4,875 1073.8,875 1089.2,875 1104.5,875 1119.9,875 1135.3,875 1150.7,875 1166.1,875 1181.5,875 1196.9,875 1212.3,875 1227.7,875 1243.1,875 1258.5,875 1273.9,875 1289.3,875 1301,875" stroke="url(#gc14)"/>
<path d="M538.5,866.8 550.3,866.8 565.7,866.8 581.1,866.8 596.5,866.8 611.9,866.8 627.3,866.8 642.7,866.8 658.1,866.8 673.5,866.8 688.9,866.8 704.3,866.8 719.7,866.8 735,866.9 750.4,867 765.8,867.1 781.2,867.3 796.6,867.6 812,867.9 827.4,868.3 842.8,868.7 858.2,869.1 873.6,869.4 889,869.7 904.4,869.9 919.8,870 935.2,869.9 950.6,869.7 966,869.4 981.4,869.1 996.8,868.7 1012.2,868.3 1027.6,867.9 1043,867.6 1058.4,867.3 1073.8,867.1 1089.2,867 1104.5,866.9 1119.9,866.8 1135.3,866.8 1150.7,866.8 1166.1,866.8 1181.5,866.8 1196.9,866.8 1212.3,866.8 1227.7,866.8 1243.1,866.8 1258.5,866.8 1273.9,866.8 1289.3,866.8 1301,866.8" stroke="url(#gc15)"/>
<path d="M538.5,858.5 550.3,858.5 565.7,858.5 581.1,858.5 596.5,858.5 611.9,858.5 627.3,858.5 642.7,858.5 658.1,858.5 673.5,858.5 688.9,858.5 704.3,858.6 719.7,858.6 735,858.8 750.4,858.9 765.8,859.2 781.2,859.6 796.6,860.1 812,860.7 827.4,861.5 842.8,862.3 858.2,863.1 873.6,863.8 889,864.4 904.4,864.8 919.8,865 935.2,864.8 950.6,864.4 966,863.8 981.4,863.1 996.8,862.3 1012.2,861.5 1027.6,860.7 1043,860.1 1058.4,859.6 1073.8,859.2 1089.2,858.9 1104.5,858.8 1119.9,858.6 1135.3,858.6 1150.7,858.5 1166.1,858.5 1181.5,858.5 1196.9,858.5 1212.3,858.5 1227.7,858.5 1243.1,858.5 1258.5,858.5 1273.9,858.5 1289.3,858.5 1301,858.5" stroke="url(#gc16)"/>
<path d="M538.5,850.2 550.3,850.2 565.7,850.2 581.1,850.2 596.5,850.2 611.9,850.2 627.3,850.2 642.7,850.2 658.1,850.2 673.5,850.2 688.9,850.3 704.3,850.3 719.7,850.4 735,850.6 750.4,850.9 765.8,851.3 781.2,851.9 796.6,852.6 812,853.6 827.4,854.7 842.8,855.9 858.2,857.1 873.6,858.2 889,859.1 904.4,859.7 919.8,859.9 935.2,859.7 950.6,859.1 966,858.2 981.4,857.1 996.8,855.9 1012.2,854.7 1027.6,853.6 1043,852.6 1058.4,851.9 1073.8,851.3 1089.2,850.9 1104.5,850.6 1119.9,850.4 1135.3,850.3 1150.7,850.3 1166.1,850.2 1181.5,850.2 1196.9,850.2 1212.3,850.2 1227.7,850.2 1243.1,850.2 1258.5,850.2 1273.9,850.2 1289.3,850.2 1301,850.2" stroke="url(#gc17)"/>
<path d="M538.5,841.9 550.3,841.9 565.7,841.9 581.1,841.9 596.5,841.9 611.9,841.9 627.3,841.9 642.7,841.9 658.1,841.9 673.5,842 688.9,842 704.3,842.1 719.7,842.2 735,842.5 750.4,842.8 765.8,843.4 781.2,844.1 796.6,845.1 812,846.4 827.4,847.9 842.8,849.5 858.2,851.1 873.6,852.6 889,853.8 904.4,854.6 919.8,854.9 935.2,854.6 950.6,853.8 966,852.6 981.4,851.1 996.8,849.5 1012.2,847.9 1027.6,846.4 1043,845.1 1058.4,844.1 1073.8,843.4 1089.2,842.8 1104.5,842.5 1119.9,842.2 1135.3,842.1 1150.7,842 1166.1,842 1181.5,841.9 1196.9,841.9 1212.3,841.9 1227.7,841.9 1243.1,841.9 1258.5,841.9 1273.9,841.9 1289.3,841.9 1301,841.9" stroke="url(#gc18)"/>
<path d="M538.5,833.6 550.3,833.6 565.7,833.6 581.1,833.6 596.5,833.6 611.9,833.6 627.3,833.6 642.7,833.6 658.1,833.7 673.5,833.7 688.9,833.7 704.3,833.9 719.7,834 735,834.3 750.4,834.8 765.8,835.5 781.2,836.4 796.6,837.7 812,839.2 827.4,841.1 842.8,843.1 858.2,845.1 873.6,847 889,848.5 904.4,849.5 919.8,849.9 935.2,849.5 950.6,848.5 966,847 981.4,845.1 996.8,843.1 1012.2,841.1 1027.6,839.2 1043,837.7 1058.4,836.4 1073.8,835.5 1089.2,834.8 1104.5,834.3 1119.9,834 1135.3,833.9 1150.7,833.7 1166.1,833.7 1181.5,833.7 1196.9,833.6 1212.3,833.6 1227.7,833.6 1243.1,833.6 1258.5,833.6 1273.9,833.6 1289.3,833.6 1301,833.6" stroke="url(#gc19)"/>
<path d="M538.5,825.3 550.3,825.3 565.7,825.3 581.1,825.3 596.5,825.3 611.9,825.3 627.3,825.3 642.7,825.4 658.1,825.4 673.5,825.4 688.9,825.5 704.3,825.6 719.7,825.8 735,826.2 750.4,826.7 765.8,827.6 781.2,828.7 796.6,830.2 812,832.1 827.4,834.3 842.8,836.7 858.2,839.1 873.6,841.4 889,843.2 904.4,844.4 919.8,844.8 935.2,844.4 950.6,843.2 966,841.4 981.4,839.1 996.8,836.7 1012.2,834.3 1027.6,832.1 1043,830.2 1058.4,828.7 1073.8,827.6 1089.2,826.7 1104.5,826.2 1119.9,825.8 1135.3,825.6 1150.7,825.5 1166.1,825.4 1181.5,825.4 1196.9,825.4 1212.3,825.3 1227.7,825.3 1243.1,825.3 1258.5,825.3 1273.9,825.3 1289.3,825.3 1301,825.3" stroke="url(#gc20)"/>
<path d="M538.5,817.1 550.3,817.1 565.7,817.1 581.1,817.1 596.5,817.1 611.9,817.1 627.3,817.1 642.7,817.1 658.1,817.1 673.5,817.1 688.9,817.2 704.3,817.4 719.7,817.6 735,818 750.4,818.7 765.8,819.6 781.2,821 796.6,822.7 812,824.9 827.4,827.5 842.8,830.3 858.2,833.1 873.6,835.8 889,837.9 904.4,839.3 919.8,839.8 935.2,839.3 950.6,837.9 966,835.8 981.4,833.1 996.8,830.3 1012.2,827.5 1027.6,824.9 1043,822.7 1058.4,821 1073.8,819.6 1089.2,818.7 1104.5,818 1119.9,817.6 1135.3,817.4 1150.7,817.2 1166.1,817.1 1181.5,817.1 1196.9,817.1 1212.3,817.1 1227.7,817.1 1243.1,817.1 1258.5,817.1 1273.9,817.1 1289.3,817.1 1301,817.1" stroke="url(#gc21)"/>
<path d="M538.5,808.8 550.3,808.8 565.7,808.8 581.1,808.8 596.5,808.8 611.9,808.8 627.3,808.8 642.7,808.8 658.1,808.8 673.5,808.9 688.9,809 704.3,809.1 719.7,809.4 735,809.9 750.4,810.6 765.8,811.7 781.2,813.2 796.6,815.2 812,817.7 827.4,820.7 842.8,823.9 858.2,827.1 873.6,830.1 889,832.6 904.4,834.2 919.8,834.7 935.2,834.2 950.6,832.6 966,830.1 981.4,827.1 996.8,823.9 1012.2,820.7 1027.6,817.7 1043,815.2 1058.4,813.2 1073.8,811.7 1089.2,810.6 1104.5,809.9 1119.9,809.4 1135.3,809.1 1150.7,809 1166.1,808.9 1181.5,808.8 1196.9,808.8 1212.3,808.8 1227.7,808.8 1243.1,808.8 1258.5,808.8 1273.9,808.8 1289.3,808.8 1301,808.8" stroke="url(#gc22)"/>
<path d="M538.5,800.5 550.3,800.5 565.7,800.5 581.1,800.5 596.5,800.5 611.9,800.5 627.3,800.5 642.7,800.5 658.1,800.5 673.5,800.6 688.9,800.7 704.3,800.9 719.7,801.2 735,801.8 750.4,802.6 765.8,803.8 781.2,805.5 796.6,807.8 812,810.6 827.4,813.9 842.8,817.5 858.2,821.1 873.6,824.5 889,827.3 904.4,829.1 919.8,829.7 935.2,829.1 950.6,827.3 966,824.5 981.4,821.1 996.8,817.5 1012.2,813.9 1027.6,810.6 1043,807.8 1058.4,805.5 1073.8,803.8 1089.2,802.6 1104.5,801.8 1119.9,801.2 1135.3,800.9 1150.7,800.7 1166.1,800.6 1181.5,800.5 1196.9,800.5 1212.3,800.5 1227.7,800.5 1243.1,800.5 1258.5,800.5 1273.9,800.5 1289.3,800.5 1301,800.5" stroke="url(#gc23)"/>
<path d="M538.5,792.2 550.3,792.2 565.7,792.2 581.1,792.2 596.5,792.2 611.9,792.2 627.3,792.2 642.7,792.2 658.1,792.3 673.5,792.3 688.9,792.4 704.3,792.7 719.7,793 735,793.6 750.4,794.5 765.8,795.9 781.2,797.8 796.6,800.3 812,803.4 827.4,807.1 842.8,811.1 858.2,815.1 873.6,818.9 889,822 904.4,824 919.8,824.7 935.2,824 950.6,822 966,818.9 981.4,815.1 996.8,811.1 1012.2,807.1 1027.6,803.4 1043,800.3 1058.4,797.8 1073.8,795.9 1089.2,794.5 1104.5,793.6 1119.9,793 1135.3,792.7 1150.7,792.4 1166.1,792.3 1181.5,792.3 1196.9,792.2 1212.3,792.2 1227.7,792.2 1243.1,792.2 1258.5,792.2 1273.9,792.2 1289.3,792.2 1301,792.2" stroke="url(#gc24)"/>
<path d="M538.5,783.9 550.3,783.9 565.7,783.9 581.1,783.9 596.5,783.9 611.9,783.9 627.3,783.9 642.7,783.9 658.1,784 673.5,784 688.9,784.2 704.3,784.4 719.7,784.8 735,785.5 750.4,786.5 765.8,788 781.2,790.1 796.6,792.8 812,796.2 827.4,800.3 842.8,804.7 858.2,809.2 873.6,813.3 889,816.7 904.4,818.9 919.8,819.6 935.2,818.9 950.6,816.7 966,813.3 981.4,809.2 996.8,804.7 1012.2,800.3 1027.6,796.2 1043,792.8 1058.4,790.1 1073.8,788 1089.2,786.5 1104.5,785.5 1119.9,784.8 1135.3,784.4 1150.7,784.2 1166.1,784 1181.5,784 1196.9,783.9 1212.3,783.9 1227.7,783.9 1243.1,783.9 1258.5,783.9 1273.9,783.9 1289.3,783.9 1301,783.9" stroke="url(#gc25)"/>
<path d="M538.5,775.6 550.3,775.6 565.7,775.6 581.1,775.6 596.5,775.6 611.9,775.6 627.3,775.6 642.7,775.7 658.1,775.7 673.5,775.8 688.9,775.9 704.3,776.2 719.7,776.6 735,777.3 750.4,778.4 765.8,780.1 781.2,782.3 796.6,785.3 812,789.1 827.4,793.5 842.8,798.3 858.2,803.2 873.6,807.7 889,811.4 904.4,813.8 919.8,814.6 935.2,813.8 950.6,811.4 966,807.7 981.4,803.2 996.8,798.3 1012.2,793.5 1027.6,789.1 1043,785.3 1058.4,782.3 1073.8,780.1 1089.2,778.4 1104.5,777.3 1119.9,776.6 1135.3,776.2 1150.7,775.9 1166.1,775.8 1181.5,775.7 1196.9,775.7 1212.3,775.6 1227.7,775.6 1243.1,775.6 1258.5,775.6 1273.9,775.6 1289.3,775.6 1301,775.6" stroke="url(#gc26)"/>
<path d="M538.5,767.3 550.3,767.3 565.7,767.3 581.1,767.3 596.5,767.3 611.9,767.3 627.3,767.4 642.7,767.4 658.1,767.4 673.5,767.5 688.9,767.7 704.3,767.9 719.7,768.4 735,769.2 750.4,770.4 765.8,772.2 781.2,774.6 796.6,777.9 812,781.9 827.4,786.7 842.8,791.9 858.2,797.2 873.6,802.1 889,806 904.4,808.7 919.8,809.6 935.2,808.7 950.6,806 966,802.1 981.4,797.2 996.8,791.9 1012.2,786.7 1027.6,781.9 1043,777.9 1058.4,774.6 1073.8,772.2 1089.2,770.4 1104.5,769.2 1119.9,768.4 1135.3,767.9 1150.7,767.7 1166.1,767.5 1181.5,767.4 1196.9,767.4 1212.3,767.4 1227.7,767.3 1243.1,767.3 1258.5,767.3 1273.9,767.3 1289.3,767.3 1301,767.3" stroke="url(#gc27)"/>
<path d="M538.5,759.1 550.3,759.1 565.7,759.1 581.1,759.1 596.5,759.1 611.9,759.1 627.3,759.1 642.7,759.1 658.1,759.1 673.5,759.2 688.9,759.4 704.3,759.7 719.7,760.2 735,761 750.4,762.3 765.8,764.2 781.2,766.9 796.6,770.4 812,774.8 827.4,779.9 842.8,785.5 858.2,791.2 873.6,796.5 889,800.7 904.4,803.5 919.8,804.5 935.2,803.5 950.6,800.7 966,796.5 981.4,791.2 996.8,785.5 1012.2,779.9 1027.6,774.8 1043,770.4 1058.4,766.9 1073.8,764.2 1089.2,762.3 1104.5,761 1119.9,760.2 1135.3,759.7 1150.7,759.4 1166.1,759.2 1181.5,759.1 1196.9,759.1 1212.3,759.1 1227.7,759.1 1243.1,759.1 1258.5,759.1 1273.9,759.1 1289.3,759.1 1301,759.1" stroke="#404ca0"/></g>
</g>
<path d="M508.6,699.6V1049.5H1333.5" fill="none" stroke="#1a1718" stroke-width="3" stroke-linejoin="miter"/>
<path d="M508.6,756.4h14.5M508.6,816.3h14.5M508.6,876.2h14.5M508.6,936.1h14.5M508.6,995.6h14.5M550.3,1049.5v-13.5M698.2,1049.5v-13.5M846.1,1049.5v-13.5M994.0,1049.5v-13.5M1141.9,1049.5v-13.5M1289.8,1049.5v-13.5" fill="none" stroke="#1a1718" stroke-width="2.9"/>
<text x="469.0" y="771.0" text-anchor="end">0.050</text>
<text x="469.0" y="830.9" text-anchor="end">0.025</text>
<text x="469.0" y="890.8" text-anchor="end">0</text>
<text x="469.0" y="950.7" text-anchor="end">−0.025</text>
<text x="469.0" y="1010.2" text-anchor="end">−0.050</text>
<text x="549.3" y="1126.3" text-anchor="middle">0</text>
<text x="697.2" y="1126.3" text-anchor="middle">0.2</text>
<text x="845.1" y="1126.3" text-anchor="middle">0.4</text>
<text x="993.0" y="1126.3" text-anchor="middle">0.6</text>
<text x="1140.9" y="1126.3" text-anchor="middle">0.8</text>
<text x="1288.8" y="1126.3" text-anchor="middle">1.0</text>
<defs><linearGradient id="cbc" x1="0" y1="0" x2="0" y2="1"><stop offset="0.000" stop-color="#a1202d"/><stop offset="0.025" stop-color="#a62430"/><stop offset="0.050" stop-color="#af2d37"/><stop offset="0.075" stop-color="#b8363e"/><stop offset="0.100" stop-color="#c03f44"/><stop offset="0.125" stop-color="#c8484b"/><stop offset="0.150" stop-color="#cd5051"/><stop offset="0.175" stop-color="#d35856"/><stop offset="0.200" stop-color="#d7615c"/><stop offset="0.225" stop-color="#dc6c62"/><stop offset="0.250" stop-color="#e07569"/><stop offset="0.275" stop-color="#e37e71"/><stop offset="0.300" stop-color="#e7887a"/><stop offset="0.325" stop-color="#eb9383"/><stop offset="0.350" stop-color="#ec9e8e"/><stop offset="0.375" stop-color="#eda999"/><stop offset="0.400" stop-color="#ecb4a4"/><stop offset="0.425" stop-color="#ebbfb0"/><stop offset="0.450" stop-color="#e9c8bd"/><stop offset="0.475" stop-color="#e4cfca"/><stop offset="0.500" stop-color="#ddd5d5"/><stop offset="0.525" stop-color="#d4d5dc"/><stop offset="0.550" stop-color="#c9d1e1"/><stop offset="0.575" stop-color="#c0cce4"/><stop offset="0.600" stop-color="#b7c7e6"/><stop offset="0.625" stop-color="#afc1e5"/><stop offset="0.650" stop-color="#a7bbe2"/><stop offset="0.675" stop-color="#a0b5df"/><stop offset="0.700" stop-color="#97afdd"/><stop offset="0.725" stop-color="#8ea6d9"/><stop offset="0.750" stop-color="#849cd3"/><stop offset="0.775" stop-color="#7a93ce"/><stop offset="0.800" stop-color="#718ac8"/><stop offset="0.825" stop-color="#6881c3"/><stop offset="0.850" stop-color="#6179bd"/><stop offset="0.875" stop-color="#5970b8"/><stop offset="0.900" stop-color="#5368b2"/><stop offset="0.925" stop-color="#4e60ad"/><stop offset="0.950" stop-color="#4959a8"/><stop offset="0.975" stop-color="#4452a4"/><stop offset="1.000" stop-color="#404ca0"/></linearGradient></defs>
<rect x="1383.5" y="701.3" width="18.5" height="348.9" fill="url(#cbc)" stroke="#1a1718" stroke-width="2.6"/>
<text x="1437.8" y="731.8">0.12</text>
<text x="1437.8" y="790.3">0.10</text>
<text x="1437.8" y="848.8">0.08</text>
<text x="1437.8" y="907.2">0.06</text>
<text x="1437.8" y="965.7">0.04</text>
<text x="1437.8" y="1024.2">0.02</text>
<path d="M1403.0,714.2h10.5M1403.0,772.0h10.5M1403.0,832.5h10.5M1403.0,890.5h10.5M1403.0,948.9h10.5M1403.0,1006.6h10.5" fill="none" stroke="#1a1718" stroke-width="2.2"/>
<text x="921.4" y="757.2" text-anchor="middle" fill="#3f55a5"><tspan font-style="italic">u</tspan> DNN</text>
<text x="913.0" y="1208.0" text-anchor="middle">DNN (continuity constrained)</text>
<text x="468.5" y="698.4" text-anchor="end" font-weight="bold">c</text>
</g>
<g id="panel-d">
<g filter="url(#soft)">
<defs><linearGradient id="gd1" gradientUnits="userSpaceOnUse" x1="1851.6" y1="0" x2="2589.3" y2="0"><stop offset="0.000" stop-color="#4959a8"/><stop offset="0.188" stop-color="#4b5daa"/><stop offset="0.388" stop-color="#586eb7"/><stop offset="0.471" stop-color="#556ab4"/><stop offset="0.633" stop-color="#5469b3"/><stop offset="0.758" stop-color="#4a5ba9"/><stop offset="1.000" stop-color="#4959a8"/></linearGradient><linearGradient id="gd2" gradientUnits="userSpaceOnUse" x1="1851.6" y1="0" x2="2589.3" y2="0"><stop offset="0.000" stop-color="#5c73ba"/><stop offset="0.138" stop-color="#6077bc"/><stop offset="0.225" stop-color="#6c85c5"/><stop offset="0.371" stop-color="#8ca5d8"/><stop offset="0.404" stop-color="#8aa2d7"/><stop offset="0.450" stop-color="#8099d2"/><stop offset="0.608" stop-color="#839bd3"/><stop offset="0.658" stop-color="#7891cd"/><stop offset="0.729" stop-color="#657dc0"/><stop offset="0.800" stop-color="#5d74bb"/><stop offset="1.000" stop-color="#5c73ba"/></linearGradient><linearGradient id="gd3" gradientUnits="userSpaceOnUse" x1="1851.6" y1="0" x2="2589.3" y2="0"><stop offset="0.000" stop-color="#758ecb"/><stop offset="0.121" stop-color="#7992cd"/><stop offset="0.179" stop-color="#849dd4"/><stop offset="0.246" stop-color="#9cb2de"/><stop offset="0.321" stop-color="#b2c3e5"/><stop offset="0.375" stop-color="#bdcae5"/><stop offset="0.404" stop-color="#b8c8e6"/><stop offset="0.446" stop-color="#acbfe4"/><stop offset="0.613" stop-color="#aec0e4"/><stop offset="0.667" stop-color="#9fb5df"/><stop offset="0.713" stop-color="#8ba3d7"/><stop offset="0.758" stop-color="#7c95cf"/><stop offset="0.833" stop-color="#758ecb"/><stop offset="1.000" stop-color="#748dca"/></linearGradient><linearGradient id="gd4" gradientUnits="userSpaceOnUse" x1="1851.6" y1="0" x2="2589.3" y2="0"><stop offset="0.000" stop-color="#8fa7da"/><stop offset="0.104" stop-color="#94acdc"/><stop offset="0.175" stop-color="#a2b7e0"/><stop offset="0.221" stop-color="#b2c3e5"/><stop offset="0.250" stop-color="#c0cce4"/><stop offset="0.300" stop-color="#dad8da"/><stop offset="0.362" stop-color="#e9c9be"/><stop offset="0.383" stop-color="#e9c8bd"/><stop offset="0.404" stop-color="#e5cec7"/><stop offset="0.433" stop-color="#dad8da"/><stop offset="0.458" stop-color="#d4d5dc"/><stop offset="0.525" stop-color="#d8d7db"/><stop offset="0.613" stop-color="#d8d7db"/><stop offset="0.642" stop-color="#ced2df"/><stop offset="0.683" stop-color="#b6c6e6"/><stop offset="0.721" stop-color="#a4b9e1"/><stop offset="0.779" stop-color="#95addc"/><stop offset="0.862" stop-color="#8fa8da"/><stop offset="1.000" stop-color="#8fa7d9"/></linearGradient><linearGradient id="gd5" gradientUnits="userSpaceOnUse" x1="1851.6" y1="0" x2="2589.3" y2="0"><stop offset="0.000" stop-color="#a4b9e1"/><stop offset="0.108" stop-color="#a8bde3"/><stop offset="0.158" stop-color="#b4c4e5"/><stop offset="0.192" stop-color="#c2cde3"/><stop offset="0.229" stop-color="#d9d8da"/><stop offset="0.263" stop-color="#e9c9bf"/><stop offset="0.296" stop-color="#ecb4a4"/><stop offset="0.338" stop-color="#ec9e8e"/><stop offset="0.367" stop-color="#eb9383"/><stop offset="0.388" stop-color="#eb9585"/><stop offset="0.412" stop-color="#eda696"/><stop offset="0.438" stop-color="#ecb9a9"/><stop offset="0.458" stop-color="#ecbfaf"/><stop offset="0.512" stop-color="#ecbaaa"/><stop offset="0.613" stop-color="#ecbbab"/><stop offset="0.633" stop-color="#ebc2b4"/><stop offset="0.654" stop-color="#e7ccc4"/><stop offset="0.679" stop-color="#d9d8da"/><stop offset="0.713" stop-color="#c1cce3"/><stop offset="0.742" stop-color="#b3c4e5"/><stop offset="0.783" stop-color="#a8bce3"/><stop offset="0.887" stop-color="#a4b9e1"/><stop offset="1.000" stop-color="#a4b9e1"/></linearGradient><linearGradient id="gd6" gradientUnits="userSpaceOnUse" x1="1851.6" y1="0" x2="2589.3" y2="0"><stop offset="0.000" stop-color="#b5c5e5"/><stop offset="0.096" stop-color="#bac9e6"/><stop offset="0.150" stop-color="#c7d0e1"/><stop offset="0.188" stop-color="#dbd7d8"/><stop offset="0.221" stop-color="#e9c6ba"/><stop offset="0.246" stop-color="#edb1a1"/><stop offset="0.283" stop-color="#ea8f80"/><stop offset="0.312" stop-color="#e27b6e"/><stop offset="0.354" stop-color="#db6960"/><stop offset="0.375" stop-color="#d9655e"/><stop offset="0.392" stop-color="#dc6b61"/><stop offset="0.412" stop-color="#e27b6e"/><stop offset="0.442" stop-color="#eb9383"/><stop offset="0.462" stop-color="#eb9787"/><stop offset="0.508" stop-color="#eb9383"/><stop offset="0.613" stop-color="#eb9383"/><stop offset="0.637" stop-color="#ec9f8f"/><stop offset="0.671" stop-color="#ecbdad"/><stop offset="0.692" stop-color="#e7ccc4"/><stop offset="0.713" stop-color="#dbd7d8"/><stop offset="0.750" stop-color="#c5cee2"/><stop offset="0.796" stop-color="#b9c8e6"/><stop offset="0.896" stop-color="#b5c5e5"/><stop offset="1.000" stop-color="#b5c5e5"/></linearGradient><linearGradient id="gd7" gradientUnits="userSpaceOnUse" x1="1851.6" y1="0" x2="2589.3" y2="0"><stop offset="0.000" stop-color="#c6cfe2"/><stop offset="0.087" stop-color="#cbd1e0"/><stop offset="0.133" stop-color="#d7d7db"/><stop offset="0.146" stop-color="#dbd7d8"/><stop offset="0.179" stop-color="#e8cac1"/><stop offset="0.204" stop-color="#ecb8a8"/><stop offset="0.242" stop-color="#ea9182"/><stop offset="0.267" stop-color="#e1796c"/><stop offset="0.292" stop-color="#d8645d"/><stop offset="0.317" stop-color="#d05453"/><stop offset="0.367" stop-color="#c24246"/><stop offset="0.388" stop-color="#c64649"/><stop offset="0.412" stop-color="#d35857"/><stop offset="0.438" stop-color="#de7165"/><stop offset="0.458" stop-color="#e1786b"/><stop offset="0.521" stop-color="#df7467"/><stop offset="0.613" stop-color="#e07468"/><stop offset="0.637" stop-color="#e47f72"/><stop offset="0.667" stop-color="#ec9a8a"/><stop offset="0.704" stop-color="#ebc1b3"/><stop offset="0.725" stop-color="#e4cfc9"/><stop offset="0.750" stop-color="#dad8da"/><stop offset="0.787" stop-color="#ccd2df"/><stop offset="0.846" stop-color="#c6cfe2"/><stop offset="1.000" stop-color="#c5cfe2"/></linearGradient><linearGradient id="gd8" gradientUnits="userSpaceOnUse" x1="1851.6" y1="0" x2="2589.3" y2="0"><stop offset="0.000" stop-color="#d6d6dc"/><stop offset="0.083" stop-color="#dbd7d9"/><stop offset="0.129" stop-color="#e3d0ca"/><stop offset="0.158" stop-color="#eac5b8"/><stop offset="0.179" stop-color="#ecb6a6"/><stop offset="0.217" stop-color="#ea9081"/><stop offset="0.250" stop-color="#dd6d62"/><stop offset="0.275" stop-color="#d05453"/><stop offset="0.321" stop-color="#b5333c"/><stop offset="0.362" stop-color="#a3212e"/><stop offset="0.379" stop-color="#a4222f"/><stop offset="0.396" stop-color="#af2d37"/><stop offset="0.425" stop-color="#cb4c4e"/><stop offset="0.446" stop-color="#d45b58"/><stop offset="0.467" stop-color="#d65e5a"/><stop offset="0.508" stop-color="#d45a58"/><stop offset="0.613" stop-color="#d45b58"/><stop offset="0.637" stop-color="#da6860"/><stop offset="0.658" stop-color="#e1796d"/><stop offset="0.688" stop-color="#ec9989"/><stop offset="0.721" stop-color="#ecbdad"/><stop offset="0.750" stop-color="#e6cdc6"/><stop offset="0.783" stop-color="#ddd5d5"/><stop offset="0.817" stop-color="#d8d7db"/><stop offset="0.963" stop-color="#d5d6dc"/><stop offset="1.000" stop-color="#d5d6dc"/></linearGradient><linearGradient id="gd9" gradientUnits="userSpaceOnUse" x1="1851.6" y1="0" x2="2589.3" y2="0"><stop offset="0.000" stop-color="#e0d2cf"/><stop offset="0.079" stop-color="#e4cfc9"/><stop offset="0.117" stop-color="#e9c9be"/><stop offset="0.150" stop-color="#ecbaaa"/><stop offset="0.188" stop-color="#ec9a8a"/><stop offset="0.225" stop-color="#df7266"/><stop offset="0.254" stop-color="#ce5151"/><stop offset="0.287" stop-color="#b3313a"/><stop offset="0.308" stop-color="#a2212e"/><stop offset="0.404" stop-color="#a2202d"/><stop offset="0.408" stop-color="#a4222f"/><stop offset="0.429" stop-color="#bd3c42"/><stop offset="0.446" stop-color="#c9494c"/><stop offset="0.467" stop-color="#cb4c4e"/><stop offset="0.517" stop-color="#c8494b"/><stop offset="0.613" stop-color="#c94a4c"/><stop offset="0.637" stop-color="#d05554"/><stop offset="0.654" stop-color="#d8635d"/><stop offset="0.675" stop-color="#e1786c"/><stop offset="0.704" stop-color="#ec9989"/><stop offset="0.738" stop-color="#ecbaaa"/><stop offset="0.767" stop-color="#e9c8be"/><stop offset="0.804" stop-color="#e3d0ca"/><stop offset="0.879" stop-color="#e0d2d0"/><stop offset="1.000" stop-color="#e0d3d0"/></linearGradient><linearGradient id="gd10" gradientUnits="userSpaceOnUse" x1="1851.6" y1="0" x2="2589.3" y2="0"><stop offset="0.000" stop-color="#e7ccc3"/><stop offset="0.071" stop-color="#e9c8be"/><stop offset="0.113" stop-color="#ebc0b1"/><stop offset="0.142" stop-color="#edb2a2"/><stop offset="0.175" stop-color="#eb9787"/><stop offset="0.217" stop-color="#db6a61"/><stop offset="0.242" stop-color="#cb4d4f"/><stop offset="0.279" stop-color="#a52330"/><stop offset="0.287" stop-color="#a1202d"/><stop offset="0.421" stop-color="#a3212e"/><stop offset="0.438" stop-color="#b5333b"/><stop offset="0.454" stop-color="#bd3c42"/><stop offset="0.542" stop-color="#bb3940"/><stop offset="0.613" stop-color="#bc3b41"/><stop offset="0.637" stop-color="#c8484b"/><stop offset="0.662" stop-color="#d55c59"/><stop offset="0.683" stop-color="#e07468"/><stop offset="0.717" stop-color="#ec9989"/><stop offset="0.750" stop-color="#ecb6a6"/><stop offset="0.775" stop-color="#ebc2b4"/><stop offset="0.812" stop-color="#e9c9bf"/><stop offset="0.892" stop-color="#e7ccc4"/><stop offset="1.000" stop-color="#e7ccc4"/></linearGradient><linearGradient id="gd11" gradientUnits="userSpaceOnUse" x1="1851.6" y1="0" x2="2589.3" y2="0"><stop offset="0.000" stop-color="#eac5b9"/><stop offset="0.071" stop-color="#ebc1b3"/><stop offset="0.108" stop-color="#ecb8a8"/><stop offset="0.146" stop-color="#eda494"/><stop offset="0.171" stop-color="#ea8f80"/><stop offset="0.208" stop-color="#da675f"/><stop offset="0.237" stop-color="#c64549"/><stop offset="0.267" stop-color="#a3212e"/><stop offset="0.292" stop-color="#a1202d"/><stop offset="0.429" stop-color="#a2202d"/><stop offset="0.450" stop-color="#b12f38"/><stop offset="0.471" stop-color="#b3313a"/><stop offset="0.508" stop-color="#b02e37"/><stop offset="0.608" stop-color="#b02e38"/><stop offset="0.633" stop-color="#bb3a40"/><stop offset="0.671" stop-color="#d45a58"/><stop offset="0.696" stop-color="#e1786b"/><stop offset="0.725" stop-color="#eb9787"/><stop offset="0.758" stop-color="#edb1a1"/><stop offset="0.787" stop-color="#ecbeae"/><stop offset="0.833" stop-color="#eac4b7"/><stop offset="1.000" stop-color="#eac6ba"/></linearGradient><linearGradient id="gd12" gradientUnits="userSpaceOnUse" x1="1851.6" y1="0" x2="2589.3" y2="0"><stop offset="0.000" stop-color="#ebc0b2"/><stop offset="0.071" stop-color="#ecbcac"/><stop offset="0.113" stop-color="#edb0a0"/><stop offset="0.150" stop-color="#ec9a8a"/><stop offset="0.175" stop-color="#e58275"/><stop offset="0.200" stop-color="#db6960"/><stop offset="0.229" stop-color="#c7464a"/><stop offset="0.258" stop-color="#a3212e"/><stop offset="0.312" stop-color="#a1202d"/><stop offset="0.438" stop-color="#a2202d"/><stop offset="0.458" stop-color="#ab2934"/><stop offset="0.517" stop-color="#a72531"/><stop offset="0.608" stop-color="#a82632"/><stop offset="0.629" stop-color="#b12f39"/><stop offset="0.667" stop-color="#ce5051"/><stop offset="0.700" stop-color="#e0766a"/><stop offset="0.733" stop-color="#ec9888"/><stop offset="0.767" stop-color="#edaf9f"/><stop offset="0.804" stop-color="#ecbcac"/><stop offset="0.867" stop-color="#ebc1b2"/><stop offset="1.000" stop-color="#ebc1b3"/></linearGradient><linearGradient id="gd13" gradientUnits="userSpaceOnUse" x1="1851.6" y1="0" x2="2589.3" y2="0"><stop offset="0.000" stop-color="#ecbeae"/><stop offset="0.071" stop-color="#ecb9a9"/><stop offset="0.113" stop-color="#edac9c"/><stop offset="0.146" stop-color="#ec9989"/><stop offset="0.183" stop-color="#e0766a"/><stop offset="0.217" stop-color="#cd5051"/><stop offset="0.233" stop-color="#bd3c42"/><stop offset="0.254" stop-color="#a3212e"/><stop offset="0.446" stop-color="#a2212e"/><stop offset="0.467" stop-color="#a62430"/><stop offset="0.508" stop-color="#a3212e"/><stop offset="0.613" stop-color="#a5232f"/><stop offset="0.633" stop-color="#b02e37"/><stop offset="0.671" stop-color="#ce5152"/><stop offset="0.704" stop-color="#e1776b"/><stop offset="0.738" stop-color="#eb9888"/><stop offset="0.771" stop-color="#edae9e"/><stop offset="0.808" stop-color="#ecbaaa"/><stop offset="0.879" stop-color="#ecbeaf"/><stop offset="1.000" stop-color="#ecbeaf"/></linearGradient><linearGradient id="gd14" gradientUnits="userSpaceOnUse" x1="1851.6" y1="0" x2="2589.3" y2="0"><stop offset="0.000" stop-color="#ecbdad"/><stop offset="0.071" stop-color="#ecb8a8"/><stop offset="0.113" stop-color="#edab9b"/><stop offset="0.146" stop-color="#eb9787"/><stop offset="0.192" stop-color="#dc6c62"/><stop offset="0.221" stop-color="#c94a4c"/><stop offset="0.246" stop-color="#ab2934"/><stop offset="0.250" stop-color="#a5232f"/><stop offset="0.258" stop-color="#a1202d"/><stop offset="0.450" stop-color="#a2212e"/><stop offset="0.475" stop-color="#a4222e"/><stop offset="0.613" stop-color="#a3212e"/><stop offset="0.633" stop-color="#af2d37"/><stop offset="0.671" stop-color="#cd5051"/><stop offset="0.704" stop-color="#e0766a"/><stop offset="0.738" stop-color="#eb9787"/><stop offset="0.771" stop-color="#edad9d"/><stop offset="0.808" stop-color="#ecb9a9"/><stop offset="0.883" stop-color="#ecbdae"/><stop offset="1.000" stop-color="#ecbeae"/></linearGradient><linearGradient id="gd15" gradientUnits="userSpaceOnUse" x1="1851.6" y1="0" x2="2589.3" y2="0"><stop offset="0.000" stop-color="#ecbeae"/><stop offset="0.071" stop-color="#ecb8a8"/><stop offset="0.113" stop-color="#edac9c"/><stop offset="0.146" stop-color="#ec9888"/><stop offset="0.188" stop-color="#df7266"/><stop offset="0.221" stop-color="#ca4a4d"/><stop offset="0.246" stop-color="#ac2a34"/><stop offset="0.254" stop-color="#a2212e"/><stop offset="0.446" stop-color="#a2202d"/><stop offset="0.471" stop-color="#a52330"/><stop offset="0.525" stop-color="#a3212e"/><stop offset="0.613" stop-color="#a5232f"/><stop offset="0.633" stop-color="#b02e37"/><stop offset="0.671" stop-color="#ce5152"/><stop offset="0.704" stop-color="#e1776b"/><stop offset="0.738" stop-color="#eb9888"/><stop offset="0.771" stop-color="#edae9e"/><stop offset="0.808" stop-color="#ecbaaa"/><stop offset="0.879" stop-color="#ecbeaf"/><stop offset="1.000" stop-color="#ecbeaf"/></linearGradient><linearGradient id="gd16" gradientUnits="userSpaceOnUse" x1="1851.6" y1="0" x2="2589.3" y2="0"><stop offset="0.000" stop-color="#ebc0b2"/><stop offset="0.071" stop-color="#ecbcac"/><stop offset="0.113" stop-color="#edb0a0"/><stop offset="0.146" stop-color="#ec9c8c"/><stop offset="0.167" stop-color="#e88a7b"/><stop offset="0.200" stop-color="#da675f"/><stop offset="0.229" stop-color="#c54448"/><stop offset="0.254" stop-color="#a5232f"/><stop offset="0.263" stop-color="#a1202d"/><stop offset="0.442" stop-color="#a2212e"/><stop offset="0.462" stop-color="#aa2833"/><stop offset="0.512" stop-color="#a72531"/><stop offset="0.608" stop-color="#a82632"/><stop offset="0.629" stop-color="#b12f39"/><stop offset="0.667" stop-color="#ce5051"/><stop offset="0.700" stop-color="#e0766a"/><stop offset="0.733" stop-color="#ec9888"/><stop offset="0.767" stop-color="#edaf9f"/><stop offset="0.804" stop-color="#ecbcac"/><stop offset="0.867" stop-color="#ebc1b2"/><stop offset="1.000" stop-color="#ebc1b3"/></linearGradient><linearGradient id="gd17" gradientUnits="userSpaceOnUse" x1="1851.6" y1="0" x2="2589.3" y2="0"><stop offset="0.000" stop-color="#eac5b9"/><stop offset="0.071" stop-color="#ebc1b3"/><stop offset="0.108" stop-color="#ecb8a8"/><stop offset="0.146" stop-color="#eda393"/><stop offset="0.171" stop-color="#e98d7e"/><stop offset="0.208" stop-color="#d9645e"/><stop offset="0.233" stop-color="#c7474a"/><stop offset="0.263" stop-color="#a3212e"/><stop offset="0.283" stop-color="#a1202d"/><stop offset="0.433" stop-color="#a2212e"/><stop offset="0.454" stop-color="#b02e38"/><stop offset="0.600" stop-color="#af2d37"/><stop offset="0.621" stop-color="#b4323b"/><stop offset="0.646" stop-color="#c44448"/><stop offset="0.675" stop-color="#d7605b"/><stop offset="0.696" stop-color="#e1786b"/><stop offset="0.725" stop-color="#eb9787"/><stop offset="0.758" stop-color="#edb1a1"/><stop offset="0.787" stop-color="#ecbeae"/><stop offset="0.833" stop-color="#eac4b7"/><stop offset="1.000" stop-color="#eac6ba"/></linearGradient><linearGradient id="gd18" gradientUnits="userSpaceOnUse" x1="1851.6" y1="0" x2="2589.3" y2="0"><stop offset="0.000" stop-color="#e7ccc3"/><stop offset="0.071" stop-color="#e9c8bd"/><stop offset="0.113" stop-color="#ebbfb0"/><stop offset="0.142" stop-color="#edb0a0"/><stop offset="0.175" stop-color="#eb9585"/><stop offset="0.217" stop-color="#da665f"/><stop offset="0.246" stop-color="#c44448"/><stop offset="0.275" stop-color="#a3212e"/><stop offset="0.321" stop-color="#a1202d"/><stop offset="0.421" stop-color="#a1202d"/><stop offset="0.425" stop-color="#a3212e"/><stop offset="0.442" stop-color="#b5333b"/><stop offset="0.458" stop-color="#bc3a41"/><stop offset="0.525" stop-color="#ba383f"/><stop offset="0.613" stop-color="#bc3b41"/><stop offset="0.637" stop-color="#c8484b"/><stop offset="0.662" stop-color="#d55c59"/><stop offset="0.683" stop-color="#e07468"/><stop offset="0.717" stop-color="#ec9989"/><stop offset="0.750" stop-color="#ecb6a6"/><stop offset="0.775" stop-color="#ebc2b4"/><stop offset="0.812" stop-color="#e9c9bf"/><stop offset="0.892" stop-color="#e7ccc4"/><stop offset="1.000" stop-color="#e7ccc4"/></linearGradient><linearGradient id="gd19" gradientUnits="userSpaceOnUse" x1="1851.6" y1="0" x2="2589.3" y2="0"><stop offset="0.000" stop-color="#e0d2cf"/><stop offset="0.075" stop-color="#e3cfca"/><stop offset="0.117" stop-color="#e9c8bd"/><stop offset="0.150" stop-color="#ecb9a9"/><stop offset="0.188" stop-color="#eb9787"/><stop offset="0.225" stop-color="#dd6d62"/><stop offset="0.250" stop-color="#cd4f50"/><stop offset="0.279" stop-color="#b23039"/><stop offset="0.296" stop-color="#a3212e"/><stop offset="0.408" stop-color="#a1202d"/><stop offset="0.412" stop-color="#a3212e"/><stop offset="0.433" stop-color="#bc3b41"/><stop offset="0.450" stop-color="#c7474a"/><stop offset="0.475" stop-color="#c8494b"/><stop offset="0.533" stop-color="#c8484b"/><stop offset="0.613" stop-color="#c9494c"/><stop offset="0.637" stop-color="#d05554"/><stop offset="0.654" stop-color="#d8625d"/><stop offset="0.675" stop-color="#e1786c"/><stop offset="0.704" stop-color="#ec9989"/><stop offset="0.738" stop-color="#ecbaaa"/><stop offset="0.767" stop-color="#e9c8be"/><stop offset="0.804" stop-color="#e3d0ca"/><stop offset="0.879" stop-color="#e0d2d0"/><stop offset="1.000" stop-color="#e0d3d0"/></linearGradient><linearGradient id="gd20" gradientUnits="userSpaceOnUse" x1="1851.6" y1="0" x2="2589.3" y2="0"><stop offset="0.000" stop-color="#d6d6dc"/><stop offset="0.083" stop-color="#dbd7d8"/><stop offset="0.125" stop-color="#e3d0cb"/><stop offset="0.154" stop-color="#eac5b9"/><stop offset="0.175" stop-color="#ecb7a7"/><stop offset="0.208" stop-color="#eb9585"/><stop offset="0.246" stop-color="#db6a61"/><stop offset="0.267" stop-color="#cf5353"/><stop offset="0.312" stop-color="#af2d37"/><stop offset="0.333" stop-color="#a3212e"/><stop offset="0.388" stop-color="#a2202d"/><stop offset="0.396" stop-color="#a62430"/><stop offset="0.425" stop-color="#c7474a"/><stop offset="0.446" stop-color="#d25655"/><stop offset="0.467" stop-color="#d45a58"/><stop offset="0.525" stop-color="#d35857"/><stop offset="0.613" stop-color="#d45a58"/><stop offset="0.637" stop-color="#da6860"/><stop offset="0.658" stop-color="#e1796d"/><stop offset="0.688" stop-color="#ec9989"/><stop offset="0.721" stop-color="#ecbdad"/><stop offset="0.750" stop-color="#e6cdc6"/><stop offset="0.783" stop-color="#ddd5d5"/><stop offset="0.817" stop-color="#d8d7db"/><stop offset="0.963" stop-color="#d5d6dc"/><stop offset="1.000" stop-color="#d5d6dc"/></linearGradient><linearGradient id="gd21" gradientUnits="userSpaceOnUse" x1="1851.6" y1="0" x2="2589.3" y2="0"><stop offset="0.000" stop-color="#c6cfe2"/><stop offset="0.083" stop-color="#cad1e0"/><stop offset="0.129" stop-color="#d6d6db"/><stop offset="0.142" stop-color="#dbd7d8"/><stop offset="0.175" stop-color="#e8cbc1"/><stop offset="0.200" stop-color="#ecb8a8"/><stop offset="0.233" stop-color="#eb9383"/><stop offset="0.258" stop-color="#e1786b"/><stop offset="0.279" stop-color="#d8635d"/><stop offset="0.304" stop-color="#cd5051"/><stop offset="0.354" stop-color="#ba383f"/><stop offset="0.375" stop-color="#b8363e"/><stop offset="0.392" stop-color="#bf3e44"/><stop offset="0.429" stop-color="#d8635d"/><stop offset="0.446" stop-color="#de7064"/><stop offset="0.467" stop-color="#df7468"/><stop offset="0.521" stop-color="#df7266"/><stop offset="0.613" stop-color="#e07468"/><stop offset="0.637" stop-color="#e47f72"/><stop offset="0.667" stop-color="#ec9a8a"/><stop offset="0.704" stop-color="#ebc1b3"/><stop offset="0.725" stop-color="#e4cfc9"/><stop offset="0.750" stop-color="#dad8da"/><stop offset="0.787" stop-color="#ccd2df"/><stop offset="0.846" stop-color="#c6cfe2"/><stop offset="1.000" stop-color="#c5cfe2"/></linearGradient><linearGradient id="gd22" gradientUnits="userSpaceOnUse" x1="1851.6" y1="0" x2="2589.3" y2="0"><stop offset="0.000" stop-color="#b5c5e5"/><stop offset="0.096" stop-color="#bbc9e5"/><stop offset="0.146" stop-color="#c7d0e1"/><stop offset="0.179" stop-color="#dad8da"/><stop offset="0.212" stop-color="#e9c7bc"/><stop offset="0.233" stop-color="#ecb5a5"/><stop offset="0.267" stop-color="#eb9383"/><stop offset="0.292" stop-color="#e37c6f"/><stop offset="0.321" stop-color="#db6a61"/><stop offset="0.358" stop-color="#d45958"/><stop offset="0.379" stop-color="#d35957"/><stop offset="0.396" stop-color="#d8625d"/><stop offset="0.417" stop-color="#e0766a"/><stop offset="0.442" stop-color="#e88c7d"/><stop offset="0.462" stop-color="#eb9282"/><stop offset="0.512" stop-color="#ea9081"/><stop offset="0.613" stop-color="#eb9383"/><stop offset="0.637" stop-color="#ec9f8f"/><stop offset="0.671" stop-color="#ecbdad"/><stop offset="0.692" stop-color="#e7ccc4"/><stop offset="0.717" stop-color="#d8d7db"/><stop offset="0.750" stop-color="#c5cee2"/><stop offset="0.796" stop-color="#b9c8e6"/><stop offset="0.896" stop-color="#b5c5e5"/><stop offset="1.000" stop-color="#b5c5e5"/></linearGradient><linearGradient id="gd23" gradientUnits="userSpaceOnUse" x1="1851.6" y1="0" x2="2589.3" y2="0"><stop offset="0.000" stop-color="#a4b9e1"/><stop offset="0.108" stop-color="#a9bde3"/><stop offset="0.158" stop-color="#b5c6e6"/><stop offset="0.200" stop-color="#cad1e0"/><stop offset="0.221" stop-color="#d9d8da"/><stop offset="0.254" stop-color="#e9c7bc"/><stop offset="0.287" stop-color="#edad9d"/><stop offset="0.325" stop-color="#eb9585"/><stop offset="0.362" stop-color="#e68577"/><stop offset="0.383" stop-color="#e68678"/><stop offset="0.404" stop-color="#eb9484"/><stop offset="0.438" stop-color="#edb2a2"/><stop offset="0.458" stop-color="#ecbaaa"/><stop offset="0.525" stop-color="#ecb8a8"/><stop offset="0.613" stop-color="#ecbaaa"/><stop offset="0.633" stop-color="#ebc2b4"/><stop offset="0.654" stop-color="#e7ccc4"/><stop offset="0.679" stop-color="#d9d8da"/><stop offset="0.713" stop-color="#c1cce3"/><stop offset="0.742" stop-color="#b3c4e5"/><stop offset="0.783" stop-color="#a8bce3"/><stop offset="0.887" stop-color="#a4b9e1"/><stop offset="1.000" stop-color="#a4b9e1"/></linearGradient><linearGradient id="gd24" gradientUnits="userSpaceOnUse" x1="1851.6" y1="0" x2="2589.3" y2="0"><stop offset="0.000" stop-color="#8fa8da"/><stop offset="0.104" stop-color="#95acdc"/><stop offset="0.175" stop-color="#a3b8e1"/><stop offset="0.212" stop-color="#b2c3e5"/><stop offset="0.237" stop-color="#bfcbe4"/><stop offset="0.279" stop-color="#dad8da"/><stop offset="0.325" stop-color="#e9c9bf"/><stop offset="0.367" stop-color="#ecbdad"/><stop offset="0.388" stop-color="#ebbfb0"/><stop offset="0.412" stop-color="#e8cbc3"/><stop offset="0.442" stop-color="#dcd6d7"/><stop offset="0.462" stop-color="#d9d7da"/><stop offset="0.588" stop-color="#d9d8da"/><stop offset="0.621" stop-color="#d6d6db"/><stop offset="0.662" stop-color="#c2cde3"/><stop offset="0.688" stop-color="#b4c5e5"/><stop offset="0.725" stop-color="#a3b8e0"/><stop offset="0.783" stop-color="#94acdc"/><stop offset="0.871" stop-color="#8fa7da"/><stop offset="1.000" stop-color="#8fa7d9"/></linearGradient><linearGradient id="gd25" gradientUnits="userSpaceOnUse" x1="1851.6" y1="0" x2="2589.3" y2="0"><stop offset="0.000" stop-color="#758ecb"/><stop offset="0.117" stop-color="#7992ce"/><stop offset="0.171" stop-color="#849dd4"/><stop offset="0.233" stop-color="#9cb2de"/><stop offset="0.296" stop-color="#b2c4e5"/><stop offset="0.346" stop-color="#c1cce3"/><stop offset="0.379" stop-color="#c6cfe2"/><stop offset="0.408" stop-color="#becae4"/><stop offset="0.446" stop-color="#afc2e5"/><stop offset="0.617" stop-color="#adc0e4"/><stop offset="0.675" stop-color="#9cb3de"/><stop offset="0.742" stop-color="#8099d2"/><stop offset="0.796" stop-color="#7790cc"/><stop offset="1.000" stop-color="#748dca"/></linearGradient><linearGradient id="gd26" gradientUnits="userSpaceOnUse" x1="1851.6" y1="0" x2="2589.3" y2="0"><stop offset="0.000" stop-color="#5c73ba"/><stop offset="0.133" stop-color="#6077bd"/><stop offset="0.212" stop-color="#6c85c5"/><stop offset="0.346" stop-color="#90a8da"/><stop offset="0.383" stop-color="#94acdc"/><stop offset="0.450" stop-color="#839cd3"/><stop offset="0.621" stop-color="#819ad2"/><stop offset="0.733" stop-color="#647cbf"/><stop offset="0.808" stop-color="#5d74bb"/><stop offset="1.000" stop-color="#5c73ba"/></linearGradient><linearGradient id="gd27" gradientUnits="userSpaceOnUse" x1="1851.6" y1="0" x2="2589.3" y2="0"><stop offset="0.000" stop-color="#4959a8"/><stop offset="0.179" stop-color="#4c5dab"/><stop offset="0.379" stop-color="#5b71b9"/><stop offset="0.471" stop-color="#566bb5"/><stop offset="0.633" stop-color="#5569b4"/><stop offset="0.758" stop-color="#4a5ba9"/><stop offset="1.000" stop-color="#4959a8"/></linearGradient><clipPath id="cld"><rect x="1841.8" y="747.1" width="757.2" height="251.5" rx="8.3"/></clipPath></defs>
<g fill="none" stroke-width="19.50" stroke-linejoin="round" clip-path="url(#cld)"><path d="M1839.8,988.8 1851.6,988.8 1867,988.8 1882.3,988.8 1897.7,988.8 1913.1,988.8 1928.4,988.8 1943.8,988.8 1959.2,988.8 1974.5,988.7 1989.9,988.5 2005.3,988.2 2020.7,987.7 2036,986.9 2051.4,985.6 2066.8,983.7 2082.1,981 2097.5,977.5 2112.9,973.1 2128.2,968 2143.6,962.4 2159,956.7 2174.3,951.4 2189.7,947.2 2205.1,944.4 2220.4,943.4 2235.8,944.4 2251.2,947.2 2266.6,951.4 2281.9,956.7 2297.3,962.4 2312.7,968 2328,973.1 2343.4,977.5 2358.8,981 2374.1,983.7 2389.5,985.6 2404.9,986.9 2420.2,987.7 2435.6,988.2 2451,988.5 2466.4,988.7 2481.7,988.8 2497.1,988.8 2512.5,988.8 2527.8,988.8 2543.2,988.8 2558.6,988.8 2573.9,988.8 2589.3,988.8 2601.1,988.8" stroke="#404ca0"/>
<path d="M1839.8,980.6 1851.6,980.6 1867,980.6 1882.3,980.6 1897.7,980.6 1913.1,980.6 1928.4,980.5 1943.8,980.5 1959.2,980.5 1974.5,980.4 1989.9,980.2 2005.3,980 2020.7,979.5 2036,978.7 2051.4,977.5 2066.8,975.7 2082.1,973.3 2097.5,970 2112.9,966 2128.2,961.2 2143.6,956 2159,950.7 2174.3,945.8 2189.7,941.9 2205.1,939.2 2220.4,938.3 2235.8,939.2 2251.2,941.9 2266.6,945.8 2281.9,950.7 2297.3,956 2312.7,961.2 2328,966 2343.4,970 2358.8,973.3 2374.1,975.7 2389.5,977.5 2404.9,978.7 2420.2,979.5 2435.6,980 2451,980.2 2466.4,980.4 2481.7,980.5 2497.1,980.5 2512.5,980.5 2527.8,980.6 2543.2,980.6 2558.6,980.6 2573.9,980.6 2589.3,980.6 2601.1,980.6" stroke="url(#gd1)"/>
<path d="M1839.8,972.3 1851.6,972.3 1867,972.3 1882.3,972.3 1897.7,972.3 1913.1,972.3 1928.4,972.3 1943.8,972.2 1959.2,972.2 1974.5,972.1 1989.9,972 2005.3,971.7 2020.7,971.3 2036,970.6 2051.4,969.5 2066.8,967.8 2082.1,965.6 2097.5,962.6 2112.9,958.8 2128.2,954.4 2143.6,949.6 2159,944.7 2174.3,940.2 2189.7,936.5 2205.1,934.1 2220.4,933.3 2235.8,934.1 2251.2,936.5 2266.6,940.2 2281.9,944.7 2297.3,949.6 2312.7,954.4 2328,958.8 2343.4,962.6 2358.8,965.6 2374.1,967.8 2389.5,969.5 2404.9,970.6 2420.2,971.3 2435.6,971.7 2451,972 2466.4,972.1 2481.7,972.2 2497.1,972.2 2512.5,972.3 2527.8,972.3 2543.2,972.3 2558.6,972.3 2573.9,972.3 2589.3,972.3 2601.1,972.3" stroke="url(#gd2)"/>
<path d="M1839.8,964 1851.6,964 1867,964 1882.3,964 1897.7,964 1913.1,964 1928.4,964 1943.8,964 1959.2,963.9 1974.5,963.9 1989.9,963.7 2005.3,963.5 2020.7,963.1 2036,962.4 2051.4,961.4 2066.8,959.9 2082.1,957.8 2097.5,955.1 2112.9,951.7 2128.2,947.6 2143.6,943.2 2159,938.7 2174.3,934.6 2189.7,931.2 2205.1,929 2220.4,928.3 2235.8,929 2251.2,931.2 2266.6,934.6 2281.9,938.7 2297.3,943.2 2312.7,947.6 2328,951.7 2343.4,955.1 2358.8,957.8 2374.1,959.9 2389.5,961.4 2404.9,962.4 2420.2,963.1 2435.6,963.5 2451,963.7 2466.4,963.9 2481.7,963.9 2497.1,964 2512.5,964 2527.8,964 2543.2,964 2558.6,964 2573.9,964 2589.3,964 2601.1,964" stroke="url(#gd3)"/>
<path d="M1839.8,955.7 1851.6,955.7 1867,955.7 1882.3,955.7 1897.7,955.7 1913.1,955.7 1928.4,955.7 1943.8,955.7 1959.2,955.6 1974.5,955.6 1989.9,955.5 2005.3,955.2 2020.7,954.9 2036,954.3 2051.4,953.4 2066.8,952 2082.1,950.1 2097.5,947.6 2112.9,944.5 2128.2,940.8 2143.6,936.8 2159,932.8 2174.3,929 2189.7,925.9 2205.1,923.9 2220.4,923.2 2235.8,923.9 2251.2,925.9 2266.6,929 2281.9,932.8 2297.3,936.8 2312.7,940.8 2328,944.5 2343.4,947.6 2358.8,950.1 2374.1,952 2389.5,953.4 2404.9,954.3 2420.2,954.9 2435.6,955.2 2451,955.5 2466.4,955.6 2481.7,955.6 2497.1,955.7 2512.5,955.7 2527.8,955.7 2543.2,955.7 2558.6,955.7 2573.9,955.7 2589.3,955.7 2601.1,955.7" stroke="url(#gd4)"/>
<path d="M1839.8,947.4 1851.6,947.4 1867,947.4 1882.3,947.4 1897.7,947.4 1913.1,947.4 1928.4,947.4 1943.8,947.4 1959.2,947.4 1974.5,947.3 1989.9,947.2 2005.3,947 2020.7,946.7 2036,946.1 2051.4,945.3 2066.8,944.1 2082.1,942.4 2097.5,940.1 2112.9,937.3 2128.2,934 2143.6,930.4 2159,926.8 2174.3,923.4 2189.7,920.6 2205.1,918.8 2220.4,918.2 2235.8,918.8 2251.2,920.6 2266.6,923.4 2281.9,926.8 2297.3,930.4 2312.7,934 2328,937.3 2343.4,940.1 2358.8,942.4 2374.1,944.1 2389.5,945.3 2404.9,946.1 2420.2,946.7 2435.6,947 2451,947.2 2466.4,947.3 2481.7,947.4 2497.1,947.4 2512.5,947.4 2527.8,947.4 2543.2,947.4 2558.6,947.4 2573.9,947.4 2589.3,947.4 2601.1,947.4" stroke="url(#gd5)"/>
<path d="M1839.8,939.1 1851.6,939.1 1867,939.1 1882.3,939.1 1897.7,939.1 1913.1,939.1 1928.4,939.1 1943.8,939.1 1959.2,939.1 1974.5,939 1989.9,938.9 2005.3,938.8 2020.7,938.5 2036,938 2051.4,937.3 2066.8,936.2 2082.1,934.7 2097.5,932.7 2112.9,930.2 2128.2,927.2 2143.6,924 2159,920.8 2174.3,917.8 2189.7,915.3 2205.1,913.7 2220.4,913.2 2235.8,913.7 2251.2,915.3 2266.6,917.8 2281.9,920.8 2297.3,924 2312.7,927.2 2328,930.2 2343.4,932.7 2358.8,934.7 2374.1,936.2 2389.5,937.3 2404.9,938 2420.2,938.5 2435.6,938.8 2451,938.9 2466.4,939 2481.7,939.1 2497.1,939.1 2512.5,939.1 2527.8,939.1 2543.2,939.1 2558.6,939.1 2573.9,939.1 2589.3,939.1 2601.1,939.1" stroke="url(#gd6)"/>
<path d="M1839.8,930.8 1851.6,930.8 1867,930.8 1882.3,930.8 1897.7,930.8 1913.1,930.8 1928.4,930.8 1943.8,930.8 1959.2,930.8 1974.5,930.8 1989.9,930.7 2005.3,930.5 2020.7,930.3 2036,929.9 2051.4,929.2 2066.8,928.3 2082.1,926.9 2097.5,925.2 2112.9,923 2128.2,920.4 2143.6,917.6 2159,914.8 2174.3,912.1 2189.7,910 2205.1,908.6 2220.4,908.1 2235.8,908.6 2251.2,910 2266.6,912.1 2281.9,914.8 2297.3,917.6 2312.7,920.4 2328,923 2343.4,925.2 2358.8,926.9 2374.1,928.3 2389.5,929.2 2404.9,929.9 2420.2,930.3 2435.6,930.5 2451,930.7 2466.4,930.8 2481.7,930.8 2497.1,930.8 2512.5,930.8 2527.8,930.8 2543.2,930.8 2558.6,930.8 2573.9,930.8 2589.3,930.8 2601.1,930.8" stroke="url(#gd7)"/>
<path d="M1839.8,922.6 1851.6,922.6 1867,922.6 1882.3,922.6 1897.7,922.6 1913.1,922.6 1928.4,922.6 1943.8,922.5 1959.2,922.5 1974.5,922.5 1989.9,922.4 2005.3,922.3 2020.7,922.1 2036,921.7 2051.4,921.2 2066.8,920.3 2082.1,919.2 2097.5,917.7 2112.9,915.8 2128.2,913.6 2143.6,911.2 2159,908.8 2174.3,906.5 2189.7,904.7 2205.1,903.5 2220.4,903.1 2235.8,903.5 2251.2,904.7 2266.6,906.5 2281.9,908.8 2297.3,911.2 2312.7,913.6 2328,915.8 2343.4,917.7 2358.8,919.2 2374.1,920.3 2389.5,921.2 2404.9,921.7 2420.2,922.1 2435.6,922.3 2451,922.4 2466.4,922.5 2481.7,922.5 2497.1,922.5 2512.5,922.6 2527.8,922.6 2543.2,922.6 2558.6,922.6 2573.9,922.6 2589.3,922.6 2601.1,922.6" stroke="url(#gd8)"/>
<path d="M1839.8,914.3 1851.6,914.3 1867,914.3 1882.3,914.3 1897.7,914.3 1913.1,914.3 1928.4,914.3 1943.8,914.3 1959.2,914.2 1974.5,914.2 1989.9,914.2 2005.3,914 2020.7,913.9 2036,913.6 2051.4,913.1 2066.8,912.4 2082.1,911.5 2097.5,910.2 2112.9,908.7 2128.2,906.8 2143.6,904.8 2159,902.8 2174.3,900.9 2189.7,899.4 2205.1,898.4 2220.4,898 2235.8,898.4 2251.2,899.4 2266.6,900.9 2281.9,902.8 2297.3,904.8 2312.7,906.8 2328,908.7 2343.4,910.2 2358.8,911.5 2374.1,912.4 2389.5,913.1 2404.9,913.6 2420.2,913.9 2435.6,914 2451,914.2 2466.4,914.2 2481.7,914.2 2497.1,914.3 2512.5,914.3 2527.8,914.3 2543.2,914.3 2558.6,914.3 2573.9,914.3 2589.3,914.3 2601.1,914.3" stroke="url(#gd9)"/>
<path d="M1839.8,906 1851.6,906 1867,906 1882.3,906 1897.7,906 1913.1,906 1928.4,906 1943.8,906 1959.2,906 1974.5,905.9 1989.9,905.9 2005.3,905.8 2020.7,905.7 2036,905.4 2051.4,905.1 2066.8,904.5 2082.1,903.8 2097.5,902.8 2112.9,901.5 2128.2,900 2143.6,898.4 2159,896.8 2174.3,895.3 2189.7,894.1 2205.1,893.3 2220.4,893 2235.8,893.3 2251.2,894.1 2266.6,895.3 2281.9,896.8 2297.3,898.4 2312.7,900 2328,901.5 2343.4,902.8 2358.8,903.8 2374.1,904.5 2389.5,905.1 2404.9,905.4 2420.2,905.7 2435.6,905.8 2451,905.9 2466.4,905.9 2481.7,906 2497.1,906 2512.5,906 2527.8,906 2543.2,906 2558.6,906 2573.9,906 2589.3,906 2601.1,906" stroke="url(#gd10)"/>
<path d="M1839.8,897.7 1851.6,897.7 1867,897.7 1882.3,897.7 1897.7,897.7 1913.1,897.7 1928.4,897.7 1943.8,897.7 1959.2,897.7 1974.5,897.7 1989.9,897.6 2005.3,897.6 2020.7,897.5 2036,897.3 2051.4,897 2066.8,896.6 2082.1,896 2097.5,895.3 2112.9,894.3 2128.2,893.2 2143.6,892 2159,890.8 2174.3,889.7 2189.7,888.8 2205.1,888.2 2220.4,888 2235.8,888.2 2251.2,888.8 2266.6,889.7 2281.9,890.8 2297.3,892 2312.7,893.2 2328,894.3 2343.4,895.3 2358.8,896 2374.1,896.6 2389.5,897 2404.9,897.3 2420.2,897.5 2435.6,897.6 2451,897.6 2466.4,897.7 2481.7,897.7 2497.1,897.7 2512.5,897.7 2527.8,897.7 2543.2,897.7 2558.6,897.7 2573.9,897.7 2589.3,897.7 2601.1,897.7" stroke="url(#gd11)"/>
<path d="M1839.8,889.4 1851.6,889.4 1867,889.4 1882.3,889.4 1897.7,889.4 1913.1,889.4 1928.4,889.4 1943.8,889.4 1959.2,889.4 1974.5,889.4 1989.9,889.4 2005.3,889.3 2020.7,889.3 2036,889.1 2051.4,889 2066.8,888.7 2082.1,888.3 2097.5,887.8 2112.9,887.2 2128.2,886.4 2143.6,885.6 2159,884.8 2174.3,884.1 2189.7,883.5 2205.1,883.1 2220.4,882.9 2235.8,883.1 2251.2,883.5 2266.6,884.1 2281.9,884.8 2297.3,885.6 2312.7,886.4 2328,887.2 2343.4,887.8 2358.8,888.3 2374.1,888.7 2389.5,889 2404.9,889.1 2420.2,889.3 2435.6,889.3 2451,889.4 2466.4,889.4 2481.7,889.4 2497.1,889.4 2512.5,889.4 2527.8,889.4 2543.2,889.4 2558.6,889.4 2573.9,889.4 2589.3,889.4 2601.1,889.4" stroke="url(#gd12)"/>
<path d="M1839.8,881.1 1851.6,881.1 1867,881.1 1882.3,881.1 1897.7,881.1 1913.1,881.1 1928.4,881.1 1943.8,881.1 1959.2,881.1 1974.5,881.1 1989.9,881.1 2005.3,881.1 2020.7,881.1 2036,881 2051.4,880.9 2066.8,880.8 2082.1,880.6 2097.5,880.3 2112.9,880 2128.2,879.6 2143.6,879.2 2159,878.8 2174.3,878.5 2189.7,878.2 2205.1,878 2220.4,877.9 2235.8,878 2251.2,878.2 2266.6,878.5 2281.9,878.8 2297.3,879.2 2312.7,879.6 2328,880 2343.4,880.3 2358.8,880.6 2374.1,880.8 2389.5,880.9 2404.9,881 2420.2,881.1 2435.6,881.1 2451,881.1 2466.4,881.1 2481.7,881.1 2497.1,881.1 2512.5,881.1 2527.8,881.1 2543.2,881.1 2558.6,881.1 2573.9,881.1 2589.3,881.1 2601.1,881.1" stroke="url(#gd13)"/>
<path d="M1839.8,872.8 1851.6,872.8 1867,872.8 1882.3,872.8 1897.7,872.8 1913.1,872.8 1928.4,872.8 1943.8,872.8 1959.2,872.8 1974.5,872.8 1989.9,872.8 2005.3,872.8 2020.7,872.8 2036,872.8 2051.4,872.8 2066.8,872.8 2082.1,872.8 2097.5,872.8 2112.9,872.8 2128.2,872.8 2143.6,872.8 2159,872.8 2174.3,872.8 2189.7,872.8 2205.1,872.8 2220.4,872.8 2235.8,872.8 2251.2,872.8 2266.6,872.8 2281.9,872.8 2297.3,872.8 2312.7,872.8 2328,872.8 2343.4,872.8 2358.8,872.8 2374.1,872.8 2389.5,872.8 2404.9,872.8 2420.2,872.8 2435.6,872.8 2451,872.8 2466.4,872.8 2481.7,872.8 2497.1,872.8 2512.5,872.8 2527.8,872.8 2543.2,872.8 2558.6,872.8 2573.9,872.8 2589.3,872.8 2601.1,872.8" stroke="url(#gd14)"/>
<path d="M1839.8,864.6 1851.6,864.6 1867,864.6 1882.3,864.6 1897.7,864.6 1913.1,864.6 1928.4,864.6 1943.8,864.6 1959.2,864.6 1974.5,864.6 1989.9,864.6 2005.3,864.6 2020.7,864.6 2036,864.7 2051.4,864.8 2066.8,864.9 2082.1,865.1 2097.5,865.4 2112.9,865.7 2128.2,866.1 2143.6,866.5 2159,866.9 2174.3,867.2 2189.7,867.5 2205.1,867.7 2220.4,867.8 2235.8,867.7 2251.2,867.5 2266.6,867.2 2281.9,866.9 2297.3,866.5 2312.7,866.1 2328,865.7 2343.4,865.4 2358.8,865.1 2374.1,864.9 2389.5,864.8 2404.9,864.7 2420.2,864.6 2435.6,864.6 2451,864.6 2466.4,864.6 2481.7,864.6 2497.1,864.6 2512.5,864.6 2527.8,864.6 2543.2,864.6 2558.6,864.6 2573.9,864.6 2589.3,864.6 2601.1,864.6" stroke="url(#gd15)"/>
<path d="M1839.8,856.3 1851.6,856.3 1867,856.3 1882.3,856.3 1897.7,856.3 1913.1,856.3 1928.4,856.3 1943.8,856.3 1959.2,856.3 1974.5,856.3 1989.9,856.3 2005.3,856.4 2020.7,856.4 2036,856.6 2051.4,856.7 2066.8,857 2082.1,857.4 2097.5,857.9 2112.9,858.5 2128.2,859.3 2143.6,860.1 2159,860.9 2174.3,861.6 2189.7,862.2 2205.1,862.6 2220.4,862.8 2235.8,862.6 2251.2,862.2 2266.6,861.6 2281.9,860.9 2297.3,860.1 2312.7,859.3 2328,858.5 2343.4,857.9 2358.8,857.4 2374.1,857 2389.5,856.7 2404.9,856.6 2420.2,856.4 2435.6,856.4 2451,856.3 2466.4,856.3 2481.7,856.3 2497.1,856.3 2512.5,856.3 2527.8,856.3 2543.2,856.3 2558.6,856.3 2573.9,856.3 2589.3,856.3 2601.1,856.3" stroke="url(#gd16)"/>
<path d="M1839.8,848 1851.6,848 1867,848 1882.3,848 1897.7,848 1913.1,848 1928.4,848 1943.8,848 1959.2,848 1974.5,848 1989.9,848.1 2005.3,848.1 2020.7,848.2 2036,848.4 2051.4,848.7 2066.8,849.1 2082.1,849.7 2097.5,850.4 2112.9,851.4 2128.2,852.5 2143.6,853.7 2159,854.9 2174.3,856 2189.7,856.9 2205.1,857.5 2220.4,857.7 2235.8,857.5 2251.2,856.9 2266.6,856 2281.9,854.9 2297.3,853.7 2312.7,852.5 2328,851.4 2343.4,850.4 2358.8,849.7 2374.1,849.1 2389.5,848.7 2404.9,848.4 2420.2,848.2 2435.6,848.1 2451,848.1 2466.4,848 2481.7,848 2497.1,848 2512.5,848 2527.8,848 2543.2,848 2558.6,848 2573.9,848 2589.3,848 2601.1,848" stroke="url(#gd17)"/>
<path d="M1839.8,839.7 1851.6,839.7 1867,839.7 1882.3,839.7 1897.7,839.7 1913.1,839.7 1928.4,839.7 1943.8,839.7 1959.2,839.7 1974.5,839.8 1989.9,839.8 2005.3,839.9 2020.7,840 2036,840.3 2051.4,840.6 2066.8,841.2 2082.1,841.9 2097.5,842.9 2112.9,844.2 2128.2,845.7 2143.6,847.3 2159,848.9 2174.3,850.4 2189.7,851.6 2205.1,852.4 2220.4,852.7 2235.8,852.4 2251.2,851.6 2266.6,850.4 2281.9,848.9 2297.3,847.3 2312.7,845.7 2328,844.2 2343.4,842.9 2358.8,841.9 2374.1,841.2 2389.5,840.6 2404.9,840.3 2420.2,840 2435.6,839.9 2451,839.8 2466.4,839.8 2481.7,839.7 2497.1,839.7 2512.5,839.7 2527.8,839.7 2543.2,839.7 2558.6,839.7 2573.9,839.7 2589.3,839.7 2601.1,839.7" stroke="url(#gd18)"/>
<path d="M1839.8,831.4 1851.6,831.4 1867,831.4 1882.3,831.4 1897.7,831.4 1913.1,831.4 1928.4,831.4 1943.8,831.4 1959.2,831.5 1974.5,831.5 1989.9,831.5 2005.3,831.7 2020.7,831.8 2036,832.1 2051.4,832.6 2066.8,833.3 2082.1,834.2 2097.5,835.5 2112.9,837 2128.2,838.9 2143.6,840.9 2159,842.9 2174.3,844.8 2189.7,846.3 2205.1,847.3 2220.4,847.7 2235.8,847.3 2251.2,846.3 2266.6,844.8 2281.9,842.9 2297.3,840.9 2312.7,838.9 2328,837 2343.4,835.5 2358.8,834.2 2374.1,833.3 2389.5,832.6 2404.9,832.1 2420.2,831.8 2435.6,831.7 2451,831.5 2466.4,831.5 2481.7,831.5 2497.1,831.4 2512.5,831.4 2527.8,831.4 2543.2,831.4 2558.6,831.4 2573.9,831.4 2589.3,831.4 2601.1,831.4" stroke="url(#gd19)"/>
<path d="M1839.8,823.1 1851.6,823.1 1867,823.1 1882.3,823.1 1897.7,823.1 1913.1,823.1 1928.4,823.1 1943.8,823.2 1959.2,823.2 1974.5,823.2 1989.9,823.3 2005.3,823.4 2020.7,823.6 2036,824 2051.4,824.5 2066.8,825.4 2082.1,826.5 2097.5,828 2112.9,829.9 2128.2,832.1 2143.6,834.5 2159,836.9 2174.3,839.2 2189.7,841 2205.1,842.2 2220.4,842.6 2235.8,842.2 2251.2,841 2266.6,839.2 2281.9,836.9 2297.3,834.5 2312.7,832.1 2328,829.9 2343.4,828 2358.8,826.5 2374.1,825.4 2389.5,824.5 2404.9,824 2420.2,823.6 2435.6,823.4 2451,823.3 2466.4,823.2 2481.7,823.2 2497.1,823.2 2512.5,823.1 2527.8,823.1 2543.2,823.1 2558.6,823.1 2573.9,823.1 2589.3,823.1 2601.1,823.1" stroke="url(#gd20)"/>
<path d="M1839.8,814.9 1851.6,814.9 1867,814.9 1882.3,814.9 1897.7,814.9 1913.1,814.9 1928.4,814.9 1943.8,814.9 1959.2,814.9 1974.5,814.9 1989.9,815 2005.3,815.2 2020.7,815.4 2036,815.8 2051.4,816.5 2066.8,817.4 2082.1,818.8 2097.5,820.5 2112.9,822.7 2128.2,825.3 2143.6,828.1 2159,830.9 2174.3,833.6 2189.7,835.7 2205.1,837.1 2220.4,837.6 2235.8,837.1 2251.2,835.7 2266.6,833.6 2281.9,830.9 2297.3,828.1 2312.7,825.3 2328,822.7 2343.4,820.5 2358.8,818.8 2374.1,817.4 2389.5,816.5 2404.9,815.8 2420.2,815.4 2435.6,815.2 2451,815 2466.4,814.9 2481.7,814.9 2497.1,814.9 2512.5,814.9 2527.8,814.9 2543.2,814.9 2558.6,814.9 2573.9,814.9 2589.3,814.9 2601.1,814.9" stroke="url(#gd21)"/>
<path d="M1839.8,806.6 1851.6,806.6 1867,806.6 1882.3,806.6 1897.7,806.6 1913.1,806.6 1928.4,806.6 1943.8,806.6 1959.2,806.6 1974.5,806.7 1989.9,806.8 2005.3,806.9 2020.7,807.2 2036,807.7 2051.4,808.4 2066.8,809.5 2082.1,811 2097.5,813 2112.9,815.5 2128.2,818.5 2143.6,821.7 2159,824.9 2174.3,827.9 2189.7,830.4 2205.1,832 2220.4,832.5 2235.8,832 2251.2,830.4 2266.6,827.9 2281.9,824.9 2297.3,821.7 2312.7,818.5 2328,815.5 2343.4,813 2358.8,811 2374.1,809.5 2389.5,808.4 2404.9,807.7 2420.2,807.2 2435.6,806.9 2451,806.8 2466.4,806.7 2481.7,806.6 2497.1,806.6 2512.5,806.6 2527.8,806.6 2543.2,806.6 2558.6,806.6 2573.9,806.6 2589.3,806.6 2601.1,806.6" stroke="url(#gd22)"/>
<path d="M1839.8,798.3 1851.6,798.3 1867,798.3 1882.3,798.3 1897.7,798.3 1913.1,798.3 1928.4,798.3 1943.8,798.3 1959.2,798.3 1974.5,798.4 1989.9,798.5 2005.3,798.7 2020.7,799 2036,799.6 2051.4,800.4 2066.8,801.6 2082.1,803.3 2097.5,805.6 2112.9,808.4 2128.2,811.7 2143.6,815.3 2159,818.9 2174.3,822.3 2189.7,825.1 2205.1,826.9 2220.4,827.5 2235.8,826.9 2251.2,825.1 2266.6,822.3 2281.9,818.9 2297.3,815.3 2312.7,811.7 2328,808.4 2343.4,805.6 2358.8,803.3 2374.1,801.6 2389.5,800.4 2404.9,799.6 2420.2,799 2435.6,798.7 2451,798.5 2466.4,798.4 2481.7,798.3 2497.1,798.3 2512.5,798.3 2527.8,798.3 2543.2,798.3 2558.6,798.3 2573.9,798.3 2589.3,798.3 2601.1,798.3" stroke="url(#gd23)"/>
<path d="M1839.8,790 1851.6,790 1867,790 1882.3,790 1897.7,790 1913.1,790 1928.4,790 1943.8,790 1959.2,790.1 1974.5,790.1 1989.9,790.2 2005.3,790.5 2020.7,790.8 2036,791.4 2051.4,792.3 2066.8,793.7 2082.1,795.6 2097.5,798.1 2112.9,801.2 2128.2,804.9 2143.6,808.9 2159,812.9 2174.3,816.7 2189.7,819.8 2205.1,821.8 2220.4,822.5 2235.8,821.8 2251.2,819.8 2266.6,816.7 2281.9,812.9 2297.3,808.9 2312.7,804.9 2328,801.2 2343.4,798.1 2358.8,795.6 2374.1,793.7 2389.5,792.3 2404.9,791.4 2420.2,790.8 2435.6,790.5 2451,790.2 2466.4,790.1 2481.7,790.1 2497.1,790 2512.5,790 2527.8,790 2543.2,790 2558.6,790 2573.9,790 2589.3,790 2601.1,790" stroke="url(#gd24)"/>
<path d="M1839.8,781.7 1851.6,781.7 1867,781.7 1882.3,781.7 1897.7,781.7 1913.1,781.7 1928.4,781.7 1943.8,781.7 1959.2,781.8 1974.5,781.8 1989.9,782 2005.3,782.2 2020.7,782.6 2036,783.3 2051.4,784.3 2066.8,785.8 2082.1,787.9 2097.5,790.6 2112.9,794 2128.2,798.1 2143.6,802.5 2159,807 2174.3,811.1 2189.7,814.5 2205.1,816.7 2220.4,817.4 2235.8,816.7 2251.2,814.5 2266.6,811.1 2281.9,807 2297.3,802.5 2312.7,798.1 2328,794 2343.4,790.6 2358.8,787.9 2374.1,785.8 2389.5,784.3 2404.9,783.3 2420.2,782.6 2435.6,782.2 2451,782 2466.4,781.8 2481.7,781.8 2497.1,781.7 2512.5,781.7 2527.8,781.7 2543.2,781.7 2558.6,781.7 2573.9,781.7 2589.3,781.7 2601.1,781.7" stroke="url(#gd25)"/>
<path d="M1839.8,773.4 1851.6,773.4 1867,773.4 1882.3,773.4 1897.7,773.4 1913.1,773.4 1928.4,773.4 1943.8,773.5 1959.2,773.5 1974.5,773.6 1989.9,773.7 2005.3,774 2020.7,774.4 2036,775.1 2051.4,776.2 2066.8,777.9 2082.1,780.1 2097.5,783.1 2112.9,786.9 2128.2,791.3 2143.6,796.1 2159,801 2174.3,805.5 2189.7,809.2 2205.1,811.6 2220.4,812.4 2235.8,811.6 2251.2,809.2 2266.6,805.5 2281.9,801 2297.3,796.1 2312.7,791.3 2328,786.9 2343.4,783.1 2358.8,780.1 2374.1,777.9 2389.5,776.2 2404.9,775.1 2420.2,774.4 2435.6,774 2451,773.7 2466.4,773.6 2481.7,773.5 2497.1,773.5 2512.5,773.4 2527.8,773.4 2543.2,773.4 2558.6,773.4 2573.9,773.4 2589.3,773.4 2601.1,773.4" stroke="url(#gd26)"/>
<path d="M1839.8,765.1 1851.6,765.1 1867,765.1 1882.3,765.1 1897.7,765.1 1913.1,765.1 1928.4,765.2 1943.8,765.2 1959.2,765.2 1974.5,765.3 1989.9,765.5 2005.3,765.7 2020.7,766.2 2036,767 2051.4,768.2 2066.8,770 2082.1,772.4 2097.5,775.7 2112.9,779.7 2128.2,784.5 2143.6,789.7 2159,795 2174.3,799.9 2189.7,803.8 2205.1,806.5 2220.4,807.4 2235.8,806.5 2251.2,803.8 2266.6,799.9 2281.9,795 2297.3,789.7 2312.7,784.5 2328,779.7 2343.4,775.7 2358.8,772.4 2374.1,770 2389.5,768.2 2404.9,767 2420.2,766.2 2435.6,765.7 2451,765.5 2466.4,765.3 2481.7,765.2 2497.1,765.2 2512.5,765.2 2527.8,765.1 2543.2,765.1 2558.6,765.1 2573.9,765.1 2589.3,765.1 2601.1,765.1" stroke="url(#gd27)"/>
<path d="M1839.8,756.9 1851.6,756.9 1867,756.9 1882.3,756.9 1897.7,756.9 1913.1,756.9 1928.4,756.9 1943.8,756.9 1959.2,756.9 1974.5,757 1989.9,757.2 2005.3,757.5 2020.7,758 2036,758.8 2051.4,760.1 2066.8,762 2082.1,764.7 2097.5,768.2 2112.9,772.6 2128.2,777.7 2143.6,783.3 2159,789 2174.3,794.3 2189.7,798.5 2205.1,801.3 2220.4,802.3 2235.8,801.3 2251.2,798.5 2266.6,794.3 2281.9,789 2297.3,783.3 2312.7,777.7 2328,772.6 2343.4,768.2 2358.8,764.7 2374.1,762 2389.5,760.1 2404.9,758.8 2420.2,758 2435.6,757.5 2451,757.2 2466.4,757 2481.7,756.9 2497.1,756.9 2512.5,756.9 2527.8,756.9 2543.2,756.9 2558.6,756.9 2573.9,756.9 2589.3,756.9 2601.1,756.9" stroke="#404ca0"/></g>
</g>
<path d="M1809.9,697.4V1047.3H2634.8" fill="none" stroke="#1a1718" stroke-width="3" stroke-linejoin="miter"/>
<path d="M1809.9,754.2h14.5M1809.9,814.1h14.5M1809.9,874.0h14.5M1809.9,933.9h14.5M1809.9,993.4h14.5M1851.6,1047.3v-13.5M1999.5,1047.3v-13.5M2147.4,1047.3v-13.5M2295.3,1047.3v-13.5M2443.2,1047.3v-13.5M2591.1,1047.3v-13.5" fill="none" stroke="#1a1718" stroke-width="2.9"/>
<text x="1770.3" y="768.8" text-anchor="end">0.050</text>
<text x="1770.3" y="828.7" text-anchor="end">0.025</text>
<text x="1770.3" y="888.6" text-anchor="end">0</text>
<text x="1770.3" y="948.5" text-anchor="end">−0.025</text>
<text x="1770.3" y="1008.0" text-anchor="end">−0.050</text>
<text x="1850.6" y="1124.1" text-anchor="middle">0</text>
<text x="1998.5" y="1124.1" text-anchor="middle">0.2</text>
<text x="2146.4" y="1124.1" text-anchor="middle">0.4</text>
<text x="2294.3" y="1124.1" text-anchor="middle">0.6</text>
<text x="2442.2" y="1124.1" text-anchor="middle">0.8</text>
<text x="2590.1" y="1124.1" text-anchor="middle">1.0</text>
<defs><linearGradient id="cbd" x1="0" y1="0" x2="0" y2="1"><stop offset="0.000" stop-color="#a1202d"/><stop offset="0.025" stop-color="#a62430"/><stop offset="0.050" stop-color="#af2d37"/><stop offset="0.075" stop-color="#b8363e"/><stop offset="0.100" stop-color="#c03f44"/><stop offset="0.125" stop-color="#c8484b"/><stop offset="0.150" stop-color="#cd5051"/><stop offset="0.175" stop-color="#d35856"/><stop offset="0.200" stop-color="#d7615c"/><stop offset="0.225" stop-color="#dc6c62"/><stop offset="0.250" stop-color="#e07569"/><stop offset="0.275" stop-color="#e37e71"/><stop offset="0.300" stop-color="#e7887a"/><stop offset="0.325" stop-color="#eb9383"/><stop offset="0.350" stop-color="#ec9e8e"/><stop offset="0.375" stop-color="#eda999"/><stop offset="0.400" stop-color="#ecb4a4"/><stop offset="0.425" stop-color="#ebbfb0"/><stop offset="0.450" stop-color="#e9c8bd"/><stop offset="0.475" stop-color="#e4cfca"/><stop offset="0.500" stop-color="#ddd5d5"/><stop offset="0.525" stop-color="#d4d5dc"/><stop offset="0.550" stop-color="#c9d1e1"/><stop offset="0.575" stop-color="#c0cce4"/><stop offset="0.600" stop-color="#b7c7e6"/><stop offset="0.625" stop-color="#afc1e5"/><stop offset="0.650" stop-color="#a7bbe2"/><stop offset="0.675" stop-color="#a0b5df"/><stop offset="0.700" stop-color="#97afdd"/><stop offset="0.725" stop-color="#8ea6d9"/><stop offset="0.750" stop-color="#849cd3"/><stop offset="0.775" stop-color="#7a93ce"/><stop offset="0.800" stop-color="#718ac8"/><stop offset="0.825" stop-color="#6881c3"/><stop offset="0.850" stop-color="#6179bd"/><stop offset="0.875" stop-color="#5970b8"/><stop offset="0.900" stop-color="#5368b2"/><stop offset="0.925" stop-color="#4e60ad"/><stop offset="0.950" stop-color="#4959a8"/><stop offset="0.975" stop-color="#4452a4"/><stop offset="1.000" stop-color="#404ca0"/></linearGradient></defs>
<rect x="2683.6" y="699.1" width="18.5" height="348.9" fill="url(#cbd)" stroke="#1a1718" stroke-width="2.6"/>
<text x="2739.6" y="729.0">0.12</text>
<text x="2739.6" y="787.5">0.10</text>
<text x="2739.6" y="846.0">0.08</text>
<text x="2739.6" y="904.4">0.06</text>
<text x="2739.6" y="962.9">0.04</text>
<text x="2739.6" y="1021.4">0.02</text>
<path d="M2703.1,712.0h10.5M2703.1,769.8h10.5M2703.1,830.3h10.5M2703.1,888.3h10.5M2703.1,946.7h10.5M2703.1,1004.4h10.5" fill="none" stroke="#1a1718" stroke-width="2.2"/>
<text x="2222.7" y="755.0" text-anchor="middle" fill="#3f55a5"><tspan font-style="italic">u</tspan> DNN</text>
<text x="2221.3" y="1205.6" text-anchor="middle">DNN (data only)</text>
<text x="1769.8" y="698.9" text-anchor="end" font-weight="bold">d</text>
</g>
</svg>
</body></html>
